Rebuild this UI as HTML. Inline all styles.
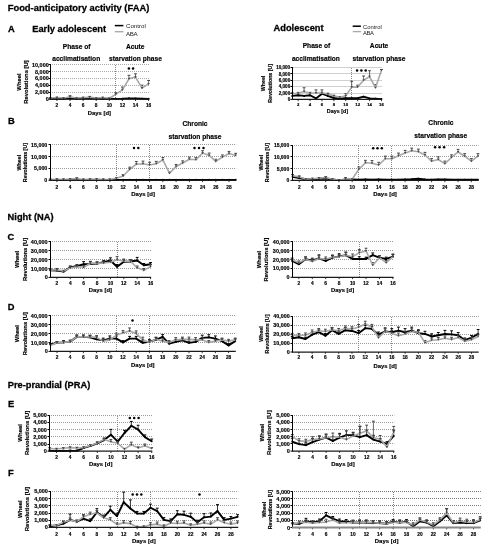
<!DOCTYPE html>
<html><head><meta charset="utf-8"><title>Wheel revolutions figure</title>
<style>
html,body{margin:0;padding:0;background:#fff;}
body{width:488px;height:550px;overflow:hidden;}
svg{display:block;font-family:'Liberation Sans', Arial, sans-serif;}
</style></head><body>
<svg width="488" height="550" viewBox="0 0 488 550">
<rect width="488" height="550" fill="#fff"/>
<line x1="52.00" y1="92.50" x2="149.20" y2="92.50" stroke="#aaa" stroke-width="1" stroke-dasharray="1,1"/>
<line x1="52.00" y1="85.50" x2="149.20" y2="85.50" stroke="#aaa" stroke-width="1" stroke-dasharray="1,1"/>
<line x1="52.00" y1="78.50" x2="149.20" y2="78.50" stroke="#aaa" stroke-width="1" stroke-dasharray="1,1"/>
<line x1="52.00" y1="71.50" x2="149.20" y2="71.50" stroke="#aaa" stroke-width="1" stroke-dasharray="1,1"/>
<line x1="52.00" y1="64.50" x2="149.20" y2="64.50" stroke="#aaa" stroke-width="1" stroke-dasharray="1,1"/>
<line x1="115.50" y1="65.00" x2="115.50" y2="99.20" stroke="#888" stroke-width="1" stroke-dasharray="1,1"/>
<text x="48.70" y="101.27" font-size="5.45" text-anchor="end" font-weight="bold" fill="#000" stroke="#000" stroke-width="0.16" >0</text>
<line x1="48.50" y1="99.20" x2="50.50" y2="99.20" stroke="#000" stroke-width="1" />
<text x="48.70" y="94.33" font-size="5.45" text-anchor="end" font-weight="bold" fill="#000" stroke="#000" stroke-width="0.16" >2,000</text>
<line x1="48.50" y1="92.50" x2="50.50" y2="92.50" stroke="#000" stroke-width="1" />
<text x="48.70" y="87.39" font-size="5.45" text-anchor="end" font-weight="bold" fill="#000" stroke="#000" stroke-width="0.16" >4,000</text>
<line x1="48.50" y1="85.50" x2="50.50" y2="85.50" stroke="#000" stroke-width="1" />
<text x="48.70" y="80.45" font-size="5.45" text-anchor="end" font-weight="bold" fill="#000" stroke="#000" stroke-width="0.16" >6,000</text>
<line x1="48.50" y1="78.50" x2="50.50" y2="78.50" stroke="#000" stroke-width="1" />
<text x="48.70" y="73.51" font-size="5.45" text-anchor="end" font-weight="bold" fill="#000" stroke="#000" stroke-width="0.16" >8,000</text>
<line x1="48.50" y1="71.50" x2="50.50" y2="71.50" stroke="#000" stroke-width="1" />
<text x="48.70" y="66.57" font-size="5.45" text-anchor="end" font-weight="bold" fill="#000" stroke="#000" stroke-width="0.16" >10,000</text>
<line x1="48.50" y1="64.50" x2="50.50" y2="64.50" stroke="#000" stroke-width="1" />
<line x1="56.90" y1="99.20" x2="56.90" y2="101.00" stroke="#000" stroke-width="0.8" />
<text x="56.90" y="106.93" font-size="4.8" text-anchor="middle" font-weight="bold" fill="#000" stroke="#000" stroke-width="0.16" >2</text>
<line x1="70.00" y1="99.20" x2="70.00" y2="101.00" stroke="#000" stroke-width="0.8" />
<text x="70.00" y="106.93" font-size="4.8" text-anchor="middle" font-weight="bold" fill="#000" stroke="#000" stroke-width="0.16" >4</text>
<line x1="83.10" y1="99.20" x2="83.10" y2="101.00" stroke="#000" stroke-width="0.8" />
<text x="83.10" y="106.93" font-size="4.8" text-anchor="middle" font-weight="bold" fill="#000" stroke="#000" stroke-width="0.16" >6</text>
<line x1="96.20" y1="99.20" x2="96.20" y2="101.00" stroke="#000" stroke-width="0.8" />
<text x="96.20" y="106.93" font-size="4.8" text-anchor="middle" font-weight="bold" fill="#000" stroke="#000" stroke-width="0.16" >8</text>
<line x1="109.30" y1="99.20" x2="109.30" y2="101.00" stroke="#000" stroke-width="0.8" />
<text x="109.30" y="106.93" font-size="4.8" text-anchor="middle" font-weight="bold" fill="#000" stroke="#000" stroke-width="0.16" >10</text>
<line x1="122.40" y1="99.20" x2="122.40" y2="101.00" stroke="#000" stroke-width="0.8" />
<text x="122.40" y="106.93" font-size="4.8" text-anchor="middle" font-weight="bold" fill="#000" stroke="#000" stroke-width="0.16" >12</text>
<line x1="135.50" y1="99.20" x2="135.50" y2="101.00" stroke="#000" stroke-width="0.8" />
<text x="135.50" y="106.93" font-size="4.8" text-anchor="middle" font-weight="bold" fill="#000" stroke="#000" stroke-width="0.16" >14</text>
<line x1="148.60" y1="99.20" x2="148.60" y2="101.00" stroke="#000" stroke-width="0.8" />
<text x="148.60" y="106.93" font-size="4.8" text-anchor="middle" font-weight="bold" fill="#000" stroke="#000" stroke-width="0.16" >16</text>
<polyline points="50.35,98.68 56.90,98.51 63.45,98.68 70.00,98.33 76.55,98.68 83.10,98.51 89.65,98.33 96.20,98.51 102.75,98.68 109.30,98.68 115.85,98.85 122.40,98.68 128.95,98.33 135.50,98.51 142.05,98.68 148.60,98.85" fill="none" stroke="#000" stroke-width="1.9" stroke-linejoin="round"/>
<circle cx="50.35" cy="98.68" r="1.0" fill="#000"/>
<circle cx="56.90" cy="98.51" r="1.0" fill="#000"/>
<circle cx="63.45" cy="98.68" r="1.0" fill="#000"/>
<circle cx="70.00" cy="98.33" r="1.0" fill="#000"/>
<circle cx="76.55" cy="98.68" r="1.0" fill="#000"/>
<circle cx="83.10" cy="98.51" r="1.0" fill="#000"/>
<circle cx="89.65" cy="98.33" r="1.0" fill="#000"/>
<circle cx="96.20" cy="98.51" r="1.0" fill="#000"/>
<circle cx="102.75" cy="98.68" r="1.0" fill="#000"/>
<circle cx="109.30" cy="98.68" r="1.0" fill="#000"/>
<circle cx="115.85" cy="98.85" r="1.0" fill="#000"/>
<circle cx="122.40" cy="98.68" r="1.0" fill="#000"/>
<circle cx="128.95" cy="98.33" r="1.0" fill="#000"/>
<circle cx="135.50" cy="98.51" r="1.0" fill="#000"/>
<circle cx="142.05" cy="98.68" r="1.0" fill="#000"/>
<circle cx="148.60" cy="98.85" r="1.0" fill="#000"/>
<line x1="50.35" y1="98.16" x2="50.35" y2="97.47" stroke="#444" stroke-width="0.8" />
<line x1="48.95" y1="97.47" x2="51.75" y2="97.47" stroke="#444" stroke-width="1.0" />
<line x1="56.90" y1="97.81" x2="56.90" y2="97.12" stroke="#444" stroke-width="0.8" />
<line x1="55.50" y1="97.12" x2="58.30" y2="97.12" stroke="#444" stroke-width="1.0" />
<line x1="63.45" y1="98.16" x2="63.45" y2="97.64" stroke="#444" stroke-width="0.8" />
<line x1="62.05" y1="97.64" x2="64.85" y2="97.64" stroke="#444" stroke-width="1.0" />
<line x1="70.00" y1="96.77" x2="70.00" y2="95.73" stroke="#444" stroke-width="0.8" />
<line x1="68.60" y1="95.73" x2="71.40" y2="95.73" stroke="#444" stroke-width="1.0" />
<line x1="76.55" y1="98.16" x2="76.55" y2="97.47" stroke="#444" stroke-width="0.8" />
<line x1="75.15" y1="97.47" x2="77.95" y2="97.47" stroke="#444" stroke-width="1.0" />
<line x1="83.10" y1="97.81" x2="83.10" y2="97.29" stroke="#444" stroke-width="0.8" />
<line x1="81.70" y1="97.29" x2="84.50" y2="97.29" stroke="#444" stroke-width="1.0" />
<line x1="89.65" y1="97.12" x2="89.65" y2="96.42" stroke="#444" stroke-width="0.8" />
<line x1="88.25" y1="96.42" x2="91.05" y2="96.42" stroke="#444" stroke-width="1.0" />
<line x1="96.20" y1="98.16" x2="96.20" y2="97.64" stroke="#444" stroke-width="0.8" />
<line x1="94.80" y1="97.64" x2="97.60" y2="97.64" stroke="#444" stroke-width="1.0" />
<line x1="102.75" y1="97.81" x2="102.75" y2="97.29" stroke="#444" stroke-width="0.8" />
<line x1="101.35" y1="97.29" x2="104.15" y2="97.29" stroke="#444" stroke-width="1.0" />
<line x1="109.30" y1="98.51" x2="109.30" y2="98.16" stroke="#444" stroke-width="0.8" />
<line x1="107.90" y1="98.16" x2="110.70" y2="98.16" stroke="#444" stroke-width="1.0" />
<line x1="115.85" y1="94.10" x2="115.85" y2="92.71" stroke="#444" stroke-width="0.8" />
<line x1="114.45" y1="92.71" x2="117.25" y2="92.71" stroke="#444" stroke-width="1.0" />
<line x1="122.40" y1="89.83" x2="122.40" y2="87.06" stroke="#444" stroke-width="0.8" />
<line x1="121.00" y1="87.06" x2="123.80" y2="87.06" stroke="#444" stroke-width="1.0" />
<line x1="128.95" y1="78.80" x2="128.95" y2="75.33" stroke="#444" stroke-width="0.8" />
<line x1="127.55" y1="75.33" x2="130.35" y2="75.33" stroke="#444" stroke-width="1.0" />
<line x1="135.50" y1="77.10" x2="135.50" y2="73.80" stroke="#444" stroke-width="0.8" />
<line x1="134.10" y1="73.80" x2="136.90" y2="73.80" stroke="#444" stroke-width="1.0" />
<line x1="142.05" y1="88.10" x2="142.05" y2="85.15" stroke="#444" stroke-width="0.8" />
<line x1="140.65" y1="85.15" x2="143.45" y2="85.15" stroke="#444" stroke-width="1.0" />
<line x1="148.60" y1="83.93" x2="148.60" y2="80.46" stroke="#444" stroke-width="0.8" />
<line x1="147.20" y1="80.46" x2="150.00" y2="80.46" stroke="#444" stroke-width="1.0" />
<polyline points="50.35,98.16 56.90,97.81 63.45,98.16 70.00,96.77 76.55,98.16 83.10,97.81 89.65,97.12 96.20,98.16 102.75,97.81 109.30,98.51 115.85,94.10 122.40,89.83 128.95,78.80 135.50,77.10 142.05,88.10 148.60,83.93" fill="none" stroke="#a8a8a8" stroke-width="1.6" stroke-linejoin="round"/>
<path d="M49.15,97.16H51.55L50.35,99.26Z" fill="#444"/>
<path d="M55.70,96.81H58.10L56.90,98.91Z" fill="#444"/>
<path d="M62.25,97.16H64.65L63.45,99.26Z" fill="#444"/>
<path d="M68.80,95.77H71.20L70.00,97.87Z" fill="#444"/>
<path d="M75.35,97.16H77.75L76.55,99.26Z" fill="#444"/>
<path d="M81.90,96.81H84.30L83.10,98.91Z" fill="#444"/>
<path d="M88.45,96.12H90.85L89.65,98.22Z" fill="#444"/>
<path d="M95.00,97.16H97.40L96.20,99.26Z" fill="#444"/>
<path d="M101.55,96.81H103.95L102.75,98.91Z" fill="#444"/>
<path d="M108.10,97.51H110.50L109.30,99.61Z" fill="#444"/>
<path d="M114.65,93.10H117.05L115.85,95.20Z" fill="#444"/>
<path d="M121.20,88.83H123.60L122.40,90.93Z" fill="#444"/>
<path d="M127.75,77.80H130.15L128.95,79.90Z" fill="#444"/>
<path d="M134.30,76.10H136.70L135.50,78.20Z" fill="#444"/>
<path d="M140.85,87.10H143.25L142.05,89.20Z" fill="#444"/>
<path d="M147.40,82.93H149.80L148.60,85.03Z" fill="#444"/>
<line x1="50.50" y1="64.00" x2="50.50" y2="99.20" stroke="#000" stroke-width="1.0" />
<line x1="50.00" y1="99.20" x2="149.20" y2="99.20" stroke="#1a1a1a" stroke-width="1.25" />
<text transform="translate(20.60,82.00) rotate(-90)" font-size="5.9" text-anchor="middle" font-weight="bold" fill="#000" stroke="#000" stroke-width="0.16">Wheel</text>
<text transform="translate(27.60,82.00) rotate(-90)" font-size="5.9" text-anchor="middle" font-weight="bold" fill="#000" stroke="#000" stroke-width="0.16">Revolutions [U]</text>
<text x="99.40" y="114.60" font-size="5.9" text-anchor="middle" font-weight="bold" fill="#000" stroke="#000" stroke-width="0.16" >Days [d]</text>
<line x1="293.00" y1="93.50" x2="382.05" y2="93.50" stroke="#d0d0d0" stroke-width="1" />
<line x1="293.00" y1="86.50" x2="382.05" y2="86.50" stroke="#d0d0d0" stroke-width="1" />
<line x1="293.00" y1="80.50" x2="382.05" y2="80.50" stroke="#d0d0d0" stroke-width="1" />
<line x1="293.00" y1="73.50" x2="382.05" y2="73.50" stroke="#d0d0d0" stroke-width="1" />
<line x1="293.00" y1="67.50" x2="382.05" y2="67.50" stroke="#d0d0d0" stroke-width="1" />
<line x1="351.50" y1="68.00" x2="351.50" y2="99.40" stroke="#888" stroke-width="1" stroke-dasharray="1,1"/>
<text x="290.20" y="101.15" font-size="4.6" text-anchor="end" font-weight="bold" fill="#000" stroke="#000" stroke-width="0.16" >0</text>
<line x1="290.50" y1="99.40" x2="292.50" y2="99.40" stroke="#000" stroke-width="1" />
<text x="290.20" y="94.75" font-size="4.6" text-anchor="end" font-weight="bold" fill="#000" stroke="#000" stroke-width="0.16" >2,000</text>
<line x1="290.50" y1="93.50" x2="292.50" y2="93.50" stroke="#000" stroke-width="1" />
<text x="290.20" y="88.35" font-size="4.6" text-anchor="end" font-weight="bold" fill="#000" stroke="#000" stroke-width="0.16" >4,000</text>
<line x1="290.50" y1="86.50" x2="292.50" y2="86.50" stroke="#000" stroke-width="1" />
<text x="290.20" y="81.95" font-size="4.6" text-anchor="end" font-weight="bold" fill="#000" stroke="#000" stroke-width="0.16" >6,000</text>
<line x1="290.50" y1="80.50" x2="292.50" y2="80.50" stroke="#000" stroke-width="1" />
<text x="290.20" y="75.55" font-size="4.6" text-anchor="end" font-weight="bold" fill="#000" stroke="#000" stroke-width="0.16" >8,000</text>
<line x1="290.50" y1="73.50" x2="292.50" y2="73.50" stroke="#000" stroke-width="1" />
<text x="290.20" y="69.15" font-size="4.6" text-anchor="end" font-weight="bold" fill="#000" stroke="#000" stroke-width="0.16" >10,000</text>
<line x1="290.50" y1="67.50" x2="292.50" y2="67.50" stroke="#000" stroke-width="1" />
<line x1="298.15" y1="99.40" x2="298.15" y2="101.20" stroke="#000" stroke-width="0.8" />
<text x="298.15" y="106.35" font-size="4.3" text-anchor="middle" font-weight="bold" fill="#000" stroke="#000" stroke-width="0.16" >2</text>
<line x1="310.05" y1="99.40" x2="310.05" y2="101.20" stroke="#000" stroke-width="0.8" />
<text x="310.05" y="106.35" font-size="4.3" text-anchor="middle" font-weight="bold" fill="#000" stroke="#000" stroke-width="0.16" >4</text>
<line x1="321.95" y1="99.40" x2="321.95" y2="101.20" stroke="#000" stroke-width="0.8" />
<text x="321.95" y="106.35" font-size="4.3" text-anchor="middle" font-weight="bold" fill="#000" stroke="#000" stroke-width="0.16" >6</text>
<line x1="333.85" y1="99.40" x2="333.85" y2="101.20" stroke="#000" stroke-width="0.8" />
<text x="333.85" y="106.35" font-size="4.3" text-anchor="middle" font-weight="bold" fill="#000" stroke="#000" stroke-width="0.16" >8</text>
<line x1="345.75" y1="99.40" x2="345.75" y2="101.20" stroke="#000" stroke-width="0.8" />
<text x="345.75" y="106.35" font-size="4.3" text-anchor="middle" font-weight="bold" fill="#000" stroke="#000" stroke-width="0.16" >10</text>
<line x1="357.65" y1="99.40" x2="357.65" y2="101.20" stroke="#000" stroke-width="0.8" />
<text x="357.65" y="106.35" font-size="4.3" text-anchor="middle" font-weight="bold" fill="#000" stroke="#000" stroke-width="0.16" >12</text>
<line x1="369.55" y1="99.40" x2="369.55" y2="101.20" stroke="#000" stroke-width="0.8" />
<text x="369.55" y="106.35" font-size="4.3" text-anchor="middle" font-weight="bold" fill="#000" stroke="#000" stroke-width="0.16" >14</text>
<line x1="381.45" y1="99.40" x2="381.45" y2="101.20" stroke="#000" stroke-width="0.8" />
<text x="381.45" y="106.35" font-size="4.3" text-anchor="middle" font-weight="bold" fill="#000" stroke="#000" stroke-width="0.16" >16</text>
<polyline points="292.20,95.88 298.15,95.24 304.10,95.88 310.05,95.24 316.00,98.44 321.95,93.64 327.90,95.88 333.85,97.99 339.80,98.44 345.75,98.28 351.70,98.28 357.65,98.28 363.60,96.68 369.55,98.44 375.50,98.76 381.45,99.08" fill="none" stroke="#000" stroke-width="1.9" stroke-linejoin="round"/>
<circle cx="292.20" cy="95.88" r="1.0" fill="#000"/>
<circle cx="298.15" cy="95.24" r="1.0" fill="#000"/>
<circle cx="304.10" cy="95.88" r="1.0" fill="#000"/>
<circle cx="310.05" cy="95.24" r="1.0" fill="#000"/>
<circle cx="316.00" cy="98.44" r="1.0" fill="#000"/>
<circle cx="321.95" cy="93.64" r="1.0" fill="#000"/>
<circle cx="327.90" cy="95.88" r="1.0" fill="#000"/>
<circle cx="333.85" cy="97.99" r="1.0" fill="#000"/>
<circle cx="339.80" cy="98.44" r="1.0" fill="#000"/>
<circle cx="345.75" cy="98.28" r="1.0" fill="#000"/>
<circle cx="351.70" cy="98.28" r="1.0" fill="#000"/>
<circle cx="357.65" cy="98.28" r="1.0" fill="#000"/>
<circle cx="363.60" cy="96.68" r="1.0" fill="#000"/>
<circle cx="369.55" cy="98.44" r="1.0" fill="#000"/>
<circle cx="375.50" cy="98.76" r="1.0" fill="#000"/>
<circle cx="381.45" cy="99.08" r="1.0" fill="#000"/>
<line x1="292.20" y1="93.70" x2="292.20" y2="92.74" stroke="#444" stroke-width="0.8" />
<line x1="290.80" y1="92.74" x2="293.60" y2="92.74" stroke="#444" stroke-width="1.0" />
<line x1="298.15" y1="93.32" x2="298.15" y2="92.36" stroke="#444" stroke-width="0.8" />
<line x1="296.75" y1="92.36" x2="299.55" y2="92.36" stroke="#444" stroke-width="1.0" />
<line x1="304.10" y1="91.59" x2="304.10" y2="87.75" stroke="#444" stroke-width="0.8" />
<line x1="302.70" y1="87.75" x2="305.50" y2="87.75" stroke="#444" stroke-width="1.0" />
<line x1="310.05" y1="93.32" x2="310.05" y2="92.36" stroke="#444" stroke-width="0.8" />
<line x1="308.65" y1="92.36" x2="311.45" y2="92.36" stroke="#444" stroke-width="1.0" />
<line x1="316.00" y1="93.00" x2="316.00" y2="89.90" stroke="#444" stroke-width="0.8" />
<line x1="314.60" y1="89.90" x2="317.40" y2="89.90" stroke="#444" stroke-width="1.0" />
<line x1="321.95" y1="92.68" x2="321.95" y2="89.90" stroke="#444" stroke-width="0.8" />
<line x1="320.55" y1="89.90" x2="323.35" y2="89.90" stroke="#444" stroke-width="1.0" />
<line x1="327.90" y1="94.12" x2="327.90" y2="93.16" stroke="#444" stroke-width="0.8" />
<line x1="326.50" y1="93.16" x2="329.30" y2="93.16" stroke="#444" stroke-width="1.0" />
<line x1="333.85" y1="95.88" x2="333.85" y2="95.24" stroke="#444" stroke-width="0.8" />
<line x1="332.45" y1="95.24" x2="335.25" y2="95.24" stroke="#444" stroke-width="1.0" />
<line x1="339.80" y1="97.32" x2="339.80" y2="96.68" stroke="#444" stroke-width="0.8" />
<line x1="338.40" y1="96.68" x2="341.20" y2="96.68" stroke="#444" stroke-width="1.0" />
<line x1="345.75" y1="95.88" x2="345.75" y2="93.70" stroke="#444" stroke-width="0.8" />
<line x1="344.35" y1="93.70" x2="347.15" y2="93.70" stroke="#444" stroke-width="1.0" />
<line x1="351.70" y1="87.08" x2="351.70" y2="81.32" stroke="#444" stroke-width="0.8" />
<line x1="350.30" y1="81.32" x2="353.10" y2="81.32" stroke="#444" stroke-width="1.0" />
<line x1="357.65" y1="87.08" x2="357.65" y2="85.16" stroke="#444" stroke-width="0.8" />
<line x1="356.25" y1="85.16" x2="359.05" y2="85.16" stroke="#444" stroke-width="1.0" />
<line x1="363.60" y1="80.26" x2="363.60" y2="76.01" stroke="#444" stroke-width="0.8" />
<line x1="362.20" y1="76.01" x2="365.00" y2="76.01" stroke="#444" stroke-width="1.0" />
<line x1="369.55" y1="76.62" x2="369.55" y2="70.70" stroke="#444" stroke-width="0.8" />
<line x1="368.15" y1="70.70" x2="370.95" y2="70.70" stroke="#444" stroke-width="1.0" />
<line x1="375.50" y1="87.69" x2="375.50" y2="84.49" stroke="#444" stroke-width="0.8" />
<line x1="374.10" y1="84.49" x2="376.90" y2="84.49" stroke="#444" stroke-width="1.0" />
<line x1="381.45" y1="70.22" x2="381.45" y2="69.58" stroke="#444" stroke-width="0.8" />
<line x1="380.05" y1="69.58" x2="382.85" y2="69.58" stroke="#444" stroke-width="1.0" />
<polyline points="292.20,93.70 298.15,93.32 304.10,91.59 310.05,93.32 316.00,93.00 321.95,92.68 327.90,94.12 333.85,95.88 339.80,97.32 345.75,95.88 351.70,87.08 357.65,87.08 363.60,80.26 369.55,76.62 375.50,87.69 381.45,70.22" fill="none" stroke="#a8a8a8" stroke-width="1.6" stroke-linejoin="round"/>
<path d="M291.00,92.70H293.40L292.20,94.80Z" fill="#444"/>
<path d="M296.95,92.32H299.35L298.15,94.42Z" fill="#444"/>
<path d="M302.90,90.59H305.30L304.10,92.69Z" fill="#444"/>
<path d="M308.85,92.32H311.25L310.05,94.42Z" fill="#444"/>
<path d="M314.80,92.00H317.20L316.00,94.10Z" fill="#444"/>
<path d="M320.75,91.68H323.15L321.95,93.78Z" fill="#444"/>
<path d="M326.70,93.12H329.10L327.90,95.22Z" fill="#444"/>
<path d="M332.65,94.88H335.05L333.85,96.98Z" fill="#444"/>
<path d="M338.60,96.32H341.00L339.80,98.42Z" fill="#444"/>
<path d="M344.55,94.88H346.95L345.75,96.98Z" fill="#444"/>
<path d="M350.50,86.08H352.90L351.70,88.18Z" fill="#444"/>
<path d="M356.45,86.08H358.85L357.65,88.18Z" fill="#444"/>
<path d="M362.40,79.26H364.80L363.60,81.36Z" fill="#444"/>
<path d="M368.35,75.62H370.75L369.55,77.72Z" fill="#444"/>
<path d="M374.30,86.69H376.70L375.50,88.79Z" fill="#444"/>
<path d="M380.25,69.22H382.65L381.45,71.32Z" fill="#444"/>
<line x1="292.50" y1="67.00" x2="292.50" y2="99.20" stroke="#000" stroke-width="1.0" />
<line x1="292.00" y1="99.40" x2="382.05" y2="99.40" stroke="#1a1a1a" stroke-width="1.25" />
<text transform="translate(265.30,83.40) rotate(-90)" font-size="5.25" text-anchor="middle" font-weight="bold" fill="#000" stroke="#000" stroke-width="0.16">Wheel</text>
<text transform="translate(271.60,83.40) rotate(-90)" font-size="5.25" text-anchor="middle" font-weight="bold" fill="#000" stroke="#000" stroke-width="0.16">Revolutions [U]</text>
<text x="337.50" y="112.70" font-size="5.4" text-anchor="middle" font-weight="bold" fill="#000" stroke="#000" stroke-width="0.16" >Days [d]</text>
<line x1="52.00" y1="168.50" x2="236.26" y2="168.50" stroke="#999" stroke-width="1" stroke-dasharray="1,1"/>
<line x1="52.00" y1="156.50" x2="236.26" y2="156.50" stroke="#999" stroke-width="1" stroke-dasharray="1,1"/>
<line x1="52.00" y1="144.50" x2="236.26" y2="144.50" stroke="#999" stroke-width="1" stroke-dasharray="1,1"/>
<line x1="116.50" y1="145.00" x2="116.50" y2="180.30" stroke="#888" stroke-width="1" stroke-dasharray="1,1"/>
<line x1="149.50" y1="145.00" x2="149.50" y2="180.30" stroke="#888" stroke-width="1" stroke-dasharray="1,1"/>
<text x="47.30" y="182.31" font-size="5.3" text-anchor="end" font-weight="bold" fill="#000" stroke="#000" stroke-width="0.16" >0</text>
<line x1="48.50" y1="180.30" x2="50.50" y2="180.30" stroke="#000" stroke-width="1" />
<text x="47.30" y="170.48" font-size="5.3" text-anchor="end" font-weight="bold" fill="#000" stroke="#000" stroke-width="0.16" >5,000</text>
<line x1="48.50" y1="168.50" x2="50.50" y2="168.50" stroke="#000" stroke-width="1" />
<text x="47.30" y="158.65" font-size="5.3" text-anchor="end" font-weight="bold" fill="#000" stroke="#000" stroke-width="0.16" >10,000</text>
<line x1="48.50" y1="156.50" x2="50.50" y2="156.50" stroke="#000" stroke-width="1" />
<text x="47.30" y="146.81" font-size="5.3" text-anchor="end" font-weight="bold" fill="#000" stroke="#000" stroke-width="0.16" >15,000</text>
<line x1="48.50" y1="144.50" x2="50.50" y2="144.50" stroke="#000" stroke-width="1" />
<line x1="56.92" y1="180.30" x2="56.92" y2="182.10" stroke="#000" stroke-width="0.8" />
<text x="56.92" y="188.63" font-size="4.8" text-anchor="middle" font-weight="bold" fill="#000" stroke="#000" stroke-width="0.16" >2</text>
<line x1="70.16" y1="180.30" x2="70.16" y2="182.10" stroke="#000" stroke-width="0.8" />
<text x="70.16" y="188.63" font-size="4.8" text-anchor="middle" font-weight="bold" fill="#000" stroke="#000" stroke-width="0.16" >4</text>
<line x1="83.40" y1="180.30" x2="83.40" y2="182.10" stroke="#000" stroke-width="0.8" />
<text x="83.40" y="188.63" font-size="4.8" text-anchor="middle" font-weight="bold" fill="#000" stroke="#000" stroke-width="0.16" >6</text>
<line x1="96.64" y1="180.30" x2="96.64" y2="182.10" stroke="#000" stroke-width="0.8" />
<text x="96.64" y="188.63" font-size="4.8" text-anchor="middle" font-weight="bold" fill="#000" stroke="#000" stroke-width="0.16" >8</text>
<line x1="109.88" y1="180.30" x2="109.88" y2="182.10" stroke="#000" stroke-width="0.8" />
<text x="109.88" y="188.63" font-size="4.8" text-anchor="middle" font-weight="bold" fill="#000" stroke="#000" stroke-width="0.16" >10</text>
<line x1="123.12" y1="180.30" x2="123.12" y2="182.10" stroke="#000" stroke-width="0.8" />
<text x="123.12" y="188.63" font-size="4.8" text-anchor="middle" font-weight="bold" fill="#000" stroke="#000" stroke-width="0.16" >12</text>
<line x1="136.36" y1="180.30" x2="136.36" y2="182.10" stroke="#000" stroke-width="0.8" />
<text x="136.36" y="188.63" font-size="4.8" text-anchor="middle" font-weight="bold" fill="#000" stroke="#000" stroke-width="0.16" >14</text>
<line x1="149.60" y1="180.30" x2="149.60" y2="182.10" stroke="#000" stroke-width="0.8" />
<text x="149.60" y="188.63" font-size="4.8" text-anchor="middle" font-weight="bold" fill="#000" stroke="#000" stroke-width="0.16" >16</text>
<line x1="162.84" y1="180.30" x2="162.84" y2="182.10" stroke="#000" stroke-width="0.8" />
<text x="162.84" y="188.63" font-size="4.8" text-anchor="middle" font-weight="bold" fill="#000" stroke="#000" stroke-width="0.16" >18</text>
<line x1="176.08" y1="180.30" x2="176.08" y2="182.10" stroke="#000" stroke-width="0.8" />
<text x="176.08" y="188.63" font-size="4.8" text-anchor="middle" font-weight="bold" fill="#000" stroke="#000" stroke-width="0.16" >20</text>
<line x1="189.32" y1="180.30" x2="189.32" y2="182.10" stroke="#000" stroke-width="0.8" />
<text x="189.32" y="188.63" font-size="4.8" text-anchor="middle" font-weight="bold" fill="#000" stroke="#000" stroke-width="0.16" >22</text>
<line x1="202.56" y1="180.30" x2="202.56" y2="182.10" stroke="#000" stroke-width="0.8" />
<text x="202.56" y="188.63" font-size="4.8" text-anchor="middle" font-weight="bold" fill="#000" stroke="#000" stroke-width="0.16" >24</text>
<line x1="215.80" y1="180.30" x2="215.80" y2="182.10" stroke="#000" stroke-width="0.8" />
<text x="215.80" y="188.63" font-size="4.8" text-anchor="middle" font-weight="bold" fill="#000" stroke="#000" stroke-width="0.16" >26</text>
<line x1="229.04" y1="180.30" x2="229.04" y2="182.10" stroke="#000" stroke-width="0.8" />
<text x="229.04" y="188.63" font-size="4.8" text-anchor="middle" font-weight="bold" fill="#000" stroke="#000" stroke-width="0.16" >28</text>
<polyline points="50.30,179.83 56.92,179.83 63.54,179.83 70.16,179.83 76.78,179.83 83.40,179.83 90.02,179.83 96.64,179.83 103.26,179.83 109.88,179.83 116.50,179.83 123.12,179.83 129.74,179.83 136.36,179.83 142.98,179.83 149.60,179.83 156.22,179.83 162.84,179.83 169.46,179.83 176.08,179.83 182.70,179.83 189.32,179.83 195.94,179.83 202.56,179.83 209.18,179.83 215.80,179.83 222.42,179.83 229.04,179.83 235.66,179.83" fill="none" stroke="#000" stroke-width="1.9" stroke-linejoin="round"/>
<circle cx="50.30" cy="179.83" r="1.0" fill="#000"/>
<circle cx="56.92" cy="179.83" r="1.0" fill="#000"/>
<circle cx="63.54" cy="179.83" r="1.0" fill="#000"/>
<circle cx="70.16" cy="179.83" r="1.0" fill="#000"/>
<circle cx="76.78" cy="179.83" r="1.0" fill="#000"/>
<circle cx="83.40" cy="179.83" r="1.0" fill="#000"/>
<circle cx="90.02" cy="179.83" r="1.0" fill="#000"/>
<circle cx="96.64" cy="179.83" r="1.0" fill="#000"/>
<circle cx="103.26" cy="179.83" r="1.0" fill="#000"/>
<circle cx="109.88" cy="179.83" r="1.0" fill="#000"/>
<circle cx="116.50" cy="179.83" r="1.0" fill="#000"/>
<circle cx="123.12" cy="179.83" r="1.0" fill="#000"/>
<circle cx="129.74" cy="179.83" r="1.0" fill="#000"/>
<circle cx="136.36" cy="179.83" r="1.0" fill="#000"/>
<circle cx="142.98" cy="179.83" r="1.0" fill="#000"/>
<circle cx="149.60" cy="179.83" r="1.0" fill="#000"/>
<circle cx="156.22" cy="179.83" r="1.0" fill="#000"/>
<circle cx="162.84" cy="179.83" r="1.0" fill="#000"/>
<circle cx="169.46" cy="179.83" r="1.0" fill="#000"/>
<circle cx="176.08" cy="179.83" r="1.0" fill="#000"/>
<circle cx="182.70" cy="179.83" r="1.0" fill="#000"/>
<circle cx="189.32" cy="179.83" r="1.0" fill="#000"/>
<circle cx="195.94" cy="179.83" r="1.0" fill="#000"/>
<circle cx="202.56" cy="179.83" r="1.0" fill="#000"/>
<circle cx="209.18" cy="179.83" r="1.0" fill="#000"/>
<circle cx="215.80" cy="179.83" r="1.0" fill="#000"/>
<circle cx="222.42" cy="179.83" r="1.0" fill="#000"/>
<circle cx="229.04" cy="179.83" r="1.0" fill="#000"/>
<circle cx="235.66" cy="179.83" r="1.0" fill="#000"/>
<line x1="50.30" y1="179.59" x2="50.30" y2="179.12" stroke="#444" stroke-width="0.8" />
<line x1="48.90" y1="179.12" x2="51.70" y2="179.12" stroke="#444" stroke-width="1.0" />
<line x1="56.92" y1="179.35" x2="56.92" y2="178.88" stroke="#444" stroke-width="0.8" />
<line x1="55.52" y1="178.88" x2="58.32" y2="178.88" stroke="#444" stroke-width="1.0" />
<line x1="63.54" y1="179.47" x2="63.54" y2="179.00" stroke="#444" stroke-width="0.8" />
<line x1="62.14" y1="179.00" x2="64.94" y2="179.00" stroke="#444" stroke-width="1.0" />
<line x1="70.16" y1="179.12" x2="70.16" y2="178.64" stroke="#444" stroke-width="0.8" />
<line x1="68.76" y1="178.64" x2="71.56" y2="178.64" stroke="#444" stroke-width="1.0" />
<line x1="76.78" y1="178.64" x2="76.78" y2="177.70" stroke="#444" stroke-width="0.8" />
<line x1="75.38" y1="177.70" x2="78.18" y2="177.70" stroke="#444" stroke-width="1.0" />
<line x1="83.40" y1="179.59" x2="83.40" y2="179.12" stroke="#444" stroke-width="0.8" />
<line x1="82.00" y1="179.12" x2="84.80" y2="179.12" stroke="#444" stroke-width="1.0" />
<line x1="90.02" y1="179.35" x2="90.02" y2="178.88" stroke="#444" stroke-width="0.8" />
<line x1="88.62" y1="178.88" x2="91.42" y2="178.88" stroke="#444" stroke-width="1.0" />
<line x1="96.64" y1="179.12" x2="96.64" y2="178.64" stroke="#444" stroke-width="0.8" />
<line x1="95.24" y1="178.64" x2="98.04" y2="178.64" stroke="#444" stroke-width="1.0" />
<line x1="103.26" y1="179.47" x2="103.26" y2="179.00" stroke="#444" stroke-width="0.8" />
<line x1="101.86" y1="179.00" x2="104.66" y2="179.00" stroke="#444" stroke-width="1.0" />
<line x1="109.88" y1="179.59" x2="109.88" y2="179.12" stroke="#444" stroke-width="0.8" />
<line x1="108.48" y1="179.12" x2="111.28" y2="179.12" stroke="#444" stroke-width="1.0" />
<line x1="116.50" y1="178.17" x2="116.50" y2="177.46" stroke="#444" stroke-width="0.8" />
<line x1="115.10" y1="177.46" x2="117.90" y2="177.46" stroke="#444" stroke-width="1.0" />
<line x1="123.12" y1="176.04" x2="123.12" y2="174.62" stroke="#444" stroke-width="0.8" />
<line x1="121.72" y1="174.62" x2="124.52" y2="174.62" stroke="#444" stroke-width="1.0" />
<line x1="129.74" y1="169.30" x2="129.74" y2="167.17" stroke="#444" stroke-width="0.8" />
<line x1="128.34" y1="167.17" x2="131.14" y2="167.17" stroke="#444" stroke-width="1.0" />
<line x1="136.36" y1="164.21" x2="136.36" y2="161.60" stroke="#444" stroke-width="0.8" />
<line x1="134.96" y1="161.60" x2="137.76" y2="161.60" stroke="#444" stroke-width="1.0" />
<line x1="142.98" y1="163.73" x2="142.98" y2="161.13" stroke="#444" stroke-width="0.8" />
<line x1="141.58" y1="161.13" x2="144.38" y2="161.13" stroke="#444" stroke-width="1.0" />
<line x1="149.60" y1="164.92" x2="149.60" y2="162.31" stroke="#444" stroke-width="0.8" />
<line x1="148.20" y1="162.31" x2="151.00" y2="162.31" stroke="#444" stroke-width="1.0" />
<line x1="156.22" y1="163.73" x2="156.22" y2="161.37" stroke="#444" stroke-width="0.8" />
<line x1="154.82" y1="161.37" x2="157.62" y2="161.37" stroke="#444" stroke-width="1.0" />
<line x1="162.84" y1="159.95" x2="162.84" y2="157.58" stroke="#444" stroke-width="0.8" />
<line x1="161.44" y1="157.58" x2="164.24" y2="157.58" stroke="#444" stroke-width="1.0" />
<line x1="169.46" y1="173.20" x2="169.46" y2="172.02" stroke="#444" stroke-width="0.8" />
<line x1="168.06" y1="172.02" x2="170.86" y2="172.02" stroke="#444" stroke-width="1.0" />
<line x1="176.08" y1="166.57" x2="176.08" y2="164.44" stroke="#444" stroke-width="0.8" />
<line x1="174.68" y1="164.44" x2="177.48" y2="164.44" stroke="#444" stroke-width="1.0" />
<line x1="182.70" y1="163.02" x2="182.70" y2="160.89" stroke="#444" stroke-width="0.8" />
<line x1="181.30" y1="160.89" x2="184.10" y2="160.89" stroke="#444" stroke-width="1.0" />
<line x1="189.32" y1="159.24" x2="189.32" y2="157.11" stroke="#444" stroke-width="0.8" />
<line x1="187.92" y1="157.11" x2="190.72" y2="157.11" stroke="#444" stroke-width="1.0" />
<line x1="195.94" y1="159.71" x2="195.94" y2="157.58" stroke="#444" stroke-width="0.8" />
<line x1="194.54" y1="157.58" x2="197.34" y2="157.58" stroke="#444" stroke-width="1.0" />
<line x1="202.56" y1="153.08" x2="202.56" y2="150.72" stroke="#444" stroke-width="0.8" />
<line x1="201.16" y1="150.72" x2="203.96" y2="150.72" stroke="#444" stroke-width="1.0" />
<line x1="209.18" y1="155.45" x2="209.18" y2="153.08" stroke="#444" stroke-width="0.8" />
<line x1="207.78" y1="153.08" x2="210.58" y2="153.08" stroke="#444" stroke-width="1.0" />
<line x1="215.80" y1="161.37" x2="215.80" y2="159.24" stroke="#444" stroke-width="0.8" />
<line x1="214.40" y1="159.24" x2="217.20" y2="159.24" stroke="#444" stroke-width="1.0" />
<line x1="222.42" y1="157.11" x2="222.42" y2="154.98" stroke="#444" stroke-width="0.8" />
<line x1="221.02" y1="154.98" x2="223.82" y2="154.98" stroke="#444" stroke-width="1.0" />
<line x1="229.04" y1="153.56" x2="229.04" y2="151.43" stroke="#444" stroke-width="0.8" />
<line x1="227.64" y1="151.43" x2="230.44" y2="151.43" stroke="#444" stroke-width="1.0" />
<line x1="235.66" y1="155.45" x2="235.66" y2="153.32" stroke="#444" stroke-width="0.8" />
<line x1="234.26" y1="153.32" x2="237.06" y2="153.32" stroke="#444" stroke-width="1.0" />
<polyline points="50.30,179.59 56.92,179.35 63.54,179.47 70.16,179.12 76.78,178.64 83.40,179.59 90.02,179.35 96.64,179.12 103.26,179.47 109.88,179.59 116.50,178.17 123.12,176.04 129.74,169.30 136.36,164.21 142.98,163.73 149.60,164.92 156.22,163.73 162.84,159.95 169.46,173.20 176.08,166.57 182.70,163.02 189.32,159.24 195.94,159.71 202.56,153.08 209.18,155.45 215.80,161.37 222.42,157.11 229.04,153.56 235.66,155.45" fill="none" stroke="#a8a8a8" stroke-width="1.6" stroke-linejoin="round"/>
<path d="M49.10,178.59H51.50L50.30,180.69Z" fill="#444"/>
<path d="M55.72,178.35H58.12L56.92,180.45Z" fill="#444"/>
<path d="M62.34,178.47H64.74L63.54,180.57Z" fill="#444"/>
<path d="M68.96,178.12H71.36L70.16,180.22Z" fill="#444"/>
<path d="M75.58,177.64H77.98L76.78,179.74Z" fill="#444"/>
<path d="M82.20,178.59H84.60L83.40,180.69Z" fill="#444"/>
<path d="M88.82,178.35H91.22L90.02,180.45Z" fill="#444"/>
<path d="M95.44,178.12H97.84L96.64,180.22Z" fill="#444"/>
<path d="M102.06,178.47H104.46L103.26,180.57Z" fill="#444"/>
<path d="M108.68,178.59H111.08L109.88,180.69Z" fill="#444"/>
<path d="M115.30,177.17H117.70L116.50,179.27Z" fill="#444"/>
<path d="M121.92,175.04H124.32L123.12,177.14Z" fill="#444"/>
<path d="M128.54,168.30H130.94L129.74,170.40Z" fill="#444"/>
<path d="M135.16,163.21H137.56L136.36,165.31Z" fill="#444"/>
<path d="M141.78,162.73H144.18L142.98,164.83Z" fill="#444"/>
<path d="M148.40,163.92H150.80L149.60,166.02Z" fill="#444"/>
<path d="M155.02,162.73H157.42L156.22,164.83Z" fill="#444"/>
<path d="M161.64,158.95H164.04L162.84,161.05Z" fill="#444"/>
<path d="M168.26,172.20H170.66L169.46,174.30Z" fill="#444"/>
<path d="M174.88,165.57H177.28L176.08,167.67Z" fill="#444"/>
<path d="M181.50,162.02H183.90L182.70,164.12Z" fill="#444"/>
<path d="M188.12,158.24H190.52L189.32,160.34Z" fill="#444"/>
<path d="M194.74,158.71H197.14L195.94,160.81Z" fill="#444"/>
<path d="M201.36,152.08H203.76L202.56,154.18Z" fill="#444"/>
<path d="M207.98,154.45H210.38L209.18,156.55Z" fill="#444"/>
<path d="M214.60,160.37H217.00L215.80,162.47Z" fill="#444"/>
<path d="M221.22,156.11H223.62L222.42,158.21Z" fill="#444"/>
<path d="M227.84,152.56H230.24L229.04,154.66Z" fill="#444"/>
<path d="M234.46,154.45H236.86L235.66,156.55Z" fill="#444"/>
<line x1="50.50" y1="144.00" x2="50.50" y2="180.20" stroke="#000" stroke-width="1.0" />
<line x1="50.00" y1="180.30" x2="236.26" y2="180.30" stroke="#1a1a1a" stroke-width="1.25" />
<text transform="translate(20.90,162.60) rotate(-90)" font-size="5.3" text-anchor="middle" font-weight="bold" fill="#000" stroke="#000" stroke-width="0.16">Wheel</text>
<text transform="translate(27.00,162.60) rotate(-90)" font-size="5.3" text-anchor="middle" font-weight="bold" fill="#000" stroke="#000" stroke-width="0.16">Revolutions [U]</text>
<text x="143.10" y="196.00" font-size="6.0" text-anchor="middle" font-weight="bold" fill="#000" stroke="#000" stroke-width="0.16" >Days [d]</text>
<line x1="294.00" y1="168.50" x2="478.56" y2="168.50" stroke="#999" stroke-width="1" stroke-dasharray="1,1"/>
<line x1="294.00" y1="156.50" x2="478.56" y2="156.50" stroke="#999" stroke-width="1" stroke-dasharray="1,1"/>
<line x1="294.00" y1="145.50" x2="478.56" y2="145.50" stroke="#999" stroke-width="1" stroke-dasharray="1,1"/>
<line x1="358.50" y1="146.00" x2="358.50" y2="180.40" stroke="#888" stroke-width="1" stroke-dasharray="1,1"/>
<line x1="391.50" y1="146.00" x2="391.50" y2="180.40" stroke="#888" stroke-width="1" stroke-dasharray="1,1"/>
<text x="289.20" y="182.30" font-size="5.0" text-anchor="end" font-weight="bold" fill="#000" stroke="#000" stroke-width="0.16" >0</text>
<line x1="290.50" y1="180.40" x2="292.50" y2="180.40" stroke="#000" stroke-width="1" />
<text x="289.20" y="170.50" font-size="5.0" text-anchor="end" font-weight="bold" fill="#000" stroke="#000" stroke-width="0.16" >5,000</text>
<line x1="290.50" y1="168.50" x2="292.50" y2="168.50" stroke="#000" stroke-width="1" />
<text x="289.20" y="158.70" font-size="5.0" text-anchor="end" font-weight="bold" fill="#000" stroke="#000" stroke-width="0.16" >10,000</text>
<line x1="290.50" y1="156.50" x2="292.50" y2="156.50" stroke="#000" stroke-width="1" />
<text x="289.20" y="146.90" font-size="5.0" text-anchor="end" font-weight="bold" fill="#000" stroke="#000" stroke-width="0.16" >15,000</text>
<line x1="290.50" y1="145.50" x2="292.50" y2="145.50" stroke="#000" stroke-width="1" />
<line x1="299.22" y1="180.40" x2="299.22" y2="182.20" stroke="#000" stroke-width="0.8" />
<text x="299.22" y="188.63" font-size="4.8" text-anchor="middle" font-weight="bold" fill="#000" stroke="#000" stroke-width="0.16" >2</text>
<line x1="312.46" y1="180.40" x2="312.46" y2="182.20" stroke="#000" stroke-width="0.8" />
<text x="312.46" y="188.63" font-size="4.8" text-anchor="middle" font-weight="bold" fill="#000" stroke="#000" stroke-width="0.16" >4</text>
<line x1="325.70" y1="180.40" x2="325.70" y2="182.20" stroke="#000" stroke-width="0.8" />
<text x="325.70" y="188.63" font-size="4.8" text-anchor="middle" font-weight="bold" fill="#000" stroke="#000" stroke-width="0.16" >6</text>
<line x1="338.94" y1="180.40" x2="338.94" y2="182.20" stroke="#000" stroke-width="0.8" />
<text x="338.94" y="188.63" font-size="4.8" text-anchor="middle" font-weight="bold" fill="#000" stroke="#000" stroke-width="0.16" >8</text>
<line x1="352.18" y1="180.40" x2="352.18" y2="182.20" stroke="#000" stroke-width="0.8" />
<text x="352.18" y="188.63" font-size="4.8" text-anchor="middle" font-weight="bold" fill="#000" stroke="#000" stroke-width="0.16" >10</text>
<line x1="365.42" y1="180.40" x2="365.42" y2="182.20" stroke="#000" stroke-width="0.8" />
<text x="365.42" y="188.63" font-size="4.8" text-anchor="middle" font-weight="bold" fill="#000" stroke="#000" stroke-width="0.16" >12</text>
<line x1="378.66" y1="180.40" x2="378.66" y2="182.20" stroke="#000" stroke-width="0.8" />
<text x="378.66" y="188.63" font-size="4.8" text-anchor="middle" font-weight="bold" fill="#000" stroke="#000" stroke-width="0.16" >14</text>
<line x1="391.90" y1="180.40" x2="391.90" y2="182.20" stroke="#000" stroke-width="0.8" />
<text x="391.90" y="188.63" font-size="4.8" text-anchor="middle" font-weight="bold" fill="#000" stroke="#000" stroke-width="0.16" >16</text>
<line x1="405.14" y1="180.40" x2="405.14" y2="182.20" stroke="#000" stroke-width="0.8" />
<text x="405.14" y="188.63" font-size="4.8" text-anchor="middle" font-weight="bold" fill="#000" stroke="#000" stroke-width="0.16" >18</text>
<line x1="418.38" y1="180.40" x2="418.38" y2="182.20" stroke="#000" stroke-width="0.8" />
<text x="418.38" y="188.63" font-size="4.8" text-anchor="middle" font-weight="bold" fill="#000" stroke="#000" stroke-width="0.16" >20</text>
<line x1="431.62" y1="180.40" x2="431.62" y2="182.20" stroke="#000" stroke-width="0.8" />
<text x="431.62" y="188.63" font-size="4.8" text-anchor="middle" font-weight="bold" fill="#000" stroke="#000" stroke-width="0.16" >22</text>
<line x1="444.86" y1="180.40" x2="444.86" y2="182.20" stroke="#000" stroke-width="0.8" />
<text x="444.86" y="188.63" font-size="4.8" text-anchor="middle" font-weight="bold" fill="#000" stroke="#000" stroke-width="0.16" >24</text>
<line x1="458.10" y1="180.40" x2="458.10" y2="182.20" stroke="#000" stroke-width="0.8" />
<text x="458.10" y="188.63" font-size="4.8" text-anchor="middle" font-weight="bold" fill="#000" stroke="#000" stroke-width="0.16" >26</text>
<line x1="471.34" y1="180.40" x2="471.34" y2="182.20" stroke="#000" stroke-width="0.8" />
<text x="471.34" y="188.63" font-size="4.8" text-anchor="middle" font-weight="bold" fill="#000" stroke="#000" stroke-width="0.16" >28</text>
<polyline points="292.60,176.86 299.22,178.04 305.84,179.22 312.46,179.22 319.08,178.75 325.70,178.51 332.32,179.46 338.94,180.16 345.56,179.69 352.18,179.46 358.80,179.69 365.42,179.46 372.04,179.69 378.66,179.46 385.28,179.69 391.90,179.69 398.52,179.69 405.14,179.46 411.76,179.22 418.38,178.75 425.00,179.46 431.62,179.69 438.24,179.46 444.86,179.46 451.48,179.69 458.10,179.69 464.72,179.69 471.34,179.69 477.96,179.69" fill="none" stroke="#000" stroke-width="1.9" stroke-linejoin="round"/>
<circle cx="292.60" cy="176.86" r="1.0" fill="#000"/>
<circle cx="299.22" cy="178.04" r="1.0" fill="#000"/>
<circle cx="305.84" cy="179.22" r="1.0" fill="#000"/>
<circle cx="312.46" cy="179.22" r="1.0" fill="#000"/>
<circle cx="319.08" cy="178.75" r="1.0" fill="#000"/>
<circle cx="325.70" cy="178.51" r="1.0" fill="#000"/>
<circle cx="332.32" cy="179.46" r="1.0" fill="#000"/>
<circle cx="338.94" cy="180.16" r="1.0" fill="#000"/>
<circle cx="345.56" cy="179.69" r="1.0" fill="#000"/>
<circle cx="352.18" cy="179.46" r="1.0" fill="#000"/>
<circle cx="358.80" cy="179.69" r="1.0" fill="#000"/>
<circle cx="365.42" cy="179.46" r="1.0" fill="#000"/>
<circle cx="372.04" cy="179.69" r="1.0" fill="#000"/>
<circle cx="378.66" cy="179.46" r="1.0" fill="#000"/>
<circle cx="385.28" cy="179.69" r="1.0" fill="#000"/>
<circle cx="391.90" cy="179.69" r="1.0" fill="#000"/>
<circle cx="398.52" cy="179.69" r="1.0" fill="#000"/>
<circle cx="405.14" cy="179.46" r="1.0" fill="#000"/>
<circle cx="411.76" cy="179.22" r="1.0" fill="#000"/>
<circle cx="418.38" cy="178.75" r="1.0" fill="#000"/>
<circle cx="425.00" cy="179.46" r="1.0" fill="#000"/>
<circle cx="431.62" cy="179.69" r="1.0" fill="#000"/>
<circle cx="438.24" cy="179.46" r="1.0" fill="#000"/>
<circle cx="444.86" cy="179.46" r="1.0" fill="#000"/>
<circle cx="451.48" cy="179.69" r="1.0" fill="#000"/>
<circle cx="458.10" cy="179.69" r="1.0" fill="#000"/>
<circle cx="464.72" cy="179.69" r="1.0" fill="#000"/>
<circle cx="471.34" cy="179.69" r="1.0" fill="#000"/>
<circle cx="477.96" cy="179.69" r="1.0" fill="#000"/>
<line x1="292.60" y1="175.68" x2="292.60" y2="174.50" stroke="#444" stroke-width="0.8" />
<line x1="291.20" y1="174.50" x2="294.00" y2="174.50" stroke="#444" stroke-width="1.0" />
<line x1="299.22" y1="176.86" x2="299.22" y2="175.92" stroke="#444" stroke-width="0.8" />
<line x1="297.82" y1="175.92" x2="300.62" y2="175.92" stroke="#444" stroke-width="1.0" />
<line x1="305.84" y1="179.22" x2="305.84" y2="178.75" stroke="#444" stroke-width="0.8" />
<line x1="304.44" y1="178.75" x2="307.24" y2="178.75" stroke="#444" stroke-width="1.0" />
<line x1="312.46" y1="178.75" x2="312.46" y2="178.28" stroke="#444" stroke-width="0.8" />
<line x1="311.06" y1="178.28" x2="313.86" y2="178.28" stroke="#444" stroke-width="1.0" />
<line x1="319.08" y1="178.28" x2="319.08" y2="177.57" stroke="#444" stroke-width="0.8" />
<line x1="317.68" y1="177.57" x2="320.48" y2="177.57" stroke="#444" stroke-width="1.0" />
<line x1="325.70" y1="177.57" x2="325.70" y2="176.62" stroke="#444" stroke-width="0.8" />
<line x1="324.30" y1="176.62" x2="327.10" y2="176.62" stroke="#444" stroke-width="1.0" />
<line x1="332.32" y1="179.22" x2="332.32" y2="178.75" stroke="#444" stroke-width="0.8" />
<line x1="330.92" y1="178.75" x2="333.72" y2="178.75" stroke="#444" stroke-width="1.0" />
<line x1="338.94" y1="180.16" x2="338.94" y2="179.93" stroke="#444" stroke-width="0.8" />
<line x1="337.54" y1="179.93" x2="340.34" y2="179.93" stroke="#444" stroke-width="1.0" />
<line x1="345.56" y1="178.75" x2="345.56" y2="177.57" stroke="#444" stroke-width="0.8" />
<line x1="344.16" y1="177.57" x2="346.96" y2="177.57" stroke="#444" stroke-width="1.0" />
<line x1="352.18" y1="179.22" x2="352.18" y2="178.75" stroke="#444" stroke-width="0.8" />
<line x1="350.78" y1="178.75" x2="353.58" y2="178.75" stroke="#444" stroke-width="1.0" />
<line x1="358.80" y1="169.31" x2="358.80" y2="166.95" stroke="#444" stroke-width="0.8" />
<line x1="357.40" y1="166.95" x2="360.20" y2="166.95" stroke="#444" stroke-width="1.0" />
<line x1="365.42" y1="162.70" x2="365.42" y2="160.34" stroke="#444" stroke-width="0.8" />
<line x1="364.02" y1="160.34" x2="366.82" y2="160.34" stroke="#444" stroke-width="1.0" />
<line x1="372.04" y1="163.20" x2="372.04" y2="160.60" stroke="#444" stroke-width="0.8" />
<line x1="370.64" y1="160.60" x2="373.44" y2="160.60" stroke="#444" stroke-width="1.0" />
<line x1="378.66" y1="164.94" x2="378.66" y2="162.35" stroke="#444" stroke-width="0.8" />
<line x1="377.26" y1="162.35" x2="380.06" y2="162.35" stroke="#444" stroke-width="1.0" />
<line x1="385.28" y1="158.71" x2="385.28" y2="156.12" stroke="#444" stroke-width="0.8" />
<line x1="383.88" y1="156.12" x2="386.68" y2="156.12" stroke="#444" stroke-width="1.0" />
<line x1="391.90" y1="158.71" x2="391.90" y2="156.12" stroke="#444" stroke-width="0.8" />
<line x1="390.50" y1="156.12" x2="393.30" y2="156.12" stroke="#444" stroke-width="1.0" />
<line x1="398.52" y1="155.71" x2="398.52" y2="153.12" stroke="#444" stroke-width="0.8" />
<line x1="397.12" y1="153.12" x2="399.92" y2="153.12" stroke="#444" stroke-width="1.0" />
<line x1="405.14" y1="152.98" x2="405.14" y2="150.38" stroke="#444" stroke-width="0.8" />
<line x1="403.74" y1="150.38" x2="406.54" y2="150.38" stroke="#444" stroke-width="1.0" />
<line x1="411.76" y1="150.73" x2="411.76" y2="148.14" stroke="#444" stroke-width="0.8" />
<line x1="410.36" y1="148.14" x2="413.16" y2="148.14" stroke="#444" stroke-width="1.0" />
<line x1="418.38" y1="151.73" x2="418.38" y2="149.13" stroke="#444" stroke-width="0.8" />
<line x1="416.98" y1="149.13" x2="419.78" y2="149.13" stroke="#444" stroke-width="1.0" />
<line x1="425.00" y1="154.98" x2="425.00" y2="152.39" stroke="#444" stroke-width="0.8" />
<line x1="423.60" y1="152.39" x2="426.40" y2="152.39" stroke="#444" stroke-width="1.0" />
<line x1="431.62" y1="161.21" x2="431.62" y2="158.62" stroke="#444" stroke-width="0.8" />
<line x1="430.22" y1="158.62" x2="433.02" y2="158.62" stroke="#444" stroke-width="1.0" />
<line x1="438.24" y1="159.47" x2="438.24" y2="156.87" stroke="#444" stroke-width="0.8" />
<line x1="436.84" y1="156.87" x2="439.64" y2="156.87" stroke="#444" stroke-width="1.0" />
<line x1="444.86" y1="163.69" x2="444.86" y2="161.10" stroke="#444" stroke-width="0.8" />
<line x1="443.46" y1="161.10" x2="446.26" y2="161.10" stroke="#444" stroke-width="1.0" />
<line x1="451.48" y1="157.46" x2="451.48" y2="154.86" stroke="#444" stroke-width="0.8" />
<line x1="450.08" y1="154.86" x2="452.88" y2="154.86" stroke="#444" stroke-width="1.0" />
<line x1="458.10" y1="151.99" x2="458.10" y2="149.39" stroke="#444" stroke-width="0.8" />
<line x1="456.70" y1="149.39" x2="459.50" y2="149.39" stroke="#444" stroke-width="1.0" />
<line x1="464.72" y1="156.23" x2="464.72" y2="153.64" stroke="#444" stroke-width="0.8" />
<line x1="463.32" y1="153.64" x2="466.12" y2="153.64" stroke="#444" stroke-width="1.0" />
<line x1="471.34" y1="161.21" x2="471.34" y2="158.62" stroke="#444" stroke-width="0.8" />
<line x1="469.94" y1="158.62" x2="472.74" y2="158.62" stroke="#444" stroke-width="1.0" />
<line x1="477.96" y1="156.23" x2="477.96" y2="153.64" stroke="#444" stroke-width="0.8" />
<line x1="476.56" y1="153.64" x2="479.36" y2="153.64" stroke="#444" stroke-width="1.0" />
<polyline points="292.60,175.68 299.22,176.86 305.84,179.22 312.46,178.75 319.08,178.28 325.70,177.57 332.32,179.22 338.94,180.16 345.56,178.75 352.18,179.22 358.80,169.31 365.42,162.70 372.04,163.20 378.66,164.94 385.28,158.71 391.90,158.71 398.52,155.71 405.14,152.98 411.76,150.73 418.38,151.73 425.00,154.98 431.62,161.21 438.24,159.47 444.86,163.69 451.48,157.46 458.10,151.99 464.72,156.23 471.34,161.21 477.96,156.23" fill="none" stroke="#a8a8a8" stroke-width="1.6" stroke-linejoin="round"/>
<path d="M291.40,174.68H293.80L292.60,176.78Z" fill="#444"/>
<path d="M298.02,175.86H300.42L299.22,177.96Z" fill="#444"/>
<path d="M304.64,178.22H307.04L305.84,180.32Z" fill="#444"/>
<path d="M311.26,177.75H313.66L312.46,179.85Z" fill="#444"/>
<path d="M317.88,177.28H320.28L319.08,179.38Z" fill="#444"/>
<path d="M324.50,176.57H326.90L325.70,178.67Z" fill="#444"/>
<path d="M331.12,178.22H333.52L332.32,180.32Z" fill="#444"/>
<path d="M337.74,179.16H340.14L338.94,181.26Z" fill="#444"/>
<path d="M344.36,177.75H346.76L345.56,179.85Z" fill="#444"/>
<path d="M350.98,178.22H353.38L352.18,180.32Z" fill="#444"/>
<path d="M357.60,168.31H360.00L358.80,170.41Z" fill="#444"/>
<path d="M364.22,161.70H366.62L365.42,163.80Z" fill="#444"/>
<path d="M370.84,162.20H373.24L372.04,164.30Z" fill="#444"/>
<path d="M377.46,163.94H379.86L378.66,166.04Z" fill="#444"/>
<path d="M384.08,157.71H386.48L385.28,159.81Z" fill="#444"/>
<path d="M390.70,157.71H393.10L391.90,159.81Z" fill="#444"/>
<path d="M397.32,154.71H399.72L398.52,156.81Z" fill="#444"/>
<path d="M403.94,151.98H406.34L405.14,154.08Z" fill="#444"/>
<path d="M410.56,149.73H412.96L411.76,151.83Z" fill="#444"/>
<path d="M417.18,150.73H419.58L418.38,152.83Z" fill="#444"/>
<path d="M423.80,153.98H426.20L425.00,156.08Z" fill="#444"/>
<path d="M430.42,160.21H432.82L431.62,162.31Z" fill="#444"/>
<path d="M437.04,158.47H439.44L438.24,160.57Z" fill="#444"/>
<path d="M443.66,162.69H446.06L444.86,164.79Z" fill="#444"/>
<path d="M450.28,156.46H452.68L451.48,158.56Z" fill="#444"/>
<path d="M456.90,150.99H459.30L458.10,153.09Z" fill="#444"/>
<path d="M463.52,155.23H465.92L464.72,157.33Z" fill="#444"/>
<path d="M470.14,160.21H472.54L471.34,162.31Z" fill="#444"/>
<path d="M476.76,155.23H479.16L477.96,157.33Z" fill="#444"/>
<line x1="292.50" y1="145.00" x2="292.50" y2="180.20" stroke="#000" stroke-width="1.0" />
<line x1="292.00" y1="180.40" x2="478.56" y2="180.40" stroke="#1a1a1a" stroke-width="1.25" />
<text transform="translate(262.90,162.60) rotate(-90)" font-size="5.3" text-anchor="middle" font-weight="bold" fill="#000" stroke="#000" stroke-width="0.16">Wheel</text>
<text transform="translate(269.30,162.60) rotate(-90)" font-size="5.3" text-anchor="middle" font-weight="bold" fill="#000" stroke="#000" stroke-width="0.16">Revolutions [U]</text>
<text x="385.00" y="196.00" font-size="6.0" text-anchor="middle" font-weight="bold" fill="#000" stroke="#000" stroke-width="0.16" >Days [d]</text>
<line x1="52.00" y1="268.50" x2="151.15" y2="268.50" stroke="#999" stroke-width="1" stroke-dasharray="1,1"/>
<line x1="52.00" y1="259.50" x2="151.15" y2="259.50" stroke="#999" stroke-width="1" stroke-dasharray="1,1"/>
<line x1="52.00" y1="250.50" x2="151.15" y2="250.50" stroke="#999" stroke-width="1" stroke-dasharray="1,1"/>
<line x1="52.00" y1="241.50" x2="151.15" y2="241.50" stroke="#999" stroke-width="1" stroke-dasharray="1,1"/>
<line x1="117.50" y1="242.00" x2="117.50" y2="277.40" stroke="#888" stroke-width="1" stroke-dasharray="1,1"/>
<text x="47.70" y="279.49" font-size="5.5" text-anchor="end" font-weight="bold" fill="#000" stroke="#000" stroke-width="0.16" >0</text>
<line x1="48.50" y1="277.40" x2="50.50" y2="277.40" stroke="#000" stroke-width="1" />
<text x="47.70" y="270.54" font-size="5.5" text-anchor="end" font-weight="bold" fill="#000" stroke="#000" stroke-width="0.16" >10,000</text>
<line x1="48.50" y1="268.50" x2="50.50" y2="268.50" stroke="#000" stroke-width="1" />
<text x="47.70" y="261.59" font-size="5.5" text-anchor="end" font-weight="bold" fill="#000" stroke="#000" stroke-width="0.16" >20,000</text>
<line x1="48.50" y1="259.50" x2="50.50" y2="259.50" stroke="#000" stroke-width="1" />
<text x="47.70" y="252.64" font-size="5.5" text-anchor="end" font-weight="bold" fill="#000" stroke="#000" stroke-width="0.16" >30,000</text>
<line x1="48.50" y1="250.50" x2="50.50" y2="250.50" stroke="#000" stroke-width="1" />
<text x="47.70" y="243.69" font-size="5.5" text-anchor="end" font-weight="bold" fill="#000" stroke="#000" stroke-width="0.16" >40,000</text>
<line x1="48.50" y1="241.50" x2="50.50" y2="241.50" stroke="#000" stroke-width="1" />
<line x1="56.89" y1="277.40" x2="56.89" y2="279.20" stroke="#000" stroke-width="0.8" />
<text x="56.89" y="285.23" font-size="4.8" text-anchor="middle" font-weight="bold" fill="#000" stroke="#000" stroke-width="0.16" >2</text>
<line x1="70.27" y1="277.40" x2="70.27" y2="279.20" stroke="#000" stroke-width="0.8" />
<text x="70.27" y="285.23" font-size="4.8" text-anchor="middle" font-weight="bold" fill="#000" stroke="#000" stroke-width="0.16" >4</text>
<line x1="83.65" y1="277.40" x2="83.65" y2="279.20" stroke="#000" stroke-width="0.8" />
<text x="83.65" y="285.23" font-size="4.8" text-anchor="middle" font-weight="bold" fill="#000" stroke="#000" stroke-width="0.16" >6</text>
<line x1="97.03" y1="277.40" x2="97.03" y2="279.20" stroke="#000" stroke-width="0.8" />
<text x="97.03" y="285.23" font-size="4.8" text-anchor="middle" font-weight="bold" fill="#000" stroke="#000" stroke-width="0.16" >8</text>
<line x1="110.41" y1="277.40" x2="110.41" y2="279.20" stroke="#000" stroke-width="0.8" />
<text x="110.41" y="285.23" font-size="4.8" text-anchor="middle" font-weight="bold" fill="#000" stroke="#000" stroke-width="0.16" >10</text>
<line x1="123.79" y1="277.40" x2="123.79" y2="279.20" stroke="#000" stroke-width="0.8" />
<text x="123.79" y="285.23" font-size="4.8" text-anchor="middle" font-weight="bold" fill="#000" stroke="#000" stroke-width="0.16" >12</text>
<line x1="137.17" y1="277.40" x2="137.17" y2="279.20" stroke="#000" stroke-width="0.8" />
<text x="137.17" y="285.23" font-size="4.8" text-anchor="middle" font-weight="bold" fill="#000" stroke="#000" stroke-width="0.16" >14</text>
<line x1="150.55" y1="277.40" x2="150.55" y2="279.20" stroke="#000" stroke-width="0.8" />
<text x="150.55" y="285.23" font-size="4.8" text-anchor="middle" font-weight="bold" fill="#000" stroke="#000" stroke-width="0.16" >16</text>
<line x1="50.20" y1="270.33" x2="50.20" y2="268.99" stroke="#000" stroke-width="0.8" />
<line x1="48.80" y1="268.99" x2="51.60" y2="268.99" stroke="#000" stroke-width="1.0" />
<line x1="56.89" y1="270.60" x2="56.89" y2="269.26" stroke="#000" stroke-width="0.8" />
<line x1="55.49" y1="269.26" x2="58.29" y2="269.26" stroke="#000" stroke-width="1.0" />
<line x1="63.58" y1="271.58" x2="63.58" y2="270.69" stroke="#000" stroke-width="0.8" />
<line x1="62.18" y1="270.69" x2="64.98" y2="270.69" stroke="#000" stroke-width="1.0" />
<line x1="70.27" y1="267.31" x2="70.27" y2="265.97" stroke="#000" stroke-width="0.8" />
<line x1="68.87" y1="265.97" x2="71.67" y2="265.97" stroke="#000" stroke-width="1.0" />
<line x1="76.96" y1="266.05" x2="76.96" y2="264.71" stroke="#000" stroke-width="0.8" />
<line x1="75.56" y1="264.71" x2="78.36" y2="264.71" stroke="#000" stroke-width="1.0" />
<line x1="83.65" y1="264.29" x2="83.65" y2="261.60" stroke="#000" stroke-width="0.8" />
<line x1="82.25" y1="261.60" x2="85.05" y2="261.60" stroke="#000" stroke-width="1.0" />
<line x1="90.34" y1="264.04" x2="90.34" y2="261.35" stroke="#000" stroke-width="0.8" />
<line x1="88.94" y1="261.35" x2="91.74" y2="261.35" stroke="#000" stroke-width="1.0" />
<line x1="97.03" y1="263.54" x2="97.03" y2="262.19" stroke="#000" stroke-width="0.8" />
<line x1="95.63" y1="262.19" x2="98.43" y2="262.19" stroke="#000" stroke-width="1.0" />
<line x1="103.72" y1="262.27" x2="103.72" y2="260.48" stroke="#000" stroke-width="0.8" />
<line x1="102.32" y1="260.48" x2="105.12" y2="260.48" stroke="#000" stroke-width="1.0" />
<line x1="110.41" y1="260.51" x2="110.41" y2="257.83" stroke="#000" stroke-width="0.8" />
<line x1="109.01" y1="257.83" x2="111.81" y2="257.83" stroke="#000" stroke-width="1.0" />
<line x1="117.10" y1="266.81" x2="117.10" y2="264.57" stroke="#000" stroke-width="0.8" />
<line x1="115.70" y1="264.57" x2="118.50" y2="264.57" stroke="#000" stroke-width="1.0" />
<line x1="123.79" y1="261.77" x2="123.79" y2="259.98" stroke="#000" stroke-width="0.8" />
<line x1="122.39" y1="259.98" x2="125.19" y2="259.98" stroke="#000" stroke-width="1.0" />
<line x1="130.48" y1="261.51" x2="130.48" y2="259.72" stroke="#000" stroke-width="0.8" />
<line x1="129.08" y1="259.72" x2="131.88" y2="259.72" stroke="#000" stroke-width="1.0" />
<line x1="137.17" y1="260.51" x2="137.17" y2="257.38" stroke="#000" stroke-width="0.8" />
<line x1="135.77" y1="257.38" x2="138.57" y2="257.38" stroke="#000" stroke-width="1.0" />
<line x1="143.86" y1="265.30" x2="143.86" y2="263.51" stroke="#000" stroke-width="0.8" />
<line x1="142.46" y1="263.51" x2="145.26" y2="263.51" stroke="#000" stroke-width="1.0" />
<line x1="150.55" y1="264.29" x2="150.55" y2="262.50" stroke="#000" stroke-width="0.8" />
<line x1="149.15" y1="262.50" x2="151.95" y2="262.50" stroke="#000" stroke-width="1.0" />
<polyline points="50.20,270.33 56.89,270.60 63.58,271.58 70.27,267.31 76.96,266.05 83.65,264.29 90.34,264.04 97.03,263.54 103.72,262.27 110.41,260.51 117.10,266.81 123.79,261.77 130.48,261.51 137.17,260.51 143.86,265.30 150.55,264.29" fill="none" stroke="#000" stroke-width="1.9" stroke-linejoin="round"/>
<circle cx="50.20" cy="270.33" r="1.0" fill="#000"/>
<circle cx="56.89" cy="270.60" r="1.0" fill="#000"/>
<circle cx="63.58" cy="271.58" r="1.0" fill="#000"/>
<circle cx="70.27" cy="267.31" r="1.0" fill="#000"/>
<circle cx="76.96" cy="266.05" r="1.0" fill="#000"/>
<circle cx="83.65" cy="264.29" r="1.0" fill="#000"/>
<circle cx="90.34" cy="264.04" r="1.0" fill="#000"/>
<circle cx="97.03" cy="263.54" r="1.0" fill="#000"/>
<circle cx="103.72" cy="262.27" r="1.0" fill="#000"/>
<circle cx="110.41" cy="260.51" r="1.0" fill="#000"/>
<circle cx="117.10" cy="266.81" r="1.0" fill="#000"/>
<circle cx="123.79" cy="261.77" r="1.0" fill="#000"/>
<circle cx="130.48" cy="261.51" r="1.0" fill="#000"/>
<circle cx="137.17" cy="260.51" r="1.0" fill="#000"/>
<circle cx="143.86" cy="265.30" r="1.0" fill="#000"/>
<circle cx="150.55" cy="264.29" r="1.0" fill="#000"/>
<line x1="50.20" y1="270.24" x2="50.20" y2="268.90" stroke="#444" stroke-width="0.8" />
<line x1="48.80" y1="268.90" x2="51.60" y2="268.90" stroke="#444" stroke-width="1.0" />
<line x1="56.89" y1="269.79" x2="56.89" y2="268.45" stroke="#444" stroke-width="0.8" />
<line x1="55.49" y1="268.45" x2="58.29" y2="268.45" stroke="#444" stroke-width="1.0" />
<line x1="63.58" y1="271.13" x2="63.58" y2="270.24" stroke="#444" stroke-width="0.8" />
<line x1="62.18" y1="270.24" x2="64.98" y2="270.24" stroke="#444" stroke-width="1.0" />
<line x1="70.27" y1="268.00" x2="70.27" y2="266.66" stroke="#444" stroke-width="0.8" />
<line x1="68.87" y1="266.66" x2="71.67" y2="266.66" stroke="#444" stroke-width="1.0" />
<line x1="76.96" y1="266.66" x2="76.96" y2="264.87" stroke="#444" stroke-width="0.8" />
<line x1="75.56" y1="264.87" x2="78.36" y2="264.87" stroke="#444" stroke-width="1.0" />
<line x1="83.65" y1="267.31" x2="83.65" y2="265.52" stroke="#444" stroke-width="0.8" />
<line x1="82.25" y1="265.52" x2="85.05" y2="265.52" stroke="#444" stroke-width="1.0" />
<line x1="90.34" y1="263.53" x2="90.34" y2="261.74" stroke="#444" stroke-width="0.8" />
<line x1="88.94" y1="261.74" x2="91.74" y2="261.74" stroke="#444" stroke-width="1.0" />
<line x1="97.03" y1="263.08" x2="97.03" y2="261.74" stroke="#444" stroke-width="0.8" />
<line x1="95.63" y1="261.74" x2="98.43" y2="261.74" stroke="#444" stroke-width="1.0" />
<line x1="103.72" y1="263.08" x2="103.72" y2="261.29" stroke="#444" stroke-width="0.8" />
<line x1="102.32" y1="261.29" x2="105.12" y2="261.29" stroke="#444" stroke-width="1.0" />
<line x1="110.41" y1="262.19" x2="110.41" y2="259.95" stroke="#444" stroke-width="0.8" />
<line x1="109.01" y1="259.95" x2="111.81" y2="259.95" stroke="#444" stroke-width="1.0" />
<line x1="117.10" y1="259.77" x2="117.10" y2="256.64" stroke="#444" stroke-width="0.8" />
<line x1="115.70" y1="256.64" x2="118.50" y2="256.64" stroke="#444" stroke-width="1.0" />
<line x1="123.79" y1="261.29" x2="123.79" y2="259.05" stroke="#444" stroke-width="0.8" />
<line x1="122.39" y1="259.05" x2="125.19" y2="259.05" stroke="#444" stroke-width="1.0" />
<line x1="130.48" y1="261.29" x2="130.48" y2="259.50" stroke="#444" stroke-width="0.8" />
<line x1="129.08" y1="259.50" x2="131.88" y2="259.50" stroke="#444" stroke-width="1.0" />
<line x1="137.17" y1="267.82" x2="137.17" y2="266.03" stroke="#444" stroke-width="0.8" />
<line x1="135.77" y1="266.03" x2="138.57" y2="266.03" stroke="#444" stroke-width="1.0" />
<line x1="143.86" y1="270.33" x2="143.86" y2="268.54" stroke="#444" stroke-width="0.8" />
<line x1="142.46" y1="268.54" x2="145.26" y2="268.54" stroke="#444" stroke-width="1.0" />
<line x1="150.55" y1="266.66" x2="150.55" y2="264.42" stroke="#444" stroke-width="0.8" />
<line x1="149.15" y1="264.42" x2="151.95" y2="264.42" stroke="#444" stroke-width="1.0" />
<polyline points="50.20,270.24 56.89,269.79 63.58,271.13 70.27,268.00 76.96,266.66 83.65,267.31 90.34,263.53 97.03,263.08 103.72,263.08 110.41,262.19 117.10,259.77 123.79,261.29 130.48,261.29 137.17,267.82 143.86,270.33 150.55,266.66" fill="none" stroke="#a8a8a8" stroke-width="1.6" stroke-linejoin="round"/>
<path d="M49.00,269.24H51.40L50.20,271.34Z" fill="#444"/>
<path d="M55.69,268.79H58.09L56.89,270.89Z" fill="#444"/>
<path d="M62.38,270.13H64.78L63.58,272.24Z" fill="#444"/>
<path d="M69.07,267.00H71.47L70.27,269.10Z" fill="#444"/>
<path d="M75.76,265.66H78.16L76.96,267.76Z" fill="#444"/>
<path d="M82.45,266.31H84.85L83.65,268.41Z" fill="#444"/>
<path d="M89.14,262.53H91.54L90.34,264.63Z" fill="#444"/>
<path d="M95.83,262.08H98.23L97.03,264.18Z" fill="#444"/>
<path d="M102.52,262.08H104.92L103.72,264.18Z" fill="#444"/>
<path d="M109.21,261.19H111.61L110.41,263.29Z" fill="#444"/>
<path d="M115.90,258.77H118.30L117.10,260.87Z" fill="#444"/>
<path d="M122.59,260.29H124.99L123.79,262.39Z" fill="#444"/>
<path d="M129.28,260.29H131.68L130.48,262.39Z" fill="#444"/>
<path d="M135.97,266.82H138.37L137.17,268.92Z" fill="#444"/>
<path d="M142.66,269.33H145.06L143.86,271.43Z" fill="#444"/>
<path d="M149.35,265.66H151.75L150.55,267.76Z" fill="#444"/>
<line x1="50.50" y1="241.00" x2="50.50" y2="277.20" stroke="#000" stroke-width="1.0" />
<line x1="50.00" y1="277.40" x2="151.15" y2="277.40" stroke="#1a1a1a" stroke-width="1.25" />
<text transform="translate(19.40,259.50) rotate(-90)" font-size="5.85" text-anchor="middle" font-weight="bold" fill="#000" stroke="#000" stroke-width="0.16">Wheel</text>
<text transform="translate(26.50,259.50) rotate(-90)" font-size="5.85" text-anchor="middle" font-weight="bold" fill="#000" stroke="#000" stroke-width="0.16">Revolutions [U]</text>
<text x="100.35" y="292.20" font-size="5.9" text-anchor="middle" font-weight="bold" fill="#000" stroke="#000" stroke-width="0.16" >Days [d]</text>
<line x1="294.00" y1="268.50" x2="393.50" y2="268.50" stroke="#999" stroke-width="1" stroke-dasharray="1,1"/>
<line x1="294.00" y1="259.50" x2="393.50" y2="259.50" stroke="#999" stroke-width="1" stroke-dasharray="1,1"/>
<line x1="294.00" y1="250.50" x2="393.50" y2="250.50" stroke="#999" stroke-width="1" stroke-dasharray="1,1"/>
<line x1="294.00" y1="241.50" x2="393.50" y2="241.50" stroke="#999" stroke-width="1" stroke-dasharray="1,1"/>
<line x1="359.50" y1="242.00" x2="359.50" y2="277.30" stroke="#888" stroke-width="1" stroke-dasharray="1,1"/>
<text x="289.50" y="279.37" font-size="5.45" text-anchor="end" font-weight="bold" fill="#000" stroke="#000" stroke-width="0.16" >0</text>
<line x1="290.50" y1="277.30" x2="292.50" y2="277.30" stroke="#000" stroke-width="1" />
<text x="289.50" y="270.45" font-size="5.45" text-anchor="end" font-weight="bold" fill="#000" stroke="#000" stroke-width="0.16" >10,000</text>
<line x1="290.50" y1="268.50" x2="292.50" y2="268.50" stroke="#000" stroke-width="1" />
<text x="289.50" y="261.52" font-size="5.45" text-anchor="end" font-weight="bold" fill="#000" stroke="#000" stroke-width="0.16" >20,000</text>
<line x1="290.50" y1="259.50" x2="292.50" y2="259.50" stroke="#000" stroke-width="1" />
<text x="289.50" y="252.60" font-size="5.45" text-anchor="end" font-weight="bold" fill="#000" stroke="#000" stroke-width="0.16" >30,000</text>
<line x1="290.50" y1="250.50" x2="292.50" y2="250.50" stroke="#000" stroke-width="1" />
<text x="289.50" y="243.67" font-size="5.45" text-anchor="end" font-weight="bold" fill="#000" stroke="#000" stroke-width="0.16" >40,000</text>
<line x1="290.50" y1="241.50" x2="292.50" y2="241.50" stroke="#000" stroke-width="1" />
<line x1="298.82" y1="277.30" x2="298.82" y2="279.10" stroke="#000" stroke-width="0.8" />
<text x="298.82" y="285.23" font-size="4.8" text-anchor="middle" font-weight="bold" fill="#000" stroke="#000" stroke-width="0.16" >2</text>
<line x1="312.26" y1="277.30" x2="312.26" y2="279.10" stroke="#000" stroke-width="0.8" />
<text x="312.26" y="285.23" font-size="4.8" text-anchor="middle" font-weight="bold" fill="#000" stroke="#000" stroke-width="0.16" >4</text>
<line x1="325.70" y1="277.30" x2="325.70" y2="279.10" stroke="#000" stroke-width="0.8" />
<text x="325.70" y="285.23" font-size="4.8" text-anchor="middle" font-weight="bold" fill="#000" stroke="#000" stroke-width="0.16" >6</text>
<line x1="339.14" y1="277.30" x2="339.14" y2="279.10" stroke="#000" stroke-width="0.8" />
<text x="339.14" y="285.23" font-size="4.8" text-anchor="middle" font-weight="bold" fill="#000" stroke="#000" stroke-width="0.16" >8</text>
<line x1="352.58" y1="277.30" x2="352.58" y2="279.10" stroke="#000" stroke-width="0.8" />
<text x="352.58" y="285.23" font-size="4.8" text-anchor="middle" font-weight="bold" fill="#000" stroke="#000" stroke-width="0.16" >10</text>
<line x1="366.02" y1="277.30" x2="366.02" y2="279.10" stroke="#000" stroke-width="0.8" />
<text x="366.02" y="285.23" font-size="4.8" text-anchor="middle" font-weight="bold" fill="#000" stroke="#000" stroke-width="0.16" >12</text>
<line x1="379.46" y1="277.30" x2="379.46" y2="279.10" stroke="#000" stroke-width="0.8" />
<text x="379.46" y="285.23" font-size="4.8" text-anchor="middle" font-weight="bold" fill="#000" stroke="#000" stroke-width="0.16" >14</text>
<line x1="392.90" y1="277.30" x2="392.90" y2="279.10" stroke="#000" stroke-width="0.8" />
<text x="392.90" y="285.23" font-size="4.8" text-anchor="middle" font-weight="bold" fill="#000" stroke="#000" stroke-width="0.16" >16</text>
<line x1="292.10" y1="260.97" x2="292.10" y2="259.18" stroke="#000" stroke-width="0.8" />
<line x1="290.70" y1="259.18" x2="293.50" y2="259.18" stroke="#000" stroke-width="1.0" />
<line x1="298.82" y1="264.22" x2="298.82" y2="262.44" stroke="#000" stroke-width="0.8" />
<line x1="297.42" y1="262.44" x2="300.22" y2="262.44" stroke="#000" stroke-width="1.0" />
<line x1="305.54" y1="259.20" x2="305.54" y2="256.97" stroke="#000" stroke-width="0.8" />
<line x1="304.14" y1="256.97" x2="306.94" y2="256.97" stroke="#000" stroke-width="1.0" />
<line x1="312.26" y1="260.46" x2="312.26" y2="258.23" stroke="#000" stroke-width="0.8" />
<line x1="310.86" y1="258.23" x2="313.66" y2="258.23" stroke="#000" stroke-width="1.0" />
<line x1="318.98" y1="258.44" x2="318.98" y2="254.87" stroke="#000" stroke-width="0.8" />
<line x1="317.58" y1="254.87" x2="320.38" y2="254.87" stroke="#000" stroke-width="1.0" />
<line x1="325.70" y1="260.97" x2="325.70" y2="258.74" stroke="#000" stroke-width="0.8" />
<line x1="324.30" y1="258.74" x2="327.10" y2="258.74" stroke="#000" stroke-width="1.0" />
<line x1="332.42" y1="257.69" x2="332.42" y2="255.46" stroke="#000" stroke-width="0.8" />
<line x1="331.02" y1="255.46" x2="333.82" y2="255.46" stroke="#000" stroke-width="1.0" />
<line x1="339.14" y1="256.43" x2="339.14" y2="253.76" stroke="#000" stroke-width="0.8" />
<line x1="337.74" y1="253.76" x2="340.54" y2="253.76" stroke="#000" stroke-width="1.0" />
<line x1="345.86" y1="255.17" x2="345.86" y2="252.05" stroke="#000" stroke-width="0.8" />
<line x1="344.46" y1="252.05" x2="347.26" y2="252.05" stroke="#000" stroke-width="1.0" />
<line x1="352.58" y1="258.95" x2="352.58" y2="256.72" stroke="#000" stroke-width="0.8" />
<line x1="351.18" y1="256.72" x2="353.98" y2="256.72" stroke="#000" stroke-width="1.0" />
<line x1="359.30" y1="258.95" x2="359.30" y2="256.72" stroke="#000" stroke-width="0.8" />
<line x1="357.90" y1="256.72" x2="360.70" y2="256.72" stroke="#000" stroke-width="1.0" />
<line x1="366.02" y1="258.95" x2="366.02" y2="257.17" stroke="#000" stroke-width="0.8" />
<line x1="364.62" y1="257.17" x2="367.42" y2="257.17" stroke="#000" stroke-width="1.0" />
<line x1="372.74" y1="255.17" x2="372.74" y2="252.94" stroke="#000" stroke-width="0.8" />
<line x1="371.34" y1="252.94" x2="374.14" y2="252.94" stroke="#000" stroke-width="1.0" />
<line x1="379.46" y1="257.69" x2="379.46" y2="255.91" stroke="#000" stroke-width="0.8" />
<line x1="378.06" y1="255.91" x2="380.86" y2="255.91" stroke="#000" stroke-width="1.0" />
<line x1="386.18" y1="258.95" x2="386.18" y2="257.17" stroke="#000" stroke-width="0.8" />
<line x1="384.78" y1="257.17" x2="387.58" y2="257.17" stroke="#000" stroke-width="1.0" />
<line x1="392.90" y1="256.68" x2="392.90" y2="254.45" stroke="#000" stroke-width="0.8" />
<line x1="391.50" y1="254.45" x2="394.30" y2="254.45" stroke="#000" stroke-width="1.0" />
<polyline points="292.10,260.97 298.82,264.22 305.54,259.20 312.26,260.46 318.98,258.44 325.70,260.97 332.42,257.69 339.14,256.43 345.86,255.17 352.58,258.95 359.30,258.95 366.02,258.95 372.74,255.17 379.46,257.69 386.18,258.95 392.90,256.68" fill="none" stroke="#000" stroke-width="1.9" stroke-linejoin="round"/>
<circle cx="292.10" cy="260.97" r="1.0" fill="#000"/>
<circle cx="298.82" cy="264.22" r="1.0" fill="#000"/>
<circle cx="305.54" cy="259.20" r="1.0" fill="#000"/>
<circle cx="312.26" cy="260.46" r="1.0" fill="#000"/>
<circle cx="318.98" cy="258.44" r="1.0" fill="#000"/>
<circle cx="325.70" cy="260.97" r="1.0" fill="#000"/>
<circle cx="332.42" cy="257.69" r="1.0" fill="#000"/>
<circle cx="339.14" cy="256.43" r="1.0" fill="#000"/>
<circle cx="345.86" cy="255.17" r="1.0" fill="#000"/>
<circle cx="352.58" cy="258.95" r="1.0" fill="#000"/>
<circle cx="359.30" cy="258.95" r="1.0" fill="#000"/>
<circle cx="366.02" cy="258.95" r="1.0" fill="#000"/>
<circle cx="372.74" cy="255.17" r="1.0" fill="#000"/>
<circle cx="379.46" cy="257.69" r="1.0" fill="#000"/>
<circle cx="386.18" cy="258.95" r="1.0" fill="#000"/>
<circle cx="392.90" cy="256.68" r="1.0" fill="#000"/>
<line x1="292.10" y1="259.72" x2="292.10" y2="257.93" stroke="#444" stroke-width="0.8" />
<line x1="290.70" y1="257.93" x2="293.50" y2="257.93" stroke="#444" stroke-width="1.0" />
<line x1="298.82" y1="262.72" x2="298.82" y2="260.93" stroke="#444" stroke-width="0.8" />
<line x1="297.42" y1="260.93" x2="300.22" y2="260.93" stroke="#444" stroke-width="1.0" />
<line x1="305.54" y1="259.20" x2="305.54" y2="256.97" stroke="#444" stroke-width="0.8" />
<line x1="304.14" y1="256.97" x2="306.94" y2="256.97" stroke="#444" stroke-width="1.0" />
<line x1="312.26" y1="261.46" x2="312.26" y2="259.23" stroke="#444" stroke-width="0.8" />
<line x1="310.86" y1="259.23" x2="313.66" y2="259.23" stroke="#444" stroke-width="1.0" />
<line x1="318.98" y1="258.44" x2="318.98" y2="255.76" stroke="#444" stroke-width="0.8" />
<line x1="317.58" y1="255.76" x2="320.38" y2="255.76" stroke="#444" stroke-width="1.0" />
<line x1="325.70" y1="259.20" x2="325.70" y2="256.97" stroke="#444" stroke-width="0.8" />
<line x1="324.30" y1="256.97" x2="327.10" y2="256.97" stroke="#444" stroke-width="1.0" />
<line x1="332.42" y1="257.19" x2="332.42" y2="254.96" stroke="#444" stroke-width="0.8" />
<line x1="331.02" y1="254.96" x2="333.82" y2="254.96" stroke="#444" stroke-width="1.0" />
<line x1="339.14" y1="256.68" x2="339.14" y2="254.45" stroke="#444" stroke-width="0.8" />
<line x1="337.74" y1="254.45" x2="340.54" y2="254.45" stroke="#444" stroke-width="1.0" />
<line x1="345.86" y1="255.17" x2="345.86" y2="252.50" stroke="#444" stroke-width="0.8" />
<line x1="344.46" y1="252.50" x2="347.26" y2="252.50" stroke="#444" stroke-width="1.0" />
<line x1="352.58" y1="256.68" x2="352.58" y2="254.01" stroke="#444" stroke-width="0.8" />
<line x1="351.18" y1="254.01" x2="353.98" y2="254.01" stroke="#444" stroke-width="1.0" />
<line x1="359.30" y1="252.67" x2="359.30" y2="249.54" stroke="#444" stroke-width="0.8" />
<line x1="357.90" y1="249.54" x2="360.70" y2="249.54" stroke="#444" stroke-width="1.0" />
<line x1="366.02" y1="250.90" x2="366.02" y2="248.22" stroke="#444" stroke-width="0.8" />
<line x1="364.62" y1="248.22" x2="367.42" y2="248.22" stroke="#444" stroke-width="1.0" />
<line x1="372.74" y1="265.23" x2="372.74" y2="262.56" stroke="#444" stroke-width="0.8" />
<line x1="371.34" y1="262.56" x2="374.14" y2="262.56" stroke="#444" stroke-width="1.0" />
<line x1="379.46" y1="257.69" x2="379.46" y2="255.46" stroke="#444" stroke-width="0.8" />
<line x1="378.06" y1="255.46" x2="380.86" y2="255.46" stroke="#444" stroke-width="1.0" />
<line x1="386.18" y1="262.72" x2="386.18" y2="260.49" stroke="#444" stroke-width="0.8" />
<line x1="384.78" y1="260.49" x2="387.58" y2="260.49" stroke="#444" stroke-width="1.0" />
<line x1="392.90" y1="256.68" x2="392.90" y2="254.01" stroke="#444" stroke-width="0.8" />
<line x1="391.50" y1="254.01" x2="394.30" y2="254.01" stroke="#444" stroke-width="1.0" />
<polyline points="292.10,259.72 298.82,262.72 305.54,259.20 312.26,261.46 318.98,258.44 325.70,259.20 332.42,257.19 339.14,256.68 345.86,255.17 352.58,256.68 359.30,252.67 366.02,250.90 372.74,265.23 379.46,257.69 386.18,262.72 392.90,256.68" fill="none" stroke="#a8a8a8" stroke-width="1.6" stroke-linejoin="round"/>
<path d="M290.90,258.72H293.30L292.10,260.82Z" fill="#444"/>
<path d="M297.62,261.72H300.02L298.82,263.82Z" fill="#444"/>
<path d="M304.34,258.20H306.74L305.54,260.30Z" fill="#444"/>
<path d="M311.06,260.46H313.46L312.26,262.56Z" fill="#444"/>
<path d="M317.78,257.44H320.18L318.98,259.54Z" fill="#444"/>
<path d="M324.50,258.20H326.90L325.70,260.30Z" fill="#444"/>
<path d="M331.22,256.19H333.62L332.42,258.29Z" fill="#444"/>
<path d="M337.94,255.68H340.34L339.14,257.78Z" fill="#444"/>
<path d="M344.66,254.17H347.06L345.86,256.27Z" fill="#444"/>
<path d="M351.38,255.68H353.78L352.58,257.78Z" fill="#444"/>
<path d="M358.10,251.67H360.50L359.30,253.77Z" fill="#444"/>
<path d="M364.82,249.90H367.22L366.02,252.00Z" fill="#444"/>
<path d="M371.54,264.23H373.94L372.74,266.33Z" fill="#444"/>
<path d="M378.26,256.69H380.66L379.46,258.79Z" fill="#444"/>
<path d="M384.98,261.72H387.38L386.18,263.82Z" fill="#444"/>
<path d="M391.70,255.68H394.10L392.90,257.78Z" fill="#444"/>
<line x1="292.50" y1="241.00" x2="292.50" y2="277.20" stroke="#000" stroke-width="1.0" />
<line x1="292.00" y1="277.30" x2="393.50" y2="277.30" stroke="#1a1a1a" stroke-width="1.25" />
<text transform="translate(261.00,259.60) rotate(-90)" font-size="5.95" text-anchor="middle" font-weight="bold" fill="#000" stroke="#000" stroke-width="0.16">Wheel</text>
<text transform="translate(268.30,259.60) rotate(-90)" font-size="5.95" text-anchor="middle" font-weight="bold" fill="#000" stroke="#000" stroke-width="0.16">Revolutions [U]</text>
<text x="342.50" y="292.20" font-size="5.9" text-anchor="middle" font-weight="bold" fill="#000" stroke="#000" stroke-width="0.16" >Days [d]</text>
<line x1="52.00" y1="342.50" x2="235.80" y2="342.50" stroke="#999" stroke-width="1" stroke-dasharray="1,1"/>
<line x1="52.00" y1="333.50" x2="235.80" y2="333.50" stroke="#999" stroke-width="1" stroke-dasharray="1,1"/>
<line x1="52.00" y1="324.50" x2="235.80" y2="324.50" stroke="#999" stroke-width="1" stroke-dasharray="1,1"/>
<line x1="52.00" y1="315.50" x2="235.80" y2="315.50" stroke="#999" stroke-width="1" stroke-dasharray="1,1"/>
<line x1="116.50" y1="316.00" x2="116.50" y2="351.40" stroke="#888" stroke-width="1" stroke-dasharray="1,1"/>
<line x1="149.50" y1="316.00" x2="149.50" y2="351.40" stroke="#888" stroke-width="1" stroke-dasharray="1,1"/>
<text x="47.70" y="353.49" font-size="5.5" text-anchor="end" font-weight="bold" fill="#000" stroke="#000" stroke-width="0.16" >0</text>
<line x1="48.50" y1="351.40" x2="50.50" y2="351.40" stroke="#000" stroke-width="1" />
<text x="47.70" y="344.59" font-size="5.5" text-anchor="end" font-weight="bold" fill="#000" stroke="#000" stroke-width="0.16" >10,000</text>
<line x1="48.50" y1="342.50" x2="50.50" y2="342.50" stroke="#000" stroke-width="1" />
<text x="47.70" y="335.69" font-size="5.5" text-anchor="end" font-weight="bold" fill="#000" stroke="#000" stroke-width="0.16" >20,000</text>
<line x1="48.50" y1="333.50" x2="50.50" y2="333.50" stroke="#000" stroke-width="1" />
<text x="47.70" y="326.79" font-size="5.5" text-anchor="end" font-weight="bold" fill="#000" stroke="#000" stroke-width="0.16" >30,000</text>
<line x1="48.50" y1="324.50" x2="50.50" y2="324.50" stroke="#000" stroke-width="1" />
<text x="47.70" y="317.89" font-size="5.5" text-anchor="end" font-weight="bold" fill="#000" stroke="#000" stroke-width="0.16" >40,000</text>
<line x1="48.50" y1="315.50" x2="50.50" y2="315.50" stroke="#000" stroke-width="1" />
<line x1="57.00" y1="351.40" x2="57.00" y2="353.20" stroke="#000" stroke-width="0.8" />
<text x="57.00" y="358.93" font-size="4.8" text-anchor="middle" font-weight="bold" fill="#000" stroke="#000" stroke-width="0.16" >2</text>
<line x1="70.20" y1="351.40" x2="70.20" y2="353.20" stroke="#000" stroke-width="0.8" />
<text x="70.20" y="358.93" font-size="4.8" text-anchor="middle" font-weight="bold" fill="#000" stroke="#000" stroke-width="0.16" >4</text>
<line x1="83.40" y1="351.40" x2="83.40" y2="353.20" stroke="#000" stroke-width="0.8" />
<text x="83.40" y="358.93" font-size="4.8" text-anchor="middle" font-weight="bold" fill="#000" stroke="#000" stroke-width="0.16" >6</text>
<line x1="96.60" y1="351.40" x2="96.60" y2="353.20" stroke="#000" stroke-width="0.8" />
<text x="96.60" y="358.93" font-size="4.8" text-anchor="middle" font-weight="bold" fill="#000" stroke="#000" stroke-width="0.16" >8</text>
<line x1="109.80" y1="351.40" x2="109.80" y2="353.20" stroke="#000" stroke-width="0.8" />
<text x="109.80" y="358.93" font-size="4.8" text-anchor="middle" font-weight="bold" fill="#000" stroke="#000" stroke-width="0.16" >10</text>
<line x1="123.00" y1="351.40" x2="123.00" y2="353.20" stroke="#000" stroke-width="0.8" />
<text x="123.00" y="358.93" font-size="4.8" text-anchor="middle" font-weight="bold" fill="#000" stroke="#000" stroke-width="0.16" >12</text>
<line x1="136.20" y1="351.40" x2="136.20" y2="353.20" stroke="#000" stroke-width="0.8" />
<text x="136.20" y="358.93" font-size="4.8" text-anchor="middle" font-weight="bold" fill="#000" stroke="#000" stroke-width="0.16" >14</text>
<line x1="149.40" y1="351.40" x2="149.40" y2="353.20" stroke="#000" stroke-width="0.8" />
<text x="149.40" y="358.93" font-size="4.8" text-anchor="middle" font-weight="bold" fill="#000" stroke="#000" stroke-width="0.16" >16</text>
<line x1="162.60" y1="351.40" x2="162.60" y2="353.20" stroke="#000" stroke-width="0.8" />
<text x="162.60" y="358.93" font-size="4.8" text-anchor="middle" font-weight="bold" fill="#000" stroke="#000" stroke-width="0.16" >18</text>
<line x1="175.80" y1="351.40" x2="175.80" y2="353.20" stroke="#000" stroke-width="0.8" />
<text x="175.80" y="358.93" font-size="4.8" text-anchor="middle" font-weight="bold" fill="#000" stroke="#000" stroke-width="0.16" >20</text>
<line x1="189.00" y1="351.40" x2="189.00" y2="353.20" stroke="#000" stroke-width="0.8" />
<text x="189.00" y="358.93" font-size="4.8" text-anchor="middle" font-weight="bold" fill="#000" stroke="#000" stroke-width="0.16" >22</text>
<line x1="202.20" y1="351.40" x2="202.20" y2="353.20" stroke="#000" stroke-width="0.8" />
<text x="202.20" y="358.93" font-size="4.8" text-anchor="middle" font-weight="bold" fill="#000" stroke="#000" stroke-width="0.16" >24</text>
<line x1="215.40" y1="351.40" x2="215.40" y2="353.20" stroke="#000" stroke-width="0.8" />
<text x="215.40" y="358.93" font-size="4.8" text-anchor="middle" font-weight="bold" fill="#000" stroke="#000" stroke-width="0.16" >26</text>
<line x1="228.60" y1="351.40" x2="228.60" y2="353.20" stroke="#000" stroke-width="0.8" />
<text x="228.60" y="358.93" font-size="4.8" text-anchor="middle" font-weight="bold" fill="#000" stroke="#000" stroke-width="0.16" >28</text>
<line x1="50.40" y1="344.37" x2="50.40" y2="343.48" stroke="#000" stroke-width="0.8" />
<line x1="49.00" y1="343.48" x2="51.80" y2="343.48" stroke="#000" stroke-width="1.0" />
<line x1="57.00" y1="342.87" x2="57.00" y2="341.54" stroke="#000" stroke-width="0.8" />
<line x1="55.60" y1="341.54" x2="58.40" y2="341.54" stroke="#000" stroke-width="1.0" />
<line x1="63.60" y1="342.38" x2="63.60" y2="340.60" stroke="#000" stroke-width="0.8" />
<line x1="62.20" y1="340.60" x2="65.00" y2="340.60" stroke="#000" stroke-width="1.0" />
<line x1="70.20" y1="341.62" x2="70.20" y2="340.28" stroke="#000" stroke-width="0.8" />
<line x1="68.80" y1="340.28" x2="71.60" y2="340.28" stroke="#000" stroke-width="1.0" />
<line x1="76.80" y1="336.86" x2="76.80" y2="335.08" stroke="#000" stroke-width="0.8" />
<line x1="75.40" y1="335.08" x2="78.20" y2="335.08" stroke="#000" stroke-width="1.0" />
<line x1="83.40" y1="336.86" x2="83.40" y2="335.08" stroke="#000" stroke-width="0.8" />
<line x1="82.00" y1="335.08" x2="84.80" y2="335.08" stroke="#000" stroke-width="1.0" />
<line x1="90.00" y1="337.36" x2="90.00" y2="335.58" stroke="#000" stroke-width="0.8" />
<line x1="88.60" y1="335.58" x2="91.40" y2="335.58" stroke="#000" stroke-width="1.0" />
<line x1="96.60" y1="339.37" x2="96.60" y2="337.14" stroke="#000" stroke-width="0.8" />
<line x1="95.20" y1="337.14" x2="98.00" y2="337.14" stroke="#000" stroke-width="1.0" />
<line x1="103.20" y1="340.37" x2="103.20" y2="338.15" stroke="#000" stroke-width="0.8" />
<line x1="101.80" y1="338.15" x2="104.60" y2="338.15" stroke="#000" stroke-width="1.0" />
<line x1="109.80" y1="338.61" x2="109.80" y2="335.94" stroke="#000" stroke-width="0.8" />
<line x1="108.40" y1="335.94" x2="111.20" y2="335.94" stroke="#000" stroke-width="1.0" />
<line x1="116.40" y1="338.61" x2="116.40" y2="335.94" stroke="#000" stroke-width="0.8" />
<line x1="115.00" y1="335.94" x2="117.80" y2="335.94" stroke="#000" stroke-width="1.0" />
<line x1="123.00" y1="342.38" x2="123.00" y2="340.60" stroke="#000" stroke-width="0.8" />
<line x1="121.60" y1="340.60" x2="124.40" y2="340.60" stroke="#000" stroke-width="1.0" />
<line x1="129.60" y1="338.61" x2="129.60" y2="336.39" stroke="#000" stroke-width="0.8" />
<line x1="128.20" y1="336.39" x2="131.00" y2="336.39" stroke="#000" stroke-width="1.0" />
<line x1="136.20" y1="338.61" x2="136.20" y2="336.39" stroke="#000" stroke-width="0.8" />
<line x1="134.80" y1="336.39" x2="137.60" y2="336.39" stroke="#000" stroke-width="1.0" />
<line x1="142.80" y1="342.87" x2="142.80" y2="340.65" stroke="#000" stroke-width="0.8" />
<line x1="141.40" y1="340.65" x2="144.20" y2="340.65" stroke="#000" stroke-width="1.0" />
<line x1="149.40" y1="341.62" x2="149.40" y2="339.39" stroke="#000" stroke-width="0.8" />
<line x1="148.00" y1="339.39" x2="150.80" y2="339.39" stroke="#000" stroke-width="1.0" />
<line x1="156.00" y1="339.87" x2="156.00" y2="337.64" stroke="#000" stroke-width="0.8" />
<line x1="154.60" y1="337.64" x2="157.40" y2="337.64" stroke="#000" stroke-width="1.0" />
<line x1="162.60" y1="336.86" x2="162.60" y2="334.63" stroke="#000" stroke-width="0.8" />
<line x1="161.20" y1="334.63" x2="164.00" y2="334.63" stroke="#000" stroke-width="1.0" />
<line x1="169.20" y1="343.63" x2="169.20" y2="341.85" stroke="#000" stroke-width="0.8" />
<line x1="167.80" y1="341.85" x2="170.60" y2="341.85" stroke="#000" stroke-width="1.0" />
<line x1="175.80" y1="341.88" x2="175.80" y2="339.65" stroke="#000" stroke-width="0.8" />
<line x1="174.40" y1="339.65" x2="177.20" y2="339.65" stroke="#000" stroke-width="1.0" />
<line x1="182.40" y1="340.37" x2="182.40" y2="338.15" stroke="#000" stroke-width="0.8" />
<line x1="181.00" y1="338.15" x2="183.80" y2="338.15" stroke="#000" stroke-width="1.0" />
<line x1="189.00" y1="342.87" x2="189.00" y2="341.09" stroke="#000" stroke-width="0.8" />
<line x1="187.60" y1="341.09" x2="190.40" y2="341.09" stroke="#000" stroke-width="1.0" />
<line x1="195.60" y1="341.88" x2="195.60" y2="340.10" stroke="#000" stroke-width="0.8" />
<line x1="194.20" y1="340.10" x2="197.00" y2="340.10" stroke="#000" stroke-width="1.0" />
<line x1="202.20" y1="337.86" x2="202.20" y2="335.19" stroke="#000" stroke-width="0.8" />
<line x1="200.80" y1="335.19" x2="203.60" y2="335.19" stroke="#000" stroke-width="1.0" />
<line x1="208.80" y1="337.36" x2="208.80" y2="334.69" stroke="#000" stroke-width="0.8" />
<line x1="207.40" y1="334.69" x2="210.20" y2="334.69" stroke="#000" stroke-width="1.0" />
<line x1="215.40" y1="338.61" x2="215.40" y2="335.94" stroke="#000" stroke-width="0.8" />
<line x1="214.00" y1="335.94" x2="216.80" y2="335.94" stroke="#000" stroke-width="1.0" />
<line x1="222.00" y1="341.12" x2="222.00" y2="338.90" stroke="#000" stroke-width="0.8" />
<line x1="220.60" y1="338.90" x2="223.40" y2="338.90" stroke="#000" stroke-width="1.0" />
<line x1="228.60" y1="345.38" x2="228.60" y2="343.60" stroke="#000" stroke-width="0.8" />
<line x1="227.20" y1="343.60" x2="230.00" y2="343.60" stroke="#000" stroke-width="1.0" />
<line x1="235.20" y1="341.12" x2="235.20" y2="338.90" stroke="#000" stroke-width="0.8" />
<line x1="233.80" y1="338.90" x2="236.60" y2="338.90" stroke="#000" stroke-width="1.0" />
<polyline points="50.40,344.37 57.00,342.87 63.60,342.38 70.20,341.62 76.80,336.86 83.40,336.86 90.00,337.36 96.60,339.37 103.20,340.37 109.80,338.61 116.40,338.61 123.00,342.38 129.60,338.61 136.20,338.61 142.80,342.87 149.40,341.62 156.00,339.87 162.60,336.86 169.20,343.63 175.80,341.88 182.40,340.37 189.00,342.87 195.60,341.88 202.20,337.86 208.80,337.36 215.40,338.61 222.00,341.12 228.60,345.38 235.20,341.12" fill="none" stroke="#000" stroke-width="1.9" stroke-linejoin="round"/>
<circle cx="50.40" cy="344.37" r="1.0" fill="#000"/>
<circle cx="57.00" cy="342.87" r="1.0" fill="#000"/>
<circle cx="63.60" cy="342.38" r="1.0" fill="#000"/>
<circle cx="70.20" cy="341.62" r="1.0" fill="#000"/>
<circle cx="76.80" cy="336.86" r="1.0" fill="#000"/>
<circle cx="83.40" cy="336.86" r="1.0" fill="#000"/>
<circle cx="90.00" cy="337.36" r="1.0" fill="#000"/>
<circle cx="96.60" cy="339.37" r="1.0" fill="#000"/>
<circle cx="103.20" cy="340.37" r="1.0" fill="#000"/>
<circle cx="109.80" cy="338.61" r="1.0" fill="#000"/>
<circle cx="116.40" cy="338.61" r="1.0" fill="#000"/>
<circle cx="123.00" cy="342.38" r="1.0" fill="#000"/>
<circle cx="129.60" cy="338.61" r="1.0" fill="#000"/>
<circle cx="136.20" cy="338.61" r="1.0" fill="#000"/>
<circle cx="142.80" cy="342.87" r="1.0" fill="#000"/>
<circle cx="149.40" cy="341.62" r="1.0" fill="#000"/>
<circle cx="156.00" cy="339.87" r="1.0" fill="#000"/>
<circle cx="162.60" cy="336.86" r="1.0" fill="#000"/>
<circle cx="169.20" cy="343.63" r="1.0" fill="#000"/>
<circle cx="175.80" cy="341.88" r="1.0" fill="#000"/>
<circle cx="182.40" cy="340.37" r="1.0" fill="#000"/>
<circle cx="189.00" cy="342.87" r="1.0" fill="#000"/>
<circle cx="195.60" cy="341.88" r="1.0" fill="#000"/>
<circle cx="202.20" cy="337.86" r="1.0" fill="#000"/>
<circle cx="208.80" cy="337.36" r="1.0" fill="#000"/>
<circle cx="215.40" cy="338.61" r="1.0" fill="#000"/>
<circle cx="222.00" cy="341.12" r="1.0" fill="#000"/>
<circle cx="228.60" cy="345.38" r="1.0" fill="#000"/>
<circle cx="235.20" cy="341.12" r="1.0" fill="#000"/>
<line x1="50.40" y1="345.38" x2="50.40" y2="344.05" stroke="#444" stroke-width="0.8" />
<line x1="49.00" y1="344.05" x2="51.80" y2="344.05" stroke="#444" stroke-width="1.0" />
<line x1="57.00" y1="342.87" x2="57.00" y2="341.54" stroke="#444" stroke-width="0.8" />
<line x1="55.60" y1="341.54" x2="58.40" y2="341.54" stroke="#444" stroke-width="1.0" />
<line x1="63.60" y1="342.38" x2="63.60" y2="341.04" stroke="#444" stroke-width="0.8" />
<line x1="62.20" y1="341.04" x2="65.00" y2="341.04" stroke="#444" stroke-width="1.0" />
<line x1="70.20" y1="341.62" x2="70.20" y2="340.28" stroke="#444" stroke-width="0.8" />
<line x1="68.80" y1="340.28" x2="71.60" y2="340.28" stroke="#444" stroke-width="1.0" />
<line x1="76.80" y1="336.86" x2="76.80" y2="335.08" stroke="#444" stroke-width="0.8" />
<line x1="75.40" y1="335.08" x2="78.20" y2="335.08" stroke="#444" stroke-width="1.0" />
<line x1="83.40" y1="336.86" x2="83.40" y2="335.08" stroke="#444" stroke-width="0.8" />
<line x1="82.00" y1="335.08" x2="84.80" y2="335.08" stroke="#444" stroke-width="1.0" />
<line x1="90.00" y1="336.86" x2="90.00" y2="335.08" stroke="#444" stroke-width="0.8" />
<line x1="88.60" y1="335.08" x2="91.40" y2="335.08" stroke="#444" stroke-width="1.0" />
<line x1="96.60" y1="337.36" x2="96.60" y2="335.58" stroke="#444" stroke-width="0.8" />
<line x1="95.20" y1="335.58" x2="98.00" y2="335.58" stroke="#444" stroke-width="1.0" />
<line x1="103.20" y1="341.12" x2="103.20" y2="339.34" stroke="#444" stroke-width="0.8" />
<line x1="101.80" y1="339.34" x2="104.60" y2="339.34" stroke="#444" stroke-width="1.0" />
<line x1="109.80" y1="339.87" x2="109.80" y2="338.09" stroke="#444" stroke-width="0.8" />
<line x1="108.40" y1="338.09" x2="111.20" y2="338.09" stroke="#444" stroke-width="1.0" />
<line x1="116.40" y1="335.35" x2="116.40" y2="333.13" stroke="#444" stroke-width="0.8" />
<line x1="115.00" y1="333.13" x2="117.80" y2="333.13" stroke="#444" stroke-width="1.0" />
<line x1="123.00" y1="332.84" x2="123.00" y2="330.62" stroke="#444" stroke-width="0.8" />
<line x1="121.60" y1="330.62" x2="124.40" y2="330.62" stroke="#444" stroke-width="1.0" />
<line x1="129.60" y1="331.09" x2="129.60" y2="327.98" stroke="#444" stroke-width="0.8" />
<line x1="128.20" y1="327.98" x2="131.00" y2="327.98" stroke="#444" stroke-width="1.0" />
<line x1="136.20" y1="333.60" x2="136.20" y2="330.93" stroke="#444" stroke-width="0.8" />
<line x1="134.80" y1="330.93" x2="137.60" y2="330.93" stroke="#444" stroke-width="1.0" />
<line x1="142.80" y1="339.87" x2="142.80" y2="337.20" stroke="#444" stroke-width="0.8" />
<line x1="141.40" y1="337.20" x2="144.20" y2="337.20" stroke="#444" stroke-width="1.0" />
<line x1="149.40" y1="342.38" x2="149.40" y2="340.15" stroke="#444" stroke-width="0.8" />
<line x1="148.00" y1="340.15" x2="150.80" y2="340.15" stroke="#444" stroke-width="1.0" />
<line x1="156.00" y1="339.37" x2="156.00" y2="337.14" stroke="#444" stroke-width="0.8" />
<line x1="154.60" y1="337.14" x2="157.40" y2="337.14" stroke="#444" stroke-width="1.0" />
<line x1="162.60" y1="341.12" x2="162.60" y2="338.90" stroke="#444" stroke-width="0.8" />
<line x1="161.20" y1="338.90" x2="164.00" y2="338.90" stroke="#444" stroke-width="1.0" />
<line x1="169.20" y1="342.38" x2="169.20" y2="340.60" stroke="#444" stroke-width="0.8" />
<line x1="167.80" y1="340.60" x2="170.60" y2="340.60" stroke="#444" stroke-width="1.0" />
<line x1="175.80" y1="339.87" x2="175.80" y2="337.64" stroke="#444" stroke-width="0.8" />
<line x1="174.40" y1="337.64" x2="177.20" y2="337.64" stroke="#444" stroke-width="1.0" />
<line x1="182.40" y1="339.37" x2="182.40" y2="337.14" stroke="#444" stroke-width="0.8" />
<line x1="181.00" y1="337.14" x2="183.80" y2="337.14" stroke="#444" stroke-width="1.0" />
<line x1="189.00" y1="339.37" x2="189.00" y2="337.14" stroke="#444" stroke-width="0.8" />
<line x1="187.60" y1="337.14" x2="190.40" y2="337.14" stroke="#444" stroke-width="1.0" />
<line x1="195.60" y1="339.87" x2="195.60" y2="337.64" stroke="#444" stroke-width="0.8" />
<line x1="194.20" y1="337.64" x2="197.00" y2="337.64" stroke="#444" stroke-width="1.0" />
<line x1="202.20" y1="339.87" x2="202.20" y2="337.64" stroke="#444" stroke-width="0.8" />
<line x1="200.80" y1="337.64" x2="203.60" y2="337.64" stroke="#444" stroke-width="1.0" />
<line x1="208.80" y1="342.38" x2="208.80" y2="340.60" stroke="#444" stroke-width="0.8" />
<line x1="207.40" y1="340.60" x2="210.20" y2="340.60" stroke="#444" stroke-width="1.0" />
<line x1="215.40" y1="341.12" x2="215.40" y2="339.34" stroke="#444" stroke-width="0.8" />
<line x1="214.00" y1="339.34" x2="216.80" y2="339.34" stroke="#444" stroke-width="1.0" />
<line x1="222.00" y1="339.87" x2="222.00" y2="338.09" stroke="#444" stroke-width="0.8" />
<line x1="220.60" y1="338.09" x2="223.40" y2="338.09" stroke="#444" stroke-width="1.0" />
<line x1="228.60" y1="341.12" x2="228.60" y2="339.34" stroke="#444" stroke-width="0.8" />
<line x1="227.20" y1="339.34" x2="230.00" y2="339.34" stroke="#444" stroke-width="1.0" />
<line x1="235.20" y1="339.87" x2="235.20" y2="338.09" stroke="#444" stroke-width="0.8" />
<line x1="233.80" y1="338.09" x2="236.60" y2="338.09" stroke="#444" stroke-width="1.0" />
<polyline points="50.40,345.38 57.00,342.87 63.60,342.38 70.20,341.62 76.80,336.86 83.40,336.86 90.00,336.86 96.60,337.36 103.20,341.12 109.80,339.87 116.40,335.35 123.00,332.84 129.60,331.09 136.20,333.60 142.80,339.87 149.40,342.38 156.00,339.37 162.60,341.12 169.20,342.38 175.80,339.87 182.40,339.37 189.00,339.37 195.60,339.87 202.20,339.87 208.80,342.38 215.40,341.12 222.00,339.87 228.60,341.12 235.20,339.87" fill="none" stroke="#a8a8a8" stroke-width="1.6" stroke-linejoin="round"/>
<path d="M49.20,344.38H51.60L50.40,346.48Z" fill="#444"/>
<path d="M55.80,341.87H58.20L57.00,343.97Z" fill="#444"/>
<path d="M62.40,341.38H64.80L63.60,343.48Z" fill="#444"/>
<path d="M69.00,340.62H71.40L70.20,342.72Z" fill="#444"/>
<path d="M75.60,335.86H78.00L76.80,337.96Z" fill="#444"/>
<path d="M82.20,335.86H84.60L83.40,337.96Z" fill="#444"/>
<path d="M88.80,335.86H91.20L90.00,337.96Z" fill="#444"/>
<path d="M95.40,336.36H97.80L96.60,338.46Z" fill="#444"/>
<path d="M102.00,340.12H104.40L103.20,342.22Z" fill="#444"/>
<path d="M108.60,338.87H111.00L109.80,340.97Z" fill="#444"/>
<path d="M115.20,334.35H117.60L116.40,336.45Z" fill="#444"/>
<path d="M121.80,331.84H124.20L123.00,333.94Z" fill="#444"/>
<path d="M128.40,330.09H130.80L129.60,332.19Z" fill="#444"/>
<path d="M135.00,332.60H137.40L136.20,334.70Z" fill="#444"/>
<path d="M141.60,338.87H144.00L142.80,340.97Z" fill="#444"/>
<path d="M148.20,341.38H150.60L149.40,343.48Z" fill="#444"/>
<path d="M154.80,338.37H157.20L156.00,340.47Z" fill="#444"/>
<path d="M161.40,340.12H163.80L162.60,342.22Z" fill="#444"/>
<path d="M168.00,341.38H170.40L169.20,343.48Z" fill="#444"/>
<path d="M174.60,338.87H177.00L175.80,340.97Z" fill="#444"/>
<path d="M181.20,338.37H183.60L182.40,340.47Z" fill="#444"/>
<path d="M187.80,338.37H190.20L189.00,340.47Z" fill="#444"/>
<path d="M194.40,338.87H196.80L195.60,340.97Z" fill="#444"/>
<path d="M201.00,338.87H203.40L202.20,340.97Z" fill="#444"/>
<path d="M207.60,341.38H210.00L208.80,343.48Z" fill="#444"/>
<path d="M214.20,340.12H216.60L215.40,342.22Z" fill="#444"/>
<path d="M220.80,338.87H223.20L222.00,340.97Z" fill="#444"/>
<path d="M227.40,340.12H229.80L228.60,342.22Z" fill="#444"/>
<path d="M234.00,338.87H236.40L235.20,340.97Z" fill="#444"/>
<line x1="50.50" y1="315.00" x2="50.50" y2="351.20" stroke="#000" stroke-width="1.0" />
<line x1="50.00" y1="351.40" x2="235.80" y2="351.40" stroke="#1a1a1a" stroke-width="1.25" />
<text transform="translate(19.40,333.70) rotate(-90)" font-size="5.85" text-anchor="middle" font-weight="bold" fill="#000" stroke="#000" stroke-width="0.16">Wheel</text>
<text transform="translate(26.50,333.70) rotate(-90)" font-size="5.85" text-anchor="middle" font-weight="bold" fill="#000" stroke="#000" stroke-width="0.16">Revolutions [U]</text>
<text x="142.80" y="366.80" font-size="5.95" text-anchor="middle" font-weight="bold" fill="#000" stroke="#000" stroke-width="0.16" >Days [d]</text>
<line x1="294.00" y1="343.50" x2="478.72" y2="343.50" stroke="#999" stroke-width="1" stroke-dasharray="1,1"/>
<line x1="294.00" y1="334.50" x2="478.72" y2="334.50" stroke="#999" stroke-width="1" stroke-dasharray="1,1"/>
<line x1="294.00" y1="325.50" x2="478.72" y2="325.50" stroke="#999" stroke-width="1" stroke-dasharray="1,1"/>
<line x1="294.00" y1="316.50" x2="478.72" y2="316.50" stroke="#999" stroke-width="1" stroke-dasharray="1,1"/>
<line x1="358.50" y1="317.00" x2="358.50" y2="352.00" stroke="#888" stroke-width="1" stroke-dasharray="1,1"/>
<line x1="391.50" y1="317.00" x2="391.50" y2="352.00" stroke="#888" stroke-width="1" stroke-dasharray="1,1"/>
<text x="289.70" y="354.04" font-size="5.36" text-anchor="end" font-weight="bold" fill="#000" stroke="#000" stroke-width="0.16" >0</text>
<line x1="290.50" y1="352.00" x2="292.50" y2="352.00" stroke="#000" stroke-width="1" />
<text x="289.70" y="345.14" font-size="5.36" text-anchor="end" font-weight="bold" fill="#000" stroke="#000" stroke-width="0.16" >10,000</text>
<line x1="290.50" y1="343.50" x2="292.50" y2="343.50" stroke="#000" stroke-width="1" />
<text x="289.70" y="336.24" font-size="5.36" text-anchor="end" font-weight="bold" fill="#000" stroke="#000" stroke-width="0.16" >20,000</text>
<line x1="290.50" y1="334.50" x2="292.50" y2="334.50" stroke="#000" stroke-width="1" />
<text x="289.70" y="327.34" font-size="5.36" text-anchor="end" font-weight="bold" fill="#000" stroke="#000" stroke-width="0.16" >30,000</text>
<line x1="290.50" y1="325.50" x2="292.50" y2="325.50" stroke="#000" stroke-width="1" />
<text x="289.70" y="318.44" font-size="5.36" text-anchor="end" font-weight="bold" fill="#000" stroke="#000" stroke-width="0.16" >40,000</text>
<line x1="290.50" y1="316.50" x2="292.50" y2="316.50" stroke="#000" stroke-width="1" />
<line x1="298.84" y1="352.00" x2="298.84" y2="353.80" stroke="#000" stroke-width="0.8" />
<text x="298.84" y="359.23" font-size="4.8" text-anchor="middle" font-weight="bold" fill="#000" stroke="#000" stroke-width="0.16" >2</text>
<line x1="312.12" y1="352.00" x2="312.12" y2="353.80" stroke="#000" stroke-width="0.8" />
<text x="312.12" y="359.23" font-size="4.8" text-anchor="middle" font-weight="bold" fill="#000" stroke="#000" stroke-width="0.16" >4</text>
<line x1="325.40" y1="352.00" x2="325.40" y2="353.80" stroke="#000" stroke-width="0.8" />
<text x="325.40" y="359.23" font-size="4.8" text-anchor="middle" font-weight="bold" fill="#000" stroke="#000" stroke-width="0.16" >6</text>
<line x1="338.68" y1="352.00" x2="338.68" y2="353.80" stroke="#000" stroke-width="0.8" />
<text x="338.68" y="359.23" font-size="4.8" text-anchor="middle" font-weight="bold" fill="#000" stroke="#000" stroke-width="0.16" >8</text>
<line x1="351.96" y1="352.00" x2="351.96" y2="353.80" stroke="#000" stroke-width="0.8" />
<text x="351.96" y="359.23" font-size="4.8" text-anchor="middle" font-weight="bold" fill="#000" stroke="#000" stroke-width="0.16" >10</text>
<line x1="365.24" y1="352.00" x2="365.24" y2="353.80" stroke="#000" stroke-width="0.8" />
<text x="365.24" y="359.23" font-size="4.8" text-anchor="middle" font-weight="bold" fill="#000" stroke="#000" stroke-width="0.16" >12</text>
<line x1="378.52" y1="352.00" x2="378.52" y2="353.80" stroke="#000" stroke-width="0.8" />
<text x="378.52" y="359.23" font-size="4.8" text-anchor="middle" font-weight="bold" fill="#000" stroke="#000" stroke-width="0.16" >14</text>
<line x1="391.80" y1="352.00" x2="391.80" y2="353.80" stroke="#000" stroke-width="0.8" />
<text x="391.80" y="359.23" font-size="4.8" text-anchor="middle" font-weight="bold" fill="#000" stroke="#000" stroke-width="0.16" >16</text>
<line x1="405.08" y1="352.00" x2="405.08" y2="353.80" stroke="#000" stroke-width="0.8" />
<text x="405.08" y="359.23" font-size="4.8" text-anchor="middle" font-weight="bold" fill="#000" stroke="#000" stroke-width="0.16" >18</text>
<line x1="418.36" y1="352.00" x2="418.36" y2="353.80" stroke="#000" stroke-width="0.8" />
<text x="418.36" y="359.23" font-size="4.8" text-anchor="middle" font-weight="bold" fill="#000" stroke="#000" stroke-width="0.16" >20</text>
<line x1="431.64" y1="352.00" x2="431.64" y2="353.80" stroke="#000" stroke-width="0.8" />
<text x="431.64" y="359.23" font-size="4.8" text-anchor="middle" font-weight="bold" fill="#000" stroke="#000" stroke-width="0.16" >22</text>
<line x1="444.92" y1="352.00" x2="444.92" y2="353.80" stroke="#000" stroke-width="0.8" />
<text x="444.92" y="359.23" font-size="4.8" text-anchor="middle" font-weight="bold" fill="#000" stroke="#000" stroke-width="0.16" >24</text>
<line x1="458.20" y1="352.00" x2="458.20" y2="353.80" stroke="#000" stroke-width="0.8" />
<text x="458.20" y="359.23" font-size="4.8" text-anchor="middle" font-weight="bold" fill="#000" stroke="#000" stroke-width="0.16" >26</text>
<line x1="471.48" y1="352.00" x2="471.48" y2="353.80" stroke="#000" stroke-width="0.8" />
<text x="471.48" y="359.23" font-size="4.8" text-anchor="middle" font-weight="bold" fill="#000" stroke="#000" stroke-width="0.16" >28</text>
<line x1="292.20" y1="338.21" x2="292.20" y2="336.43" stroke="#000" stroke-width="0.8" />
<line x1="290.80" y1="336.43" x2="293.60" y2="336.43" stroke="#000" stroke-width="1.0" />
<line x1="298.84" y1="337.21" x2="298.84" y2="335.43" stroke="#000" stroke-width="0.8" />
<line x1="297.44" y1="335.43" x2="300.24" y2="335.43" stroke="#000" stroke-width="1.0" />
<line x1="305.48" y1="338.96" x2="305.48" y2="337.18" stroke="#000" stroke-width="0.8" />
<line x1="304.08" y1="337.18" x2="306.88" y2="337.18" stroke="#000" stroke-width="1.0" />
<line x1="312.12" y1="334.70" x2="312.12" y2="332.47" stroke="#000" stroke-width="0.8" />
<line x1="310.72" y1="332.47" x2="313.52" y2="332.47" stroke="#000" stroke-width="1.0" />
<line x1="318.76" y1="332.20" x2="318.76" y2="329.97" stroke="#000" stroke-width="0.8" />
<line x1="317.36" y1="329.97" x2="320.16" y2="329.97" stroke="#000" stroke-width="1.0" />
<line x1="325.40" y1="335.70" x2="325.40" y2="333.48" stroke="#000" stroke-width="0.8" />
<line x1="324.00" y1="333.48" x2="326.80" y2="333.48" stroke="#000" stroke-width="1.0" />
<line x1="332.04" y1="330.19" x2="332.04" y2="327.96" stroke="#000" stroke-width="0.8" />
<line x1="330.64" y1="327.96" x2="333.44" y2="327.96" stroke="#000" stroke-width="1.0" />
<line x1="338.68" y1="333.95" x2="338.68" y2="331.73" stroke="#000" stroke-width="0.8" />
<line x1="337.28" y1="331.73" x2="340.08" y2="331.73" stroke="#000" stroke-width="1.0" />
<line x1="345.32" y1="330.19" x2="345.32" y2="327.52" stroke="#000" stroke-width="0.8" />
<line x1="343.92" y1="327.52" x2="346.72" y2="327.52" stroke="#000" stroke-width="1.0" />
<line x1="351.96" y1="330.94" x2="351.96" y2="328.27" stroke="#000" stroke-width="0.8" />
<line x1="350.56" y1="328.27" x2="353.36" y2="328.27" stroke="#000" stroke-width="1.0" />
<line x1="358.60" y1="333.19" x2="358.60" y2="330.52" stroke="#000" stroke-width="0.8" />
<line x1="357.20" y1="330.52" x2="360.00" y2="330.52" stroke="#000" stroke-width="1.0" />
<line x1="365.24" y1="328.18" x2="365.24" y2="325.51" stroke="#000" stroke-width="0.8" />
<line x1="363.84" y1="325.51" x2="366.64" y2="325.51" stroke="#000" stroke-width="1.0" />
<line x1="371.88" y1="328.93" x2="371.88" y2="326.26" stroke="#000" stroke-width="0.8" />
<line x1="370.48" y1="326.26" x2="373.28" y2="326.26" stroke="#000" stroke-width="1.0" />
<line x1="378.52" y1="334.70" x2="378.52" y2="332.03" stroke="#000" stroke-width="0.8" />
<line x1="377.12" y1="332.03" x2="379.92" y2="332.03" stroke="#000" stroke-width="1.0" />
<line x1="385.16" y1="331.44" x2="385.16" y2="327.88" stroke="#000" stroke-width="0.8" />
<line x1="383.76" y1="327.88" x2="386.56" y2="327.88" stroke="#000" stroke-width="1.0" />
<line x1="391.80" y1="332.20" x2="391.80" y2="328.64" stroke="#000" stroke-width="0.8" />
<line x1="390.40" y1="328.64" x2="393.20" y2="328.64" stroke="#000" stroke-width="1.0" />
<line x1="398.44" y1="330.69" x2="398.44" y2="327.13" stroke="#000" stroke-width="0.8" />
<line x1="397.04" y1="327.13" x2="399.84" y2="327.13" stroke="#000" stroke-width="1.0" />
<line x1="405.08" y1="332.20" x2="405.08" y2="328.64" stroke="#000" stroke-width="0.8" />
<line x1="403.68" y1="328.64" x2="406.48" y2="328.64" stroke="#000" stroke-width="1.0" />
<line x1="411.72" y1="330.69" x2="411.72" y2="327.13" stroke="#000" stroke-width="0.8" />
<line x1="410.32" y1="327.13" x2="413.12" y2="327.13" stroke="#000" stroke-width="1.0" />
<line x1="418.36" y1="333.19" x2="418.36" y2="330.52" stroke="#000" stroke-width="0.8" />
<line x1="416.96" y1="330.52" x2="419.76" y2="330.52" stroke="#000" stroke-width="1.0" />
<line x1="425.00" y1="333.95" x2="425.00" y2="331.28" stroke="#000" stroke-width="0.8" />
<line x1="423.60" y1="331.28" x2="426.40" y2="331.28" stroke="#000" stroke-width="1.0" />
<line x1="431.64" y1="336.46" x2="431.64" y2="333.79" stroke="#000" stroke-width="0.8" />
<line x1="430.24" y1="333.79" x2="433.04" y2="333.79" stroke="#000" stroke-width="1.0" />
<line x1="438.28" y1="335.21" x2="438.28" y2="332.54" stroke="#000" stroke-width="0.8" />
<line x1="436.88" y1="332.54" x2="439.68" y2="332.54" stroke="#000" stroke-width="1.0" />
<line x1="444.92" y1="333.95" x2="444.92" y2="330.39" stroke="#000" stroke-width="0.8" />
<line x1="443.52" y1="330.39" x2="446.32" y2="330.39" stroke="#000" stroke-width="1.0" />
<line x1="451.56" y1="334.38" x2="451.56" y2="330.82" stroke="#000" stroke-width="0.8" />
<line x1="450.16" y1="330.82" x2="452.96" y2="330.82" stroke="#000" stroke-width="1.0" />
<line x1="458.20" y1="335.21" x2="458.20" y2="332.54" stroke="#000" stroke-width="0.8" />
<line x1="456.80" y1="332.54" x2="459.60" y2="332.54" stroke="#000" stroke-width="1.0" />
<line x1="464.84" y1="340.22" x2="464.84" y2="337.99" stroke="#000" stroke-width="0.8" />
<line x1="463.44" y1="337.99" x2="466.24" y2="337.99" stroke="#000" stroke-width="1.0" />
<line x1="471.48" y1="337.71" x2="471.48" y2="335.48" stroke="#000" stroke-width="0.8" />
<line x1="470.08" y1="335.48" x2="472.88" y2="335.48" stroke="#000" stroke-width="1.0" />
<line x1="478.12" y1="333.95" x2="478.12" y2="329.50" stroke="#000" stroke-width="0.8" />
<line x1="476.72" y1="329.50" x2="479.52" y2="329.50" stroke="#000" stroke-width="1.0" />
<polyline points="292.20,338.21 298.84,337.21 305.48,338.96 312.12,334.70 318.76,332.20 325.40,335.70 332.04,330.19 338.68,333.95 345.32,330.19 351.96,330.94 358.60,333.19 365.24,328.18 371.88,328.93 378.52,334.70 385.16,331.44 391.80,332.20 398.44,330.69 405.08,332.20 411.72,330.69 418.36,333.19 425.00,333.95 431.64,336.46 438.28,335.21 444.92,333.95 451.56,334.38 458.20,335.21 464.84,340.22 471.48,337.71 478.12,333.95" fill="none" stroke="#000" stroke-width="1.9" stroke-linejoin="round"/>
<circle cx="292.20" cy="338.21" r="1.0" fill="#000"/>
<circle cx="298.84" cy="337.21" r="1.0" fill="#000"/>
<circle cx="305.48" cy="338.96" r="1.0" fill="#000"/>
<circle cx="312.12" cy="334.70" r="1.0" fill="#000"/>
<circle cx="318.76" cy="332.20" r="1.0" fill="#000"/>
<circle cx="325.40" cy="335.70" r="1.0" fill="#000"/>
<circle cx="332.04" cy="330.19" r="1.0" fill="#000"/>
<circle cx="338.68" cy="333.95" r="1.0" fill="#000"/>
<circle cx="345.32" cy="330.19" r="1.0" fill="#000"/>
<circle cx="351.96" cy="330.94" r="1.0" fill="#000"/>
<circle cx="358.60" cy="333.19" r="1.0" fill="#000"/>
<circle cx="365.24" cy="328.18" r="1.0" fill="#000"/>
<circle cx="371.88" cy="328.93" r="1.0" fill="#000"/>
<circle cx="378.52" cy="334.70" r="1.0" fill="#000"/>
<circle cx="385.16" cy="331.44" r="1.0" fill="#000"/>
<circle cx="391.80" cy="332.20" r="1.0" fill="#000"/>
<circle cx="398.44" cy="330.69" r="1.0" fill="#000"/>
<circle cx="405.08" cy="332.20" r="1.0" fill="#000"/>
<circle cx="411.72" cy="330.69" r="1.0" fill="#000"/>
<circle cx="418.36" cy="333.19" r="1.0" fill="#000"/>
<circle cx="425.00" cy="333.95" r="1.0" fill="#000"/>
<circle cx="431.64" cy="336.46" r="1.0" fill="#000"/>
<circle cx="438.28" cy="335.21" r="1.0" fill="#000"/>
<circle cx="444.92" cy="333.95" r="1.0" fill="#000"/>
<circle cx="451.56" cy="334.38" r="1.0" fill="#000"/>
<circle cx="458.20" cy="335.21" r="1.0" fill="#000"/>
<circle cx="464.84" cy="340.22" r="1.0" fill="#000"/>
<circle cx="471.48" cy="337.71" r="1.0" fill="#000"/>
<circle cx="478.12" cy="333.95" r="1.0" fill="#000"/>
<line x1="292.20" y1="335.21" x2="292.20" y2="333.43" stroke="#444" stroke-width="0.8" />
<line x1="290.80" y1="333.43" x2="293.60" y2="333.43" stroke="#444" stroke-width="1.0" />
<line x1="298.84" y1="335.21" x2="298.84" y2="333.43" stroke="#444" stroke-width="0.8" />
<line x1="297.44" y1="333.43" x2="300.24" y2="333.43" stroke="#444" stroke-width="1.0" />
<line x1="305.48" y1="335.21" x2="305.48" y2="332.98" stroke="#444" stroke-width="0.8" />
<line x1="304.08" y1="332.98" x2="306.88" y2="332.98" stroke="#444" stroke-width="1.0" />
<line x1="312.12" y1="332.20" x2="312.12" y2="329.97" stroke="#444" stroke-width="0.8" />
<line x1="310.72" y1="329.97" x2="313.52" y2="329.97" stroke="#444" stroke-width="1.0" />
<line x1="318.76" y1="330.69" x2="318.76" y2="328.47" stroke="#444" stroke-width="0.8" />
<line x1="317.36" y1="328.47" x2="320.16" y2="328.47" stroke="#444" stroke-width="1.0" />
<line x1="325.40" y1="331.44" x2="325.40" y2="329.22" stroke="#444" stroke-width="0.8" />
<line x1="324.00" y1="329.22" x2="326.80" y2="329.22" stroke="#444" stroke-width="1.0" />
<line x1="332.04" y1="329.69" x2="332.04" y2="327.46" stroke="#444" stroke-width="0.8" />
<line x1="330.64" y1="327.46" x2="333.44" y2="327.46" stroke="#444" stroke-width="1.0" />
<line x1="338.68" y1="330.69" x2="338.68" y2="328.47" stroke="#444" stroke-width="0.8" />
<line x1="337.28" y1="328.47" x2="340.08" y2="328.47" stroke="#444" stroke-width="1.0" />
<line x1="345.32" y1="328.18" x2="345.32" y2="325.96" stroke="#444" stroke-width="0.8" />
<line x1="343.92" y1="325.96" x2="346.72" y2="325.96" stroke="#444" stroke-width="1.0" />
<line x1="351.96" y1="328.93" x2="351.96" y2="326.71" stroke="#444" stroke-width="0.8" />
<line x1="350.56" y1="326.71" x2="353.36" y2="326.71" stroke="#444" stroke-width="1.0" />
<line x1="358.60" y1="327.18" x2="358.60" y2="324.51" stroke="#444" stroke-width="0.8" />
<line x1="357.20" y1="324.51" x2="360.00" y2="324.51" stroke="#444" stroke-width="1.0" />
<line x1="365.24" y1="323.92" x2="365.24" y2="321.25" stroke="#444" stroke-width="0.8" />
<line x1="363.84" y1="321.25" x2="366.64" y2="321.25" stroke="#444" stroke-width="1.0" />
<line x1="371.88" y1="327.08" x2="371.88" y2="324.41" stroke="#444" stroke-width="0.8" />
<line x1="370.48" y1="324.41" x2="373.28" y2="324.41" stroke="#444" stroke-width="1.0" />
<line x1="378.52" y1="337.71" x2="378.52" y2="335.04" stroke="#444" stroke-width="0.8" />
<line x1="377.12" y1="335.04" x2="379.92" y2="335.04" stroke="#444" stroke-width="1.0" />
<line x1="385.16" y1="331.44" x2="385.16" y2="328.77" stroke="#444" stroke-width="0.8" />
<line x1="383.76" y1="328.77" x2="386.56" y2="328.77" stroke="#444" stroke-width="1.0" />
<line x1="391.80" y1="333.19" x2="391.80" y2="330.52" stroke="#444" stroke-width="0.8" />
<line x1="390.40" y1="330.52" x2="393.20" y2="330.52" stroke="#444" stroke-width="1.0" />
<line x1="398.44" y1="335.70" x2="398.44" y2="333.03" stroke="#444" stroke-width="0.8" />
<line x1="397.04" y1="333.03" x2="399.84" y2="333.03" stroke="#444" stroke-width="1.0" />
<line x1="405.08" y1="333.95" x2="405.08" y2="331.28" stroke="#444" stroke-width="0.8" />
<line x1="403.68" y1="331.28" x2="406.48" y2="331.28" stroke="#444" stroke-width="1.0" />
<line x1="411.72" y1="331.44" x2="411.72" y2="328.77" stroke="#444" stroke-width="0.8" />
<line x1="410.32" y1="328.77" x2="413.12" y2="328.77" stroke="#444" stroke-width="1.0" />
<line x1="418.36" y1="332.20" x2="418.36" y2="329.53" stroke="#444" stroke-width="0.8" />
<line x1="416.96" y1="329.53" x2="419.76" y2="329.53" stroke="#444" stroke-width="1.0" />
<line x1="425.00" y1="342.73" x2="425.00" y2="340.50" stroke="#444" stroke-width="0.8" />
<line x1="423.60" y1="340.50" x2="426.40" y2="340.50" stroke="#444" stroke-width="1.0" />
<line x1="431.64" y1="340.22" x2="431.64" y2="337.99" stroke="#444" stroke-width="0.8" />
<line x1="430.24" y1="337.99" x2="433.04" y2="337.99" stroke="#444" stroke-width="1.0" />
<line x1="438.28" y1="339.72" x2="438.28" y2="337.49" stroke="#444" stroke-width="0.8" />
<line x1="436.88" y1="337.49" x2="439.68" y2="337.49" stroke="#444" stroke-width="1.0" />
<line x1="444.92" y1="338.21" x2="444.92" y2="335.99" stroke="#444" stroke-width="0.8" />
<line x1="443.52" y1="335.99" x2="446.32" y2="335.99" stroke="#444" stroke-width="1.0" />
<line x1="451.56" y1="339.54" x2="451.56" y2="337.31" stroke="#444" stroke-width="0.8" />
<line x1="450.16" y1="337.31" x2="452.96" y2="337.31" stroke="#444" stroke-width="1.0" />
<line x1="458.20" y1="337.46" x2="458.20" y2="335.23" stroke="#444" stroke-width="0.8" />
<line x1="456.80" y1="335.23" x2="459.60" y2="335.23" stroke="#444" stroke-width="1.0" />
<line x1="464.84" y1="341.22" x2="464.84" y2="339.00" stroke="#444" stroke-width="0.8" />
<line x1="463.44" y1="339.00" x2="466.24" y2="339.00" stroke="#444" stroke-width="1.0" />
<line x1="471.48" y1="339.72" x2="471.48" y2="337.49" stroke="#444" stroke-width="0.8" />
<line x1="470.08" y1="337.49" x2="472.88" y2="337.49" stroke="#444" stroke-width="1.0" />
<line x1="478.12" y1="336.46" x2="478.12" y2="334.24" stroke="#444" stroke-width="0.8" />
<line x1="476.72" y1="334.24" x2="479.52" y2="334.24" stroke="#444" stroke-width="1.0" />
<polyline points="292.20,335.21 298.84,335.21 305.48,335.21 312.12,332.20 318.76,330.69 325.40,331.44 332.04,329.69 338.68,330.69 345.32,328.18 351.96,328.93 358.60,327.18 365.24,323.92 371.88,327.08 378.52,337.71 385.16,331.44 391.80,333.19 398.44,335.70 405.08,333.95 411.72,331.44 418.36,332.20 425.00,342.73 431.64,340.22 438.28,339.72 444.92,338.21 451.56,339.54 458.20,337.46 464.84,341.22 471.48,339.72 478.12,336.46" fill="none" stroke="#a8a8a8" stroke-width="1.6" stroke-linejoin="round"/>
<path d="M291.00,334.21H293.40L292.20,336.31Z" fill="#444"/>
<path d="M297.64,334.21H300.04L298.84,336.31Z" fill="#444"/>
<path d="M304.28,334.21H306.68L305.48,336.31Z" fill="#444"/>
<path d="M310.92,331.20H313.32L312.12,333.30Z" fill="#444"/>
<path d="M317.56,329.69H319.96L318.76,331.79Z" fill="#444"/>
<path d="M324.20,330.44H326.60L325.40,332.54Z" fill="#444"/>
<path d="M330.84,328.69H333.24L332.04,330.79Z" fill="#444"/>
<path d="M337.48,329.69H339.88L338.68,331.79Z" fill="#444"/>
<path d="M344.12,327.18H346.52L345.32,329.28Z" fill="#444"/>
<path d="M350.76,327.93H353.16L351.96,330.03Z" fill="#444"/>
<path d="M357.40,326.18H359.80L358.60,328.28Z" fill="#444"/>
<path d="M364.04,322.92H366.44L365.24,325.02Z" fill="#444"/>
<path d="M370.68,326.08H373.08L371.88,328.18Z" fill="#444"/>
<path d="M377.32,336.71H379.72L378.52,338.81Z" fill="#444"/>
<path d="M383.96,330.44H386.36L385.16,332.54Z" fill="#444"/>
<path d="M390.60,332.19H393.00L391.80,334.29Z" fill="#444"/>
<path d="M397.24,334.70H399.64L398.44,336.80Z" fill="#444"/>
<path d="M403.88,332.95H406.28L405.08,335.05Z" fill="#444"/>
<path d="M410.52,330.44H412.92L411.72,332.54Z" fill="#444"/>
<path d="M417.16,331.20H419.56L418.36,333.30Z" fill="#444"/>
<path d="M423.80,341.73H426.20L425.00,343.83Z" fill="#444"/>
<path d="M430.44,339.22H432.84L431.64,341.32Z" fill="#444"/>
<path d="M437.08,338.72H439.48L438.28,340.82Z" fill="#444"/>
<path d="M443.72,337.21H446.12L444.92,339.31Z" fill="#444"/>
<path d="M450.36,338.54H452.76L451.56,340.64Z" fill="#444"/>
<path d="M457.00,336.46H459.40L458.20,338.56Z" fill="#444"/>
<path d="M463.64,340.22H466.04L464.84,342.32Z" fill="#444"/>
<path d="M470.28,338.72H472.68L471.48,340.82Z" fill="#444"/>
<path d="M476.92,335.46H479.32L478.12,337.56Z" fill="#444"/>
<line x1="292.50" y1="316.00" x2="292.50" y2="352.20" stroke="#000" stroke-width="1.0" />
<line x1="292.00" y1="352.00" x2="478.72" y2="352.00" stroke="#1a1a1a" stroke-width="1.25" />
<text transform="translate(262.90,334.00) rotate(-90)" font-size="5.25" text-anchor="middle" font-weight="bold" fill="#000" stroke="#000" stroke-width="0.16">Wheel</text>
<text transform="translate(269.00,334.00) rotate(-90)" font-size="5.25" text-anchor="middle" font-weight="bold" fill="#000" stroke="#000" stroke-width="0.16">Revolutions [U]</text>
<text x="385.10" y="367.60" font-size="5.95" text-anchor="middle" font-weight="bold" fill="#000" stroke="#000" stroke-width="0.16" >Days [d]</text>
<line x1="51.00" y1="444.50" x2="152.30" y2="444.50" stroke="#999" stroke-width="1" stroke-dasharray="1,1"/>
<line x1="51.00" y1="436.50" x2="152.30" y2="436.50" stroke="#999" stroke-width="1" stroke-dasharray="1,1"/>
<line x1="51.00" y1="429.50" x2="152.30" y2="429.50" stroke="#999" stroke-width="1" stroke-dasharray="1,1"/>
<line x1="51.00" y1="422.50" x2="152.30" y2="422.50" stroke="#999" stroke-width="1" stroke-dasharray="1,1"/>
<line x1="51.00" y1="415.50" x2="152.30" y2="415.50" stroke="#999" stroke-width="1" stroke-dasharray="1,1"/>
<line x1="117.50" y1="416.00" x2="117.50" y2="451.20" stroke="#888" stroke-width="1" stroke-dasharray="1,1"/>
<text x="46.90" y="453.28" font-size="5.48" text-anchor="end" font-weight="bold" fill="#000" stroke="#000" stroke-width="0.16" >0</text>
<line x1="47.50" y1="451.20" x2="49.50" y2="451.20" stroke="#000" stroke-width="1" />
<text x="46.90" y="446.08" font-size="5.48" text-anchor="end" font-weight="bold" fill="#000" stroke="#000" stroke-width="0.16" >1,000</text>
<line x1="47.50" y1="444.50" x2="49.50" y2="444.50" stroke="#000" stroke-width="1" />
<text x="46.90" y="438.88" font-size="5.48" text-anchor="end" font-weight="bold" fill="#000" stroke="#000" stroke-width="0.16" >2,000</text>
<line x1="47.50" y1="436.50" x2="49.50" y2="436.50" stroke="#000" stroke-width="1" />
<text x="46.90" y="431.68" font-size="5.48" text-anchor="end" font-weight="bold" fill="#000" stroke="#000" stroke-width="0.16" >3,000</text>
<line x1="47.50" y1="429.50" x2="49.50" y2="429.50" stroke="#000" stroke-width="1" />
<text x="46.90" y="424.48" font-size="5.48" text-anchor="end" font-weight="bold" fill="#000" stroke="#000" stroke-width="0.16" >4,000</text>
<line x1="47.50" y1="422.50" x2="49.50" y2="422.50" stroke="#000" stroke-width="1" />
<text x="46.90" y="417.28" font-size="5.48" text-anchor="end" font-weight="bold" fill="#000" stroke="#000" stroke-width="0.16" >5,000</text>
<line x1="47.50" y1="415.50" x2="49.50" y2="415.50" stroke="#000" stroke-width="1" />
<line x1="56.50" y1="451.20" x2="56.50" y2="453.00" stroke="#000" stroke-width="0.8" />
<text x="56.50" y="459.03" font-size="4.8" text-anchor="middle" font-weight="bold" fill="#000" stroke="#000" stroke-width="0.16" >2</text>
<line x1="70.10" y1="451.20" x2="70.10" y2="453.00" stroke="#000" stroke-width="0.8" />
<text x="70.10" y="459.03" font-size="4.8" text-anchor="middle" font-weight="bold" fill="#000" stroke="#000" stroke-width="0.16" >4</text>
<line x1="83.70" y1="451.20" x2="83.70" y2="453.00" stroke="#000" stroke-width="0.8" />
<text x="83.70" y="459.03" font-size="4.8" text-anchor="middle" font-weight="bold" fill="#000" stroke="#000" stroke-width="0.16" >6</text>
<line x1="97.30" y1="451.20" x2="97.30" y2="453.00" stroke="#000" stroke-width="0.8" />
<text x="97.30" y="459.03" font-size="4.8" text-anchor="middle" font-weight="bold" fill="#000" stroke="#000" stroke-width="0.16" >8</text>
<line x1="110.90" y1="451.20" x2="110.90" y2="453.00" stroke="#000" stroke-width="0.8" />
<text x="110.90" y="459.03" font-size="4.8" text-anchor="middle" font-weight="bold" fill="#000" stroke="#000" stroke-width="0.16" >10</text>
<line x1="124.50" y1="451.20" x2="124.50" y2="453.00" stroke="#000" stroke-width="0.8" />
<text x="124.50" y="459.03" font-size="4.8" text-anchor="middle" font-weight="bold" fill="#000" stroke="#000" stroke-width="0.16" >12</text>
<line x1="138.10" y1="451.20" x2="138.10" y2="453.00" stroke="#000" stroke-width="0.8" />
<text x="138.10" y="459.03" font-size="4.8" text-anchor="middle" font-weight="bold" fill="#000" stroke="#000" stroke-width="0.16" >14</text>
<line x1="151.70" y1="451.20" x2="151.70" y2="453.00" stroke="#000" stroke-width="0.8" />
<text x="151.70" y="459.03" font-size="4.8" text-anchor="middle" font-weight="bold" fill="#000" stroke="#000" stroke-width="0.16" >16</text>
<line x1="49.70" y1="450.84" x2="49.70" y2="450.12" stroke="#000" stroke-width="0.8" />
<line x1="48.30" y1="450.12" x2="51.10" y2="450.12" stroke="#000" stroke-width="1.0" />
<line x1="56.50" y1="450.98" x2="56.50" y2="450.26" stroke="#000" stroke-width="0.8" />
<line x1="55.10" y1="450.26" x2="57.90" y2="450.26" stroke="#000" stroke-width="1.0" />
<line x1="63.30" y1="450.98" x2="63.30" y2="450.26" stroke="#000" stroke-width="0.8" />
<line x1="61.90" y1="450.26" x2="64.70" y2="450.26" stroke="#000" stroke-width="1.0" />
<line x1="70.10" y1="450.84" x2="70.10" y2="450.12" stroke="#000" stroke-width="0.8" />
<line x1="68.70" y1="450.12" x2="71.50" y2="450.12" stroke="#000" stroke-width="1.0" />
<line x1="76.90" y1="450.84" x2="76.90" y2="450.12" stroke="#000" stroke-width="0.8" />
<line x1="75.50" y1="450.12" x2="78.30" y2="450.12" stroke="#000" stroke-width="1.0" />
<line x1="83.70" y1="447.96" x2="83.70" y2="447.24" stroke="#000" stroke-width="0.8" />
<line x1="82.30" y1="447.24" x2="85.10" y2="447.24" stroke="#000" stroke-width="1.0" />
<line x1="90.50" y1="445.87" x2="90.50" y2="445.15" stroke="#000" stroke-width="0.8" />
<line x1="89.10" y1="445.15" x2="91.90" y2="445.15" stroke="#000" stroke-width="1.0" />
<line x1="97.30" y1="443.28" x2="97.30" y2="442.20" stroke="#000" stroke-width="0.8" />
<line x1="95.90" y1="442.20" x2="98.70" y2="442.20" stroke="#000" stroke-width="1.0" />
<line x1="104.10" y1="440.11" x2="104.10" y2="438.67" stroke="#000" stroke-width="0.8" />
<line x1="102.70" y1="438.67" x2="105.50" y2="438.67" stroke="#000" stroke-width="1.0" />
<line x1="110.90" y1="434.71" x2="110.90" y2="429.38" stroke="#000" stroke-width="0.8" />
<line x1="109.50" y1="429.38" x2="112.30" y2="429.38" stroke="#000" stroke-width="1.0" />
<line x1="117.70" y1="441.70" x2="117.70" y2="440.26" stroke="#000" stroke-width="0.8" />
<line x1="116.30" y1="440.26" x2="119.10" y2="440.26" stroke="#000" stroke-width="1.0" />
<line x1="124.50" y1="432.98" x2="124.50" y2="430.39" stroke="#000" stroke-width="0.8" />
<line x1="123.10" y1="430.39" x2="125.90" y2="430.39" stroke="#000" stroke-width="1.0" />
<line x1="131.30" y1="425.78" x2="131.30" y2="421.46" stroke="#000" stroke-width="0.8" />
<line x1="129.90" y1="421.46" x2="132.70" y2="421.46" stroke="#000" stroke-width="1.0" />
<line x1="138.10" y1="429.60" x2="138.10" y2="425.28" stroke="#000" stroke-width="0.8" />
<line x1="136.70" y1="425.28" x2="139.50" y2="425.28" stroke="#000" stroke-width="1.0" />
<line x1="144.90" y1="437.09" x2="144.90" y2="434.93" stroke="#000" stroke-width="0.8" />
<line x1="143.50" y1="434.93" x2="146.30" y2="434.93" stroke="#000" stroke-width="1.0" />
<line x1="151.70" y1="441.19" x2="151.70" y2="439.03" stroke="#000" stroke-width="0.8" />
<line x1="150.30" y1="439.03" x2="153.10" y2="439.03" stroke="#000" stroke-width="1.0" />
<polyline points="49.70,450.84 56.50,450.98 63.30,450.98 70.10,450.84 76.90,450.84 83.70,447.96 90.50,445.87 97.30,443.28 104.10,440.11 110.90,434.71 117.70,441.70 124.50,432.98 131.30,425.78 138.10,429.60 144.90,437.09 151.70,441.19" fill="none" stroke="#000" stroke-width="1.9" stroke-linejoin="round"/>
<circle cx="49.70" cy="450.84" r="1.0" fill="#000"/>
<circle cx="56.50" cy="450.98" r="1.0" fill="#000"/>
<circle cx="63.30" cy="450.98" r="1.0" fill="#000"/>
<circle cx="70.10" cy="450.84" r="1.0" fill="#000"/>
<circle cx="76.90" cy="450.84" r="1.0" fill="#000"/>
<circle cx="83.70" cy="447.96" r="1.0" fill="#000"/>
<circle cx="90.50" cy="445.87" r="1.0" fill="#000"/>
<circle cx="97.30" cy="443.28" r="1.0" fill="#000"/>
<circle cx="104.10" cy="440.11" r="1.0" fill="#000"/>
<circle cx="110.90" cy="434.71" r="1.0" fill="#000"/>
<circle cx="117.70" cy="441.70" r="1.0" fill="#000"/>
<circle cx="124.50" cy="432.98" r="1.0" fill="#000"/>
<circle cx="131.30" cy="425.78" r="1.0" fill="#000"/>
<circle cx="138.10" cy="429.60" r="1.0" fill="#000"/>
<circle cx="144.90" cy="437.09" r="1.0" fill="#000"/>
<circle cx="151.70" cy="441.19" r="1.0" fill="#000"/>
<line x1="49.70" y1="448.46" x2="49.70" y2="447.74" stroke="#444" stroke-width="0.8" />
<line x1="48.30" y1="447.74" x2="51.10" y2="447.74" stroke="#444" stroke-width="1.0" />
<line x1="56.50" y1="449.04" x2="56.50" y2="448.32" stroke="#444" stroke-width="0.8" />
<line x1="55.10" y1="448.32" x2="57.90" y2="448.32" stroke="#444" stroke-width="1.0" />
<line x1="63.30" y1="448.32" x2="63.30" y2="447.60" stroke="#444" stroke-width="0.8" />
<line x1="61.90" y1="447.60" x2="64.70" y2="447.60" stroke="#444" stroke-width="1.0" />
<line x1="70.10" y1="447.60" x2="70.10" y2="446.88" stroke="#444" stroke-width="0.8" />
<line x1="68.70" y1="446.88" x2="71.50" y2="446.88" stroke="#444" stroke-width="1.0" />
<line x1="76.90" y1="447.96" x2="76.90" y2="447.24" stroke="#444" stroke-width="0.8" />
<line x1="75.50" y1="447.24" x2="78.30" y2="447.24" stroke="#444" stroke-width="1.0" />
<line x1="83.70" y1="447.60" x2="83.70" y2="446.88" stroke="#444" stroke-width="0.8" />
<line x1="82.30" y1="446.88" x2="85.10" y2="446.88" stroke="#444" stroke-width="1.0" />
<line x1="90.50" y1="445.44" x2="90.50" y2="444.72" stroke="#444" stroke-width="0.8" />
<line x1="89.10" y1="444.72" x2="91.90" y2="444.72" stroke="#444" stroke-width="1.0" />
<line x1="97.30" y1="442.92" x2="97.30" y2="441.84" stroke="#444" stroke-width="0.8" />
<line x1="95.90" y1="441.84" x2="98.70" y2="441.84" stroke="#444" stroke-width="1.0" />
<line x1="104.10" y1="439.39" x2="104.10" y2="437.95" stroke="#444" stroke-width="0.8" />
<line x1="102.70" y1="437.95" x2="105.50" y2="437.95" stroke="#444" stroke-width="1.0" />
<line x1="110.90" y1="441.70" x2="110.90" y2="439.54" stroke="#444" stroke-width="0.8" />
<line x1="109.50" y1="439.54" x2="112.30" y2="439.54" stroke="#444" stroke-width="1.0" />
<line x1="117.70" y1="443.28" x2="117.70" y2="441.84" stroke="#444" stroke-width="0.8" />
<line x1="116.30" y1="441.84" x2="119.10" y2="441.84" stroke="#444" stroke-width="1.0" />
<line x1="124.50" y1="449.11" x2="124.50" y2="448.39" stroke="#444" stroke-width="0.8" />
<line x1="123.10" y1="448.39" x2="125.90" y2="448.39" stroke="#444" stroke-width="1.0" />
<line x1="131.30" y1="444.79" x2="131.30" y2="442.20" stroke="#444" stroke-width="0.8" />
<line x1="129.90" y1="442.20" x2="132.70" y2="442.20" stroke="#444" stroke-width="1.0" />
<line x1="138.10" y1="447.89" x2="138.10" y2="446.81" stroke="#444" stroke-width="0.8" />
<line x1="136.70" y1="446.81" x2="139.50" y2="446.81" stroke="#444" stroke-width="1.0" />
<line x1="144.90" y1="445.80" x2="144.90" y2="444.00" stroke="#444" stroke-width="0.8" />
<line x1="143.50" y1="444.00" x2="146.30" y2="444.00" stroke="#444" stroke-width="1.0" />
<line x1="151.70" y1="448.39" x2="151.70" y2="447.67" stroke="#444" stroke-width="0.8" />
<line x1="150.30" y1="447.67" x2="153.10" y2="447.67" stroke="#444" stroke-width="1.0" />
<polyline points="49.70,448.46 56.50,449.04 63.30,448.32 70.10,447.60 76.90,447.96 83.70,447.60 90.50,445.44 97.30,442.92 104.10,439.39 110.90,441.70 117.70,443.28 124.50,449.11 131.30,444.79 138.10,447.89 144.90,445.80 151.70,448.39" fill="none" stroke="#a8a8a8" stroke-width="1.6" stroke-linejoin="round"/>
<path d="M48.50,447.46H50.90L49.70,449.56Z" fill="#444"/>
<path d="M55.30,448.04H57.70L56.50,450.14Z" fill="#444"/>
<path d="M62.10,447.32H64.50L63.30,449.42Z" fill="#444"/>
<path d="M68.90,446.60H71.30L70.10,448.70Z" fill="#444"/>
<path d="M75.70,446.96H78.10L76.90,449.06Z" fill="#444"/>
<path d="M82.50,446.60H84.90L83.70,448.70Z" fill="#444"/>
<path d="M89.30,444.44H91.70L90.50,446.54Z" fill="#444"/>
<path d="M96.10,441.92H98.50L97.30,444.02Z" fill="#444"/>
<path d="M102.90,438.39H105.30L104.10,440.49Z" fill="#444"/>
<path d="M109.70,440.70H112.10L110.90,442.80Z" fill="#444"/>
<path d="M116.50,442.28H118.90L117.70,444.38Z" fill="#444"/>
<path d="M123.30,448.11H125.70L124.50,450.21Z" fill="#444"/>
<path d="M130.10,443.79H132.50L131.30,445.89Z" fill="#444"/>
<path d="M136.90,446.89H139.30L138.10,448.99Z" fill="#444"/>
<path d="M143.70,444.80H146.10L144.90,446.90Z" fill="#444"/>
<path d="M150.50,447.39H152.90L151.70,449.49Z" fill="#444"/>
<line x1="49.50" y1="415.00" x2="49.50" y2="451.20" stroke="#000" stroke-width="1.0" />
<line x1="49.00" y1="451.20" x2="152.30" y2="451.20" stroke="#1a1a1a" stroke-width="1.25" />
<text transform="translate(21.60,432.80) rotate(-90)" font-size="6.0" text-anchor="middle" font-weight="bold" fill="#000" stroke="#000" stroke-width="0.16">Wheel</text>
<text transform="translate(28.80,432.80) rotate(-90)" font-size="6.0" text-anchor="middle" font-weight="bold" fill="#000" stroke="#000" stroke-width="0.16">Revolutions [U]</text>
<text x="100.70" y="466.40" font-size="5.95" text-anchor="middle" font-weight="bold" fill="#000" stroke="#000" stroke-width="0.16" >Days [d]</text>
<line x1="294.00" y1="443.50" x2="394.30" y2="443.50" stroke="#999" stroke-width="1" stroke-dasharray="1,1"/>
<line x1="294.00" y1="436.50" x2="394.30" y2="436.50" stroke="#999" stroke-width="1" stroke-dasharray="1,1"/>
<line x1="294.00" y1="429.50" x2="394.30" y2="429.50" stroke="#999" stroke-width="1" stroke-dasharray="1,1"/>
<line x1="294.00" y1="422.50" x2="394.30" y2="422.50" stroke="#999" stroke-width="1" stroke-dasharray="1,1"/>
<line x1="294.00" y1="415.50" x2="394.30" y2="415.50" stroke="#999" stroke-width="1" stroke-dasharray="1,1"/>
<line x1="359.50" y1="416.00" x2="359.50" y2="451.10" stroke="#888" stroke-width="1" stroke-dasharray="1,1"/>
<text x="289.90" y="453.18" font-size="5.48" text-anchor="end" font-weight="bold" fill="#000" stroke="#000" stroke-width="0.16" >0</text>
<line x1="290.50" y1="451.10" x2="292.50" y2="451.10" stroke="#000" stroke-width="1" />
<text x="289.90" y="446.00" font-size="5.48" text-anchor="end" font-weight="bold" fill="#000" stroke="#000" stroke-width="0.16" >1,000</text>
<line x1="290.50" y1="443.50" x2="292.50" y2="443.50" stroke="#000" stroke-width="1" />
<text x="289.90" y="438.82" font-size="5.48" text-anchor="end" font-weight="bold" fill="#000" stroke="#000" stroke-width="0.16" >2,000</text>
<line x1="290.50" y1="436.50" x2="292.50" y2="436.50" stroke="#000" stroke-width="1" />
<text x="289.90" y="431.64" font-size="5.48" text-anchor="end" font-weight="bold" fill="#000" stroke="#000" stroke-width="0.16" >3,000</text>
<line x1="290.50" y1="429.50" x2="292.50" y2="429.50" stroke="#000" stroke-width="1" />
<text x="289.90" y="424.46" font-size="5.48" text-anchor="end" font-weight="bold" fill="#000" stroke="#000" stroke-width="0.16" >4,000</text>
<line x1="290.50" y1="422.50" x2="292.50" y2="422.50" stroke="#000" stroke-width="1" />
<text x="289.90" y="417.28" font-size="5.48" text-anchor="end" font-weight="bold" fill="#000" stroke="#000" stroke-width="0.16" >5,000</text>
<line x1="290.50" y1="415.50" x2="292.50" y2="415.50" stroke="#000" stroke-width="1" />
<line x1="299.06" y1="451.10" x2="299.06" y2="452.90" stroke="#000" stroke-width="0.8" />
<text x="299.06" y="459.03" font-size="4.8" text-anchor="middle" font-weight="bold" fill="#000" stroke="#000" stroke-width="0.16" >2</text>
<line x1="312.58" y1="451.10" x2="312.58" y2="452.90" stroke="#000" stroke-width="0.8" />
<text x="312.58" y="459.03" font-size="4.8" text-anchor="middle" font-weight="bold" fill="#000" stroke="#000" stroke-width="0.16" >4</text>
<line x1="326.10" y1="451.10" x2="326.10" y2="452.90" stroke="#000" stroke-width="0.8" />
<text x="326.10" y="459.03" font-size="4.8" text-anchor="middle" font-weight="bold" fill="#000" stroke="#000" stroke-width="0.16" >6</text>
<line x1="339.62" y1="451.10" x2="339.62" y2="452.90" stroke="#000" stroke-width="0.8" />
<text x="339.62" y="459.03" font-size="4.8" text-anchor="middle" font-weight="bold" fill="#000" stroke="#000" stroke-width="0.16" >8</text>
<line x1="353.14" y1="451.10" x2="353.14" y2="452.90" stroke="#000" stroke-width="0.8" />
<text x="353.14" y="459.03" font-size="4.8" text-anchor="middle" font-weight="bold" fill="#000" stroke="#000" stroke-width="0.16" >10</text>
<line x1="366.66" y1="451.10" x2="366.66" y2="452.90" stroke="#000" stroke-width="0.8" />
<text x="366.66" y="459.03" font-size="4.8" text-anchor="middle" font-weight="bold" fill="#000" stroke="#000" stroke-width="0.16" >12</text>
<line x1="380.18" y1="451.10" x2="380.18" y2="452.90" stroke="#000" stroke-width="0.8" />
<text x="380.18" y="459.03" font-size="4.8" text-anchor="middle" font-weight="bold" fill="#000" stroke="#000" stroke-width="0.16" >14</text>
<line x1="393.70" y1="451.10" x2="393.70" y2="452.90" stroke="#000" stroke-width="0.8" />
<text x="393.70" y="459.03" font-size="4.8" text-anchor="middle" font-weight="bold" fill="#000" stroke="#000" stroke-width="0.16" >16</text>
<line x1="292.30" y1="441.77" x2="292.30" y2="438.18" stroke="#000" stroke-width="0.8" />
<line x1="290.90" y1="438.18" x2="293.70" y2="438.18" stroke="#000" stroke-width="1.0" />
<line x1="299.06" y1="444.14" x2="299.06" y2="440.55" stroke="#000" stroke-width="0.8" />
<line x1="297.66" y1="440.55" x2="300.46" y2="440.55" stroke="#000" stroke-width="1.0" />
<line x1="305.82" y1="445.14" x2="305.82" y2="442.27" stroke="#000" stroke-width="0.8" />
<line x1="304.42" y1="442.27" x2="307.22" y2="442.27" stroke="#000" stroke-width="1.0" />
<line x1="312.58" y1="442.12" x2="312.58" y2="438.54" stroke="#000" stroke-width="0.8" />
<line x1="311.18" y1="438.54" x2="313.98" y2="438.54" stroke="#000" stroke-width="1.0" />
<line x1="319.34" y1="439.61" x2="319.34" y2="436.02" stroke="#000" stroke-width="0.8" />
<line x1="317.94" y1="436.02" x2="320.74" y2="436.02" stroke="#000" stroke-width="1.0" />
<line x1="326.10" y1="437.67" x2="326.10" y2="434.08" stroke="#000" stroke-width="0.8" />
<line x1="324.70" y1="434.08" x2="327.50" y2="434.08" stroke="#000" stroke-width="1.0" />
<line x1="332.86" y1="440.90" x2="332.86" y2="436.60" stroke="#000" stroke-width="0.8" />
<line x1="331.46" y1="436.60" x2="334.26" y2="436.60" stroke="#000" stroke-width="1.0" />
<line x1="339.62" y1="437.67" x2="339.62" y2="433.37" stroke="#000" stroke-width="0.8" />
<line x1="338.22" y1="433.37" x2="341.02" y2="433.37" stroke="#000" stroke-width="1.0" />
<line x1="346.38" y1="435.16" x2="346.38" y2="430.85" stroke="#000" stroke-width="0.8" />
<line x1="344.98" y1="430.85" x2="347.78" y2="430.85" stroke="#000" stroke-width="1.0" />
<line x1="353.14" y1="435.16" x2="353.14" y2="432.29" stroke="#000" stroke-width="0.8" />
<line x1="351.74" y1="432.29" x2="354.54" y2="432.29" stroke="#000" stroke-width="1.0" />
<line x1="359.90" y1="437.17" x2="359.90" y2="426.40" stroke="#000" stroke-width="0.8" />
<line x1="358.50" y1="426.40" x2="361.30" y2="426.40" stroke="#000" stroke-width="1.0" />
<line x1="366.66" y1="435.16" x2="366.66" y2="430.13" stroke="#000" stroke-width="0.8" />
<line x1="365.26" y1="430.13" x2="368.06" y2="430.13" stroke="#000" stroke-width="1.0" />
<line x1="373.42" y1="439.61" x2="373.42" y2="435.30" stroke="#000" stroke-width="0.8" />
<line x1="372.02" y1="435.30" x2="374.82" y2="435.30" stroke="#000" stroke-width="1.0" />
<line x1="380.18" y1="441.62" x2="380.18" y2="438.75" stroke="#000" stroke-width="0.8" />
<line x1="378.78" y1="438.75" x2="381.58" y2="438.75" stroke="#000" stroke-width="1.0" />
<line x1="386.94" y1="443.85" x2="386.94" y2="441.69" stroke="#000" stroke-width="0.8" />
<line x1="385.54" y1="441.69" x2="388.34" y2="441.69" stroke="#000" stroke-width="1.0" />
<line x1="393.70" y1="435.88" x2="393.70" y2="430.13" stroke="#000" stroke-width="0.8" />
<line x1="392.30" y1="430.13" x2="395.10" y2="430.13" stroke="#000" stroke-width="1.0" />
<polyline points="292.30,441.77 299.06,444.14 305.82,445.14 312.58,442.12 319.34,439.61 326.10,437.67 332.86,440.90 339.62,437.67 346.38,435.16 353.14,435.16 359.90,437.17 366.66,435.16 373.42,439.61 380.18,441.62 386.94,443.85 393.70,435.88" fill="none" stroke="#000" stroke-width="1.9" stroke-linejoin="round"/>
<circle cx="292.30" cy="441.77" r="1.0" fill="#000"/>
<circle cx="299.06" cy="444.14" r="1.0" fill="#000"/>
<circle cx="305.82" cy="445.14" r="1.0" fill="#000"/>
<circle cx="312.58" cy="442.12" r="1.0" fill="#000"/>
<circle cx="319.34" cy="439.61" r="1.0" fill="#000"/>
<circle cx="326.10" cy="437.67" r="1.0" fill="#000"/>
<circle cx="332.86" cy="440.90" r="1.0" fill="#000"/>
<circle cx="339.62" cy="437.67" r="1.0" fill="#000"/>
<circle cx="346.38" cy="435.16" r="1.0" fill="#000"/>
<circle cx="353.14" cy="435.16" r="1.0" fill="#000"/>
<circle cx="359.90" cy="437.17" r="1.0" fill="#000"/>
<circle cx="366.66" cy="435.16" r="1.0" fill="#000"/>
<circle cx="373.42" cy="439.61" r="1.0" fill="#000"/>
<circle cx="380.18" cy="441.62" r="1.0" fill="#000"/>
<circle cx="386.94" cy="443.85" r="1.0" fill="#000"/>
<circle cx="393.70" cy="435.88" r="1.0" fill="#000"/>
<line x1="292.30" y1="436.67" x2="292.30" y2="434.51" stroke="#444" stroke-width="0.8" />
<line x1="290.90" y1="434.51" x2="293.70" y2="434.51" stroke="#444" stroke-width="1.0" />
<line x1="299.06" y1="440.90" x2="299.06" y2="438.75" stroke="#444" stroke-width="0.8" />
<line x1="297.66" y1="438.75" x2="300.46" y2="438.75" stroke="#444" stroke-width="1.0" />
<line x1="305.82" y1="441.41" x2="305.82" y2="439.25" stroke="#444" stroke-width="0.8" />
<line x1="304.42" y1="439.25" x2="307.22" y2="439.25" stroke="#444" stroke-width="1.0" />
<line x1="312.58" y1="439.61" x2="312.58" y2="436.74" stroke="#444" stroke-width="0.8" />
<line x1="311.18" y1="436.74" x2="313.98" y2="436.74" stroke="#444" stroke-width="1.0" />
<line x1="319.34" y1="438.89" x2="319.34" y2="436.02" stroke="#444" stroke-width="0.8" />
<line x1="317.94" y1="436.02" x2="320.74" y2="436.02" stroke="#444" stroke-width="1.0" />
<line x1="326.10" y1="437.67" x2="326.10" y2="434.80" stroke="#444" stroke-width="0.8" />
<line x1="324.70" y1="434.80" x2="327.50" y2="434.80" stroke="#444" stroke-width="1.0" />
<line x1="332.86" y1="436.67" x2="332.86" y2="433.08" stroke="#444" stroke-width="0.8" />
<line x1="331.46" y1="433.08" x2="334.26" y2="433.08" stroke="#444" stroke-width="1.0" />
<line x1="339.62" y1="437.17" x2="339.62" y2="434.30" stroke="#444" stroke-width="0.8" />
<line x1="338.22" y1="434.30" x2="341.02" y2="434.30" stroke="#444" stroke-width="1.0" />
<line x1="346.38" y1="439.61" x2="346.38" y2="435.30" stroke="#444" stroke-width="0.8" />
<line x1="344.98" y1="435.30" x2="347.78" y2="435.30" stroke="#444" stroke-width="1.0" />
<line x1="353.14" y1="435.88" x2="353.14" y2="433.01" stroke="#444" stroke-width="0.8" />
<line x1="351.74" y1="433.01" x2="354.54" y2="433.01" stroke="#444" stroke-width="1.0" />
<line x1="359.90" y1="433.37" x2="359.90" y2="426.19" stroke="#444" stroke-width="0.8" />
<line x1="358.50" y1="426.19" x2="361.30" y2="426.19" stroke="#444" stroke-width="1.0" />
<line x1="366.66" y1="430.92" x2="366.66" y2="425.18" stroke="#444" stroke-width="0.8" />
<line x1="365.26" y1="425.18" x2="368.06" y2="425.18" stroke="#444" stroke-width="1.0" />
<line x1="373.42" y1="437.67" x2="373.42" y2="421.16" stroke="#444" stroke-width="0.8" />
<line x1="372.02" y1="421.16" x2="374.82" y2="421.16" stroke="#444" stroke-width="1.0" />
<line x1="380.18" y1="439.11" x2="380.18" y2="435.52" stroke="#444" stroke-width="0.8" />
<line x1="378.78" y1="435.52" x2="381.58" y2="435.52" stroke="#444" stroke-width="1.0" />
<line x1="386.94" y1="447.08" x2="386.94" y2="444.21" stroke="#444" stroke-width="0.8" />
<line x1="385.54" y1="444.21" x2="388.34" y2="444.21" stroke="#444" stroke-width="1.0" />
<line x1="393.70" y1="432.14" x2="393.70" y2="426.40" stroke="#444" stroke-width="0.8" />
<line x1="392.30" y1="426.40" x2="395.10" y2="426.40" stroke="#444" stroke-width="1.0" />
<polyline points="292.30,436.67 299.06,440.90 305.82,441.41 312.58,439.61 319.34,438.89 326.10,437.67 332.86,436.67 339.62,437.17 346.38,439.61 353.14,435.88 359.90,433.37 366.66,430.92 373.42,437.67 380.18,439.11 386.94,447.08 393.70,432.14" fill="none" stroke="#a8a8a8" stroke-width="1.6" stroke-linejoin="round"/>
<path d="M291.10,435.67H293.50L292.30,437.77Z" fill="#444"/>
<path d="M297.86,439.90H300.26L299.06,442.00Z" fill="#444"/>
<path d="M304.62,440.41H307.02L305.82,442.51Z" fill="#444"/>
<path d="M311.38,438.61H313.78L312.58,440.71Z" fill="#444"/>
<path d="M318.14,437.89H320.54L319.34,439.99Z" fill="#444"/>
<path d="M324.90,436.67H327.30L326.10,438.77Z" fill="#444"/>
<path d="M331.66,435.67H334.06L332.86,437.77Z" fill="#444"/>
<path d="M338.42,436.17H340.82L339.62,438.27Z" fill="#444"/>
<path d="M345.18,438.61H347.58L346.38,440.71Z" fill="#444"/>
<path d="M351.94,434.88H354.34L353.14,436.98Z" fill="#444"/>
<path d="M358.70,432.37H361.10L359.90,434.47Z" fill="#444"/>
<path d="M365.46,429.92H367.86L366.66,432.02Z" fill="#444"/>
<path d="M372.22,436.67H374.62L373.42,438.77Z" fill="#444"/>
<path d="M378.98,438.11H381.38L380.18,440.21Z" fill="#444"/>
<path d="M385.74,446.08H388.14L386.94,448.18Z" fill="#444"/>
<path d="M392.50,431.14H394.90L393.70,433.24Z" fill="#444"/>
<line x1="292.50" y1="415.00" x2="292.50" y2="451.20" stroke="#000" stroke-width="1.0" />
<line x1="292.00" y1="451.10" x2="394.30" y2="451.10" stroke="#1a1a1a" stroke-width="1.25" />
<text transform="translate(264.10,432.60) rotate(-90)" font-size="6.05" text-anchor="middle" font-weight="bold" fill="#000" stroke="#000" stroke-width="0.16">Wheel</text>
<text transform="translate(271.20,432.60) rotate(-90)" font-size="6.05" text-anchor="middle" font-weight="bold" fill="#000" stroke="#000" stroke-width="0.16">Revolutions [U]</text>
<text x="343.00" y="466.30" font-size="5.95" text-anchor="middle" font-weight="bold" fill="#000" stroke="#000" stroke-width="0.16" >Days [d]</text>
<line x1="52.00" y1="520.50" x2="238.20" y2="520.50" stroke="#999" stroke-width="1" stroke-dasharray="1,1"/>
<line x1="52.00" y1="513.50" x2="238.20" y2="513.50" stroke="#999" stroke-width="1" stroke-dasharray="1,1"/>
<line x1="52.00" y1="505.50" x2="238.20" y2="505.50" stroke="#999" stroke-width="1" stroke-dasharray="1,1"/>
<line x1="52.00" y1="498.50" x2="238.20" y2="498.50" stroke="#999" stroke-width="1" stroke-dasharray="1,1"/>
<line x1="52.00" y1="491.50" x2="238.20" y2="491.50" stroke="#999" stroke-width="1" stroke-dasharray="1,1"/>
<line x1="117.50" y1="492.00" x2="117.50" y2="527.40" stroke="#888" stroke-width="1" stroke-dasharray="1,1"/>
<line x1="150.50" y1="492.00" x2="150.50" y2="527.40" stroke="#888" stroke-width="1" stroke-dasharray="1,1"/>
<text x="47.90" y="529.49" font-size="5.5" text-anchor="end" font-weight="bold" fill="#000" stroke="#000" stroke-width="0.16" >0</text>
<line x1="48.50" y1="527.40" x2="50.50" y2="527.40" stroke="#000" stroke-width="1" />
<text x="47.90" y="522.29" font-size="5.5" text-anchor="end" font-weight="bold" fill="#000" stroke="#000" stroke-width="0.16" >1,000</text>
<line x1="48.50" y1="520.50" x2="50.50" y2="520.50" stroke="#000" stroke-width="1" />
<text x="47.90" y="515.09" font-size="5.5" text-anchor="end" font-weight="bold" fill="#000" stroke="#000" stroke-width="0.16" >2,000</text>
<line x1="48.50" y1="513.50" x2="50.50" y2="513.50" stroke="#000" stroke-width="1" />
<text x="47.90" y="507.89" font-size="5.5" text-anchor="end" font-weight="bold" fill="#000" stroke="#000" stroke-width="0.16" >3,000</text>
<line x1="48.50" y1="505.50" x2="50.50" y2="505.50" stroke="#000" stroke-width="1" />
<text x="47.90" y="500.69" font-size="5.5" text-anchor="end" font-weight="bold" fill="#000" stroke="#000" stroke-width="0.16" >4,000</text>
<line x1="48.50" y1="498.50" x2="50.50" y2="498.50" stroke="#000" stroke-width="1" />
<text x="47.90" y="493.49" font-size="5.5" text-anchor="end" font-weight="bold" fill="#000" stroke="#000" stroke-width="0.16" >5,000</text>
<line x1="48.50" y1="491.50" x2="50.50" y2="491.50" stroke="#000" stroke-width="1" />
<line x1="56.70" y1="527.40" x2="56.70" y2="529.20" stroke="#000" stroke-width="0.8" />
<text x="56.70" y="535.53" font-size="4.8" text-anchor="middle" font-weight="bold" fill="#000" stroke="#000" stroke-width="0.16" >2</text>
<line x1="70.10" y1="527.40" x2="70.10" y2="529.20" stroke="#000" stroke-width="0.8" />
<text x="70.10" y="535.53" font-size="4.8" text-anchor="middle" font-weight="bold" fill="#000" stroke="#000" stroke-width="0.16" >4</text>
<line x1="83.50" y1="527.40" x2="83.50" y2="529.20" stroke="#000" stroke-width="0.8" />
<text x="83.50" y="535.53" font-size="4.8" text-anchor="middle" font-weight="bold" fill="#000" stroke="#000" stroke-width="0.16" >6</text>
<line x1="96.90" y1="527.40" x2="96.90" y2="529.20" stroke="#000" stroke-width="0.8" />
<text x="96.90" y="535.53" font-size="4.8" text-anchor="middle" font-weight="bold" fill="#000" stroke="#000" stroke-width="0.16" >8</text>
<line x1="110.30" y1="527.40" x2="110.30" y2="529.20" stroke="#000" stroke-width="0.8" />
<text x="110.30" y="535.53" font-size="4.8" text-anchor="middle" font-weight="bold" fill="#000" stroke="#000" stroke-width="0.16" >10</text>
<line x1="123.70" y1="527.40" x2="123.70" y2="529.20" stroke="#000" stroke-width="0.8" />
<text x="123.70" y="535.53" font-size="4.8" text-anchor="middle" font-weight="bold" fill="#000" stroke="#000" stroke-width="0.16" >12</text>
<line x1="137.10" y1="527.40" x2="137.10" y2="529.20" stroke="#000" stroke-width="0.8" />
<text x="137.10" y="535.53" font-size="4.8" text-anchor="middle" font-weight="bold" fill="#000" stroke="#000" stroke-width="0.16" >14</text>
<line x1="150.50" y1="527.40" x2="150.50" y2="529.20" stroke="#000" stroke-width="0.8" />
<text x="150.50" y="535.53" font-size="4.8" text-anchor="middle" font-weight="bold" fill="#000" stroke="#000" stroke-width="0.16" >16</text>
<line x1="163.90" y1="527.40" x2="163.90" y2="529.20" stroke="#000" stroke-width="0.8" />
<text x="163.90" y="535.53" font-size="4.8" text-anchor="middle" font-weight="bold" fill="#000" stroke="#000" stroke-width="0.16" >18</text>
<line x1="177.30" y1="527.40" x2="177.30" y2="529.20" stroke="#000" stroke-width="0.8" />
<text x="177.30" y="535.53" font-size="4.8" text-anchor="middle" font-weight="bold" fill="#000" stroke="#000" stroke-width="0.16" >20</text>
<line x1="190.70" y1="527.40" x2="190.70" y2="529.20" stroke="#000" stroke-width="0.8" />
<text x="190.70" y="535.53" font-size="4.8" text-anchor="middle" font-weight="bold" fill="#000" stroke="#000" stroke-width="0.16" >22</text>
<line x1="204.10" y1="527.40" x2="204.10" y2="529.20" stroke="#000" stroke-width="0.8" />
<text x="204.10" y="535.53" font-size="4.8" text-anchor="middle" font-weight="bold" fill="#000" stroke="#000" stroke-width="0.16" >24</text>
<line x1="217.50" y1="527.40" x2="217.50" y2="529.20" stroke="#000" stroke-width="0.8" />
<text x="217.50" y="535.53" font-size="4.8" text-anchor="middle" font-weight="bold" fill="#000" stroke="#000" stroke-width="0.16" >26</text>
<line x1="230.90" y1="527.40" x2="230.90" y2="529.20" stroke="#000" stroke-width="0.8" />
<text x="230.90" y="535.53" font-size="4.8" text-anchor="middle" font-weight="bold" fill="#000" stroke="#000" stroke-width="0.16" >28</text>
<line x1="50.00" y1="526.14" x2="50.00" y2="525.42" stroke="#000" stroke-width="0.8" />
<line x1="48.60" y1="525.42" x2="51.40" y2="525.42" stroke="#000" stroke-width="1.0" />
<line x1="56.70" y1="525.38" x2="56.70" y2="524.66" stroke="#000" stroke-width="0.8" />
<line x1="55.30" y1="524.66" x2="58.10" y2="524.66" stroke="#000" stroke-width="1.0" />
<line x1="63.40" y1="523.66" x2="63.40" y2="521.50" stroke="#000" stroke-width="0.8" />
<line x1="62.00" y1="521.50" x2="64.80" y2="521.50" stroke="#000" stroke-width="1.0" />
<line x1="70.10" y1="519.84" x2="70.10" y2="514.08" stroke="#000" stroke-width="0.8" />
<line x1="68.70" y1="514.08" x2="71.50" y2="514.08" stroke="#000" stroke-width="1.0" />
<line x1="76.80" y1="521.64" x2="76.80" y2="520.20" stroke="#000" stroke-width="0.8" />
<line x1="75.40" y1="520.20" x2="78.20" y2="520.20" stroke="#000" stroke-width="1.0" />
<line x1="83.50" y1="518.62" x2="83.50" y2="515.02" stroke="#000" stroke-width="0.8" />
<line x1="82.10" y1="515.02" x2="84.90" y2="515.02" stroke="#000" stroke-width="1.0" />
<line x1="90.20" y1="521.14" x2="90.20" y2="518.98" stroke="#000" stroke-width="0.8" />
<line x1="88.80" y1="518.98" x2="91.60" y2="518.98" stroke="#000" stroke-width="1.0" />
<line x1="96.90" y1="512.28" x2="96.90" y2="508.68" stroke="#000" stroke-width="0.8" />
<line x1="95.50" y1="508.68" x2="98.30" y2="508.68" stroke="#000" stroke-width="1.0" />
<line x1="103.60" y1="517.32" x2="103.60" y2="515.16" stroke="#000" stroke-width="0.8" />
<line x1="102.20" y1="515.16" x2="105.00" y2="515.16" stroke="#000" stroke-width="1.0" />
<line x1="110.30" y1="509.76" x2="110.30" y2="506.16" stroke="#000" stroke-width="0.8" />
<line x1="108.90" y1="506.16" x2="111.70" y2="506.16" stroke="#000" stroke-width="1.0" />
<line x1="117.00" y1="516.10" x2="117.00" y2="513.22" stroke="#000" stroke-width="0.8" />
<line x1="115.60" y1="513.22" x2="118.40" y2="513.22" stroke="#000" stroke-width="1.0" />
<line x1="123.70" y1="502.20" x2="123.70" y2="492.12" stroke="#000" stroke-width="0.8" />
<line x1="122.30" y1="492.12" x2="125.10" y2="492.12" stroke="#000" stroke-width="1.0" />
<line x1="130.40" y1="508.54" x2="130.40" y2="499.90" stroke="#000" stroke-width="0.8" />
<line x1="129.00" y1="499.90" x2="131.80" y2="499.90" stroke="#000" stroke-width="1.0" />
<line x1="137.10" y1="513.58" x2="137.10" y2="511.42" stroke="#000" stroke-width="0.8" />
<line x1="135.70" y1="511.42" x2="138.50" y2="511.42" stroke="#000" stroke-width="1.0" />
<line x1="143.80" y1="513.58" x2="143.80" y2="511.42" stroke="#000" stroke-width="0.8" />
<line x1="142.40" y1="511.42" x2="145.20" y2="511.42" stroke="#000" stroke-width="1.0" />
<line x1="150.50" y1="507.74" x2="150.50" y2="504.14" stroke="#000" stroke-width="0.8" />
<line x1="149.10" y1="504.14" x2="151.90" y2="504.14" stroke="#000" stroke-width="1.0" />
<line x1="157.20" y1="511.06" x2="157.20" y2="508.18" stroke="#000" stroke-width="0.8" />
<line x1="155.80" y1="508.18" x2="158.60" y2="508.18" stroke="#000" stroke-width="1.0" />
<line x1="163.90" y1="519.84" x2="163.90" y2="517.68" stroke="#000" stroke-width="0.8" />
<line x1="162.50" y1="517.68" x2="165.30" y2="517.68" stroke="#000" stroke-width="1.0" />
<line x1="170.60" y1="521.14" x2="170.60" y2="518.98" stroke="#000" stroke-width="0.8" />
<line x1="169.20" y1="518.98" x2="172.00" y2="518.98" stroke="#000" stroke-width="1.0" />
<line x1="177.30" y1="514.30" x2="177.30" y2="510.70" stroke="#000" stroke-width="0.8" />
<line x1="175.90" y1="510.70" x2="178.70" y2="510.70" stroke="#000" stroke-width="1.0" />
<line x1="184.00" y1="514.80" x2="184.00" y2="511.20" stroke="#000" stroke-width="0.8" />
<line x1="182.60" y1="511.20" x2="185.40" y2="511.20" stroke="#000" stroke-width="1.0" />
<line x1="190.70" y1="516.82" x2="190.70" y2="513.22" stroke="#000" stroke-width="0.8" />
<line x1="189.30" y1="513.22" x2="192.10" y2="513.22" stroke="#000" stroke-width="1.0" />
<line x1="197.40" y1="522.36" x2="197.40" y2="520.20" stroke="#000" stroke-width="0.8" />
<line x1="196.00" y1="520.20" x2="198.80" y2="520.20" stroke="#000" stroke-width="1.0" />
<line x1="204.10" y1="517.32" x2="204.10" y2="513.72" stroke="#000" stroke-width="0.8" />
<line x1="202.70" y1="513.72" x2="205.50" y2="513.72" stroke="#000" stroke-width="1.0" />
<line x1="210.80" y1="516.60" x2="210.80" y2="513.00" stroke="#000" stroke-width="0.8" />
<line x1="209.40" y1="513.00" x2="212.20" y2="513.00" stroke="#000" stroke-width="1.0" />
<line x1="217.50" y1="511.06" x2="217.50" y2="504.58" stroke="#000" stroke-width="0.8" />
<line x1="216.10" y1="504.58" x2="218.90" y2="504.58" stroke="#000" stroke-width="1.0" />
<line x1="224.20" y1="519.84" x2="224.20" y2="517.68" stroke="#000" stroke-width="0.8" />
<line x1="222.80" y1="517.68" x2="225.60" y2="517.68" stroke="#000" stroke-width="1.0" />
<line x1="230.90" y1="518.62" x2="230.90" y2="516.46" stroke="#000" stroke-width="0.8" />
<line x1="229.50" y1="516.46" x2="232.30" y2="516.46" stroke="#000" stroke-width="1.0" />
<line x1="237.60" y1="516.82" x2="237.60" y2="514.66" stroke="#000" stroke-width="0.8" />
<line x1="236.20" y1="514.66" x2="239.00" y2="514.66" stroke="#000" stroke-width="1.0" />
<polyline points="50.00,526.14 56.70,525.38 63.40,523.66 70.10,519.84 76.80,521.64 83.50,518.62 90.20,521.14 96.90,512.28 103.60,517.32 110.30,509.76 117.00,516.10 123.70,502.20 130.40,508.54 137.10,513.58 143.80,513.58 150.50,507.74 157.20,511.06 163.90,519.84 170.60,521.14 177.30,514.30 184.00,514.80 190.70,516.82 197.40,522.36 204.10,517.32 210.80,516.60 217.50,511.06 224.20,519.84 230.90,518.62 237.60,516.82" fill="none" stroke="#000" stroke-width="1.9" stroke-linejoin="round"/>
<circle cx="50.00" cy="526.14" r="1.0" fill="#000"/>
<circle cx="56.70" cy="525.38" r="1.0" fill="#000"/>
<circle cx="63.40" cy="523.66" r="1.0" fill="#000"/>
<circle cx="70.10" cy="519.84" r="1.0" fill="#000"/>
<circle cx="76.80" cy="521.64" r="1.0" fill="#000"/>
<circle cx="83.50" cy="518.62" r="1.0" fill="#000"/>
<circle cx="90.20" cy="521.14" r="1.0" fill="#000"/>
<circle cx="96.90" cy="512.28" r="1.0" fill="#000"/>
<circle cx="103.60" cy="517.32" r="1.0" fill="#000"/>
<circle cx="110.30" cy="509.76" r="1.0" fill="#000"/>
<circle cx="117.00" cy="516.10" r="1.0" fill="#000"/>
<circle cx="123.70" cy="502.20" r="1.0" fill="#000"/>
<circle cx="130.40" cy="508.54" r="1.0" fill="#000"/>
<circle cx="137.10" cy="513.58" r="1.0" fill="#000"/>
<circle cx="143.80" cy="513.58" r="1.0" fill="#000"/>
<circle cx="150.50" cy="507.74" r="1.0" fill="#000"/>
<circle cx="157.20" cy="511.06" r="1.0" fill="#000"/>
<circle cx="163.90" cy="519.84" r="1.0" fill="#000"/>
<circle cx="170.60" cy="521.14" r="1.0" fill="#000"/>
<circle cx="177.30" cy="514.30" r="1.0" fill="#000"/>
<circle cx="184.00" cy="514.80" r="1.0" fill="#000"/>
<circle cx="190.70" cy="516.82" r="1.0" fill="#000"/>
<circle cx="197.40" cy="522.36" r="1.0" fill="#000"/>
<circle cx="204.10" cy="517.32" r="1.0" fill="#000"/>
<circle cx="210.80" cy="516.60" r="1.0" fill="#000"/>
<circle cx="217.50" cy="511.06" r="1.0" fill="#000"/>
<circle cx="224.20" cy="519.84" r="1.0" fill="#000"/>
<circle cx="230.90" cy="518.62" r="1.0" fill="#000"/>
<circle cx="237.60" cy="516.82" r="1.0" fill="#000"/>
<line x1="50.00" y1="525.24" x2="50.00" y2="524.52" stroke="#444" stroke-width="0.8" />
<line x1="48.60" y1="524.52" x2="51.40" y2="524.52" stroke="#444" stroke-width="1.0" />
<line x1="56.70" y1="525.24" x2="56.70" y2="524.52" stroke="#444" stroke-width="0.8" />
<line x1="55.30" y1="524.52" x2="58.10" y2="524.52" stroke="#444" stroke-width="1.0" />
<line x1="63.40" y1="522.36" x2="63.40" y2="520.92" stroke="#444" stroke-width="0.8" />
<line x1="62.00" y1="520.92" x2="64.80" y2="520.92" stroke="#444" stroke-width="1.0" />
<line x1="70.10" y1="520.20" x2="70.10" y2="518.04" stroke="#444" stroke-width="0.8" />
<line x1="68.70" y1="518.04" x2="71.50" y2="518.04" stroke="#444" stroke-width="1.0" />
<line x1="76.80" y1="521.64" x2="76.80" y2="520.20" stroke="#444" stroke-width="0.8" />
<line x1="75.40" y1="520.20" x2="78.20" y2="520.20" stroke="#444" stroke-width="1.0" />
<line x1="83.50" y1="516.82" x2="83.50" y2="514.66" stroke="#444" stroke-width="0.8" />
<line x1="82.10" y1="514.66" x2="84.90" y2="514.66" stroke="#444" stroke-width="1.0" />
<line x1="90.20" y1="514.30" x2="90.20" y2="512.14" stroke="#444" stroke-width="0.8" />
<line x1="88.80" y1="512.14" x2="91.60" y2="512.14" stroke="#444" stroke-width="1.0" />
<line x1="96.90" y1="512.78" x2="96.90" y2="510.62" stroke="#444" stroke-width="0.8" />
<line x1="95.50" y1="510.62" x2="98.30" y2="510.62" stroke="#444" stroke-width="1.0" />
<line x1="103.60" y1="517.82" x2="103.60" y2="515.66" stroke="#444" stroke-width="0.8" />
<line x1="102.20" y1="515.66" x2="105.00" y2="515.66" stroke="#444" stroke-width="1.0" />
<line x1="110.30" y1="519.84" x2="110.30" y2="517.68" stroke="#444" stroke-width="0.8" />
<line x1="108.90" y1="517.68" x2="111.70" y2="517.68" stroke="#444" stroke-width="1.0" />
<line x1="117.00" y1="524.38" x2="117.00" y2="522.94" stroke="#444" stroke-width="0.8" />
<line x1="115.60" y1="522.94" x2="118.40" y2="522.94" stroke="#444" stroke-width="1.0" />
<line x1="123.70" y1="522.86" x2="123.70" y2="520.70" stroke="#444" stroke-width="0.8" />
<line x1="122.30" y1="520.70" x2="125.10" y2="520.70" stroke="#444" stroke-width="1.0" />
<line x1="130.40" y1="523.66" x2="130.40" y2="521.50" stroke="#444" stroke-width="0.8" />
<line x1="129.00" y1="521.50" x2="131.80" y2="521.50" stroke="#444" stroke-width="1.0" />
<line x1="137.10" y1="526.90" x2="137.10" y2="526.18" stroke="#444" stroke-width="0.8" />
<line x1="135.70" y1="526.18" x2="138.50" y2="526.18" stroke="#444" stroke-width="1.0" />
<line x1="143.80" y1="526.68" x2="143.80" y2="525.96" stroke="#444" stroke-width="0.8" />
<line x1="142.40" y1="525.96" x2="145.20" y2="525.96" stroke="#444" stroke-width="1.0" />
<line x1="150.50" y1="524.88" x2="150.50" y2="522.72" stroke="#444" stroke-width="0.8" />
<line x1="149.10" y1="522.72" x2="151.90" y2="522.72" stroke="#444" stroke-width="1.0" />
<line x1="157.20" y1="524.16" x2="157.20" y2="522.00" stroke="#444" stroke-width="0.8" />
<line x1="155.80" y1="522.00" x2="158.60" y2="522.00" stroke="#444" stroke-width="1.0" />
<line x1="163.90" y1="526.32" x2="163.90" y2="524.88" stroke="#444" stroke-width="0.8" />
<line x1="162.50" y1="524.88" x2="165.30" y2="524.88" stroke="#444" stroke-width="1.0" />
<line x1="170.60" y1="523.08" x2="170.60" y2="520.92" stroke="#444" stroke-width="0.8" />
<line x1="169.20" y1="520.92" x2="172.00" y2="520.92" stroke="#444" stroke-width="1.0" />
<line x1="177.30" y1="523.44" x2="177.30" y2="521.28" stroke="#444" stroke-width="0.8" />
<line x1="175.90" y1="521.28" x2="178.70" y2="521.28" stroke="#444" stroke-width="1.0" />
<line x1="184.00" y1="523.08" x2="184.00" y2="520.92" stroke="#444" stroke-width="0.8" />
<line x1="182.60" y1="520.92" x2="185.40" y2="520.92" stroke="#444" stroke-width="1.0" />
<line x1="190.70" y1="525.24" x2="190.70" y2="523.80" stroke="#444" stroke-width="0.8" />
<line x1="189.30" y1="523.80" x2="192.10" y2="523.80" stroke="#444" stroke-width="1.0" />
<line x1="197.40" y1="524.16" x2="197.40" y2="522.00" stroke="#444" stroke-width="0.8" />
<line x1="196.00" y1="522.00" x2="198.80" y2="522.00" stroke="#444" stroke-width="1.0" />
<line x1="204.10" y1="523.08" x2="204.10" y2="520.92" stroke="#444" stroke-width="0.8" />
<line x1="202.70" y1="520.92" x2="205.50" y2="520.92" stroke="#444" stroke-width="1.0" />
<line x1="210.80" y1="524.16" x2="210.80" y2="522.00" stroke="#444" stroke-width="0.8" />
<line x1="209.40" y1="522.00" x2="212.20" y2="522.00" stroke="#444" stroke-width="1.0" />
<line x1="217.50" y1="519.84" x2="217.50" y2="517.68" stroke="#444" stroke-width="0.8" />
<line x1="216.10" y1="517.68" x2="218.90" y2="517.68" stroke="#444" stroke-width="1.0" />
<line x1="224.20" y1="522.72" x2="224.20" y2="520.56" stroke="#444" stroke-width="0.8" />
<line x1="222.80" y1="520.56" x2="225.60" y2="520.56" stroke="#444" stroke-width="1.0" />
<line x1="230.90" y1="524.16" x2="230.90" y2="522.00" stroke="#444" stroke-width="0.8" />
<line x1="229.50" y1="522.00" x2="232.30" y2="522.00" stroke="#444" stroke-width="1.0" />
<line x1="237.60" y1="523.08" x2="237.60" y2="520.92" stroke="#444" stroke-width="0.8" />
<line x1="236.20" y1="520.92" x2="239.00" y2="520.92" stroke="#444" stroke-width="1.0" />
<polyline points="50.00,525.24 56.70,525.24 63.40,522.36 70.10,520.20 76.80,521.64 83.50,516.82 90.20,514.30 96.90,512.78 103.60,517.82 110.30,519.84 117.00,524.38 123.70,522.86 130.40,523.66 137.10,526.90 143.80,526.68 150.50,524.88 157.20,524.16 163.90,526.32 170.60,523.08 177.30,523.44 184.00,523.08 190.70,525.24 197.40,524.16 204.10,523.08 210.80,524.16 217.50,519.84 224.20,522.72 230.90,524.16 237.60,523.08" fill="none" stroke="#a8a8a8" stroke-width="1.6" stroke-linejoin="round"/>
<path d="M48.80,524.24H51.20L50.00,526.34Z" fill="#444"/>
<path d="M55.50,524.24H57.90L56.70,526.34Z" fill="#444"/>
<path d="M62.20,521.36H64.60L63.40,523.46Z" fill="#444"/>
<path d="M68.90,519.20H71.30L70.10,521.30Z" fill="#444"/>
<path d="M75.60,520.64H78.00L76.80,522.74Z" fill="#444"/>
<path d="M82.30,515.82H84.70L83.50,517.92Z" fill="#444"/>
<path d="M89.00,513.30H91.40L90.20,515.40Z" fill="#444"/>
<path d="M95.70,511.78H98.10L96.90,513.88Z" fill="#444"/>
<path d="M102.40,516.82H104.80L103.60,518.92Z" fill="#444"/>
<path d="M109.10,518.84H111.50L110.30,520.94Z" fill="#444"/>
<path d="M115.80,523.38H118.20L117.00,525.48Z" fill="#444"/>
<path d="M122.50,521.86H124.90L123.70,523.96Z" fill="#444"/>
<path d="M129.20,522.66H131.60L130.40,524.76Z" fill="#444"/>
<path d="M135.90,525.90H138.30L137.10,528.00Z" fill="#444"/>
<path d="M142.60,525.68H145.00L143.80,527.78Z" fill="#444"/>
<path d="M149.30,523.88H151.70L150.50,525.98Z" fill="#444"/>
<path d="M156.00,523.16H158.40L157.20,525.26Z" fill="#444"/>
<path d="M162.70,525.32H165.10L163.90,527.42Z" fill="#444"/>
<path d="M169.40,522.08H171.80L170.60,524.18Z" fill="#444"/>
<path d="M176.10,522.44H178.50L177.30,524.54Z" fill="#444"/>
<path d="M182.80,522.08H185.20L184.00,524.18Z" fill="#444"/>
<path d="M189.50,524.24H191.90L190.70,526.34Z" fill="#444"/>
<path d="M196.20,523.16H198.60L197.40,525.26Z" fill="#444"/>
<path d="M202.90,522.08H205.30L204.10,524.18Z" fill="#444"/>
<path d="M209.60,523.16H212.00L210.80,525.26Z" fill="#444"/>
<path d="M216.30,518.84H218.70L217.50,520.94Z" fill="#444"/>
<path d="M223.00,521.72H225.40L224.20,523.82Z" fill="#444"/>
<path d="M229.70,523.16H232.10L230.90,525.26Z" fill="#444"/>
<path d="M236.40,522.08H238.80L237.60,524.18Z" fill="#444"/>
<line x1="50.50" y1="491.00" x2="50.50" y2="527.20" stroke="#000" stroke-width="1.0" />
<line x1="50.00" y1="527.40" x2="238.20" y2="527.40" stroke="#1a1a1a" stroke-width="1.25" />
<text transform="translate(22.40,509.10) rotate(-90)" font-size="6.0" text-anchor="middle" font-weight="bold" fill="#000" stroke="#000" stroke-width="0.16">Wheel</text>
<text transform="translate(29.20,509.10) rotate(-90)" font-size="6.0" text-anchor="middle" font-weight="bold" fill="#000" stroke="#000" stroke-width="0.16">Revolutions [U]</text>
<text x="143.80" y="542.80" font-size="6.0" text-anchor="middle" font-weight="bold" fill="#000" stroke="#000" stroke-width="0.16" >Days [d]</text>
<line x1="294.00" y1="520.50" x2="480.80" y2="520.50" stroke="#777" stroke-width="1" stroke-dasharray="1,1"/>
<line x1="294.00" y1="513.50" x2="480.80" y2="513.50" stroke="#777" stroke-width="1" stroke-dasharray="1,1"/>
<line x1="294.00" y1="505.50" x2="480.80" y2="505.50" stroke="#777" stroke-width="1" stroke-dasharray="1,1"/>
<line x1="294.00" y1="498.50" x2="480.80" y2="498.50" stroke="#777" stroke-width="1" stroke-dasharray="1,1"/>
<line x1="294.00" y1="491.50" x2="480.80" y2="491.50" stroke="#777" stroke-width="1" stroke-dasharray="1,1"/>
<line x1="359.50" y1="492.00" x2="359.50" y2="527.50" stroke="#888" stroke-width="1" stroke-dasharray="1,1"/>
<line x1="393.50" y1="492.00" x2="393.50" y2="527.50" stroke="#888" stroke-width="1" stroke-dasharray="1,1"/>
<text x="290.20" y="529.61" font-size="5.55" text-anchor="end" font-weight="bold" fill="#000" stroke="#000" stroke-width="0.16" >0</text>
<line x1="290.50" y1="527.50" x2="292.50" y2="527.50" stroke="#000" stroke-width="1" />
<text x="290.20" y="522.39" font-size="5.55" text-anchor="end" font-weight="bold" fill="#000" stroke="#000" stroke-width="0.16" >1,000</text>
<line x1="290.50" y1="520.50" x2="292.50" y2="520.50" stroke="#000" stroke-width="1" />
<text x="290.20" y="515.17" font-size="5.55" text-anchor="end" font-weight="bold" fill="#000" stroke="#000" stroke-width="0.16" >2,000</text>
<line x1="290.50" y1="513.50" x2="292.50" y2="513.50" stroke="#000" stroke-width="1" />
<text x="290.20" y="507.95" font-size="5.55" text-anchor="end" font-weight="bold" fill="#000" stroke="#000" stroke-width="0.16" >3,000</text>
<line x1="290.50" y1="505.50" x2="292.50" y2="505.50" stroke="#000" stroke-width="1" />
<text x="290.20" y="500.73" font-size="5.55" text-anchor="end" font-weight="bold" fill="#000" stroke="#000" stroke-width="0.16" >4,000</text>
<line x1="290.50" y1="498.50" x2="292.50" y2="498.50" stroke="#000" stroke-width="1" />
<text x="290.20" y="493.51" font-size="5.55" text-anchor="end" font-weight="bold" fill="#000" stroke="#000" stroke-width="0.16" >5,000</text>
<line x1="290.50" y1="491.50" x2="292.50" y2="491.50" stroke="#000" stroke-width="1" />
<line x1="299.30" y1="527.50" x2="299.30" y2="529.30" stroke="#000" stroke-width="0.8" />
<text x="299.30" y="535.63" font-size="4.8" text-anchor="middle" font-weight="bold" fill="#000" stroke="#000" stroke-width="0.16" >2</text>
<line x1="312.70" y1="527.50" x2="312.70" y2="529.30" stroke="#000" stroke-width="0.8" />
<text x="312.70" y="535.63" font-size="4.8" text-anchor="middle" font-weight="bold" fill="#000" stroke="#000" stroke-width="0.16" >4</text>
<line x1="326.10" y1="527.50" x2="326.10" y2="529.30" stroke="#000" stroke-width="0.8" />
<text x="326.10" y="535.63" font-size="4.8" text-anchor="middle" font-weight="bold" fill="#000" stroke="#000" stroke-width="0.16" >6</text>
<line x1="339.50" y1="527.50" x2="339.50" y2="529.30" stroke="#000" stroke-width="0.8" />
<text x="339.50" y="535.63" font-size="4.8" text-anchor="middle" font-weight="bold" fill="#000" stroke="#000" stroke-width="0.16" >8</text>
<line x1="352.90" y1="527.50" x2="352.90" y2="529.30" stroke="#000" stroke-width="0.8" />
<text x="352.90" y="535.63" font-size="4.8" text-anchor="middle" font-weight="bold" fill="#000" stroke="#000" stroke-width="0.16" >10</text>
<line x1="366.30" y1="527.50" x2="366.30" y2="529.30" stroke="#000" stroke-width="0.8" />
<text x="366.30" y="535.63" font-size="4.8" text-anchor="middle" font-weight="bold" fill="#000" stroke="#000" stroke-width="0.16" >12</text>
<line x1="379.70" y1="527.50" x2="379.70" y2="529.30" stroke="#000" stroke-width="0.8" />
<text x="379.70" y="535.63" font-size="4.8" text-anchor="middle" font-weight="bold" fill="#000" stroke="#000" stroke-width="0.16" >14</text>
<line x1="393.10" y1="527.50" x2="393.10" y2="529.30" stroke="#000" stroke-width="0.8" />
<text x="393.10" y="535.63" font-size="4.8" text-anchor="middle" font-weight="bold" fill="#000" stroke="#000" stroke-width="0.16" >16</text>
<line x1="406.50" y1="527.50" x2="406.50" y2="529.30" stroke="#000" stroke-width="0.8" />
<text x="406.50" y="535.63" font-size="4.8" text-anchor="middle" font-weight="bold" fill="#000" stroke="#000" stroke-width="0.16" >18</text>
<line x1="419.90" y1="527.50" x2="419.90" y2="529.30" stroke="#000" stroke-width="0.8" />
<text x="419.90" y="535.63" font-size="4.8" text-anchor="middle" font-weight="bold" fill="#000" stroke="#000" stroke-width="0.16" >20</text>
<line x1="433.30" y1="527.50" x2="433.30" y2="529.30" stroke="#000" stroke-width="0.8" />
<text x="433.30" y="535.63" font-size="4.8" text-anchor="middle" font-weight="bold" fill="#000" stroke="#000" stroke-width="0.16" >22</text>
<line x1="446.70" y1="527.50" x2="446.70" y2="529.30" stroke="#000" stroke-width="0.8" />
<text x="446.70" y="535.63" font-size="4.8" text-anchor="middle" font-weight="bold" fill="#000" stroke="#000" stroke-width="0.16" >24</text>
<line x1="460.10" y1="527.50" x2="460.10" y2="529.30" stroke="#000" stroke-width="0.8" />
<text x="460.10" y="535.63" font-size="4.8" text-anchor="middle" font-weight="bold" fill="#000" stroke="#000" stroke-width="0.16" >26</text>
<line x1="473.50" y1="527.50" x2="473.50" y2="529.30" stroke="#000" stroke-width="0.8" />
<text x="473.50" y="535.63" font-size="4.8" text-anchor="middle" font-weight="bold" fill="#000" stroke="#000" stroke-width="0.16" >28</text>
<line x1="292.60" y1="523.75" x2="292.60" y2="523.02" stroke="#000" stroke-width="0.8" />
<line x1="291.20" y1="523.02" x2="294.00" y2="523.02" stroke="#000" stroke-width="1.0" />
<line x1="299.30" y1="523.75" x2="299.30" y2="522.30" stroke="#000" stroke-width="0.8" />
<line x1="297.90" y1="522.30" x2="300.70" y2="522.30" stroke="#000" stroke-width="1.0" />
<line x1="306.00" y1="521.22" x2="306.00" y2="518.33" stroke="#000" stroke-width="0.8" />
<line x1="304.60" y1="518.33" x2="307.40" y2="518.33" stroke="#000" stroke-width="1.0" />
<line x1="312.70" y1="522.45" x2="312.70" y2="521.00" stroke="#000" stroke-width="0.8" />
<line x1="311.30" y1="521.00" x2="314.10" y2="521.00" stroke="#000" stroke-width="1.0" />
<line x1="319.40" y1="521.22" x2="319.40" y2="519.05" stroke="#000" stroke-width="0.8" />
<line x1="318.00" y1="519.05" x2="320.80" y2="519.05" stroke="#000" stroke-width="1.0" />
<line x1="326.10" y1="515.37" x2="326.10" y2="512.48" stroke="#000" stroke-width="0.8" />
<line x1="324.70" y1="512.48" x2="327.50" y2="512.48" stroke="#000" stroke-width="1.0" />
<line x1="332.80" y1="518.69" x2="332.80" y2="516.53" stroke="#000" stroke-width="0.8" />
<line x1="331.40" y1="516.53" x2="334.20" y2="516.53" stroke="#000" stroke-width="1.0" />
<line x1="339.50" y1="521.22" x2="339.50" y2="519.05" stroke="#000" stroke-width="0.8" />
<line x1="338.10" y1="519.05" x2="340.90" y2="519.05" stroke="#000" stroke-width="1.0" />
<line x1="346.20" y1="521.72" x2="346.20" y2="519.56" stroke="#000" stroke-width="0.8" />
<line x1="344.80" y1="519.56" x2="347.60" y2="519.56" stroke="#000" stroke-width="1.0" />
<line x1="352.90" y1="522.45" x2="352.90" y2="520.28" stroke="#000" stroke-width="0.8" />
<line x1="351.50" y1="520.28" x2="354.30" y2="520.28" stroke="#000" stroke-width="1.0" />
<line x1="359.60" y1="522.45" x2="359.60" y2="520.28" stroke="#000" stroke-width="0.8" />
<line x1="358.20" y1="520.28" x2="361.00" y2="520.28" stroke="#000" stroke-width="1.0" />
<line x1="366.30" y1="522.45" x2="366.30" y2="520.28" stroke="#000" stroke-width="0.8" />
<line x1="364.90" y1="520.28" x2="367.70" y2="520.28" stroke="#000" stroke-width="1.0" />
<line x1="373.00" y1="523.17" x2="373.00" y2="521.00" stroke="#000" stroke-width="0.8" />
<line x1="371.60" y1="521.00" x2="374.40" y2="521.00" stroke="#000" stroke-width="1.0" />
<line x1="379.70" y1="523.17" x2="379.70" y2="521.00" stroke="#000" stroke-width="0.8" />
<line x1="378.30" y1="521.00" x2="381.10" y2="521.00" stroke="#000" stroke-width="1.0" />
<line x1="386.40" y1="523.75" x2="386.40" y2="521.58" stroke="#000" stroke-width="0.8" />
<line x1="385.00" y1="521.58" x2="387.80" y2="521.58" stroke="#000" stroke-width="1.0" />
<line x1="393.10" y1="521.72" x2="393.10" y2="519.56" stroke="#000" stroke-width="0.8" />
<line x1="391.70" y1="519.56" x2="394.50" y2="519.56" stroke="#000" stroke-width="1.0" />
<line x1="399.80" y1="522.45" x2="399.80" y2="520.28" stroke="#000" stroke-width="0.8" />
<line x1="398.40" y1="520.28" x2="401.20" y2="520.28" stroke="#000" stroke-width="1.0" />
<line x1="406.50" y1="521.72" x2="406.50" y2="519.56" stroke="#000" stroke-width="0.8" />
<line x1="405.10" y1="519.56" x2="407.90" y2="519.56" stroke="#000" stroke-width="1.0" />
<line x1="413.20" y1="526.24" x2="413.20" y2="524.07" stroke="#000" stroke-width="0.8" />
<line x1="411.80" y1="524.07" x2="414.60" y2="524.07" stroke="#000" stroke-width="1.0" />
<line x1="419.90" y1="521.22" x2="419.90" y2="519.05" stroke="#000" stroke-width="0.8" />
<line x1="418.50" y1="519.05" x2="421.30" y2="519.05" stroke="#000" stroke-width="1.0" />
<line x1="426.60" y1="522.45" x2="426.60" y2="520.28" stroke="#000" stroke-width="0.8" />
<line x1="425.20" y1="520.28" x2="428.00" y2="520.28" stroke="#000" stroke-width="1.0" />
<line x1="433.30" y1="526.24" x2="433.30" y2="524.07" stroke="#000" stroke-width="0.8" />
<line x1="431.90" y1="524.07" x2="434.70" y2="524.07" stroke="#000" stroke-width="1.0" />
<line x1="440.00" y1="521.22" x2="440.00" y2="519.05" stroke="#000" stroke-width="0.8" />
<line x1="438.60" y1="519.05" x2="441.40" y2="519.05" stroke="#000" stroke-width="1.0" />
<line x1="446.70" y1="515.37" x2="446.70" y2="508.87" stroke="#000" stroke-width="0.8" />
<line x1="445.30" y1="508.87" x2="448.10" y2="508.87" stroke="#000" stroke-width="1.0" />
<line x1="453.40" y1="523.17" x2="453.40" y2="521.00" stroke="#000" stroke-width="0.8" />
<line x1="452.00" y1="521.00" x2="454.80" y2="521.00" stroke="#000" stroke-width="1.0" />
<line x1="460.10" y1="522.45" x2="460.10" y2="520.28" stroke="#000" stroke-width="0.8" />
<line x1="458.70" y1="520.28" x2="461.50" y2="520.28" stroke="#000" stroke-width="1.0" />
<line x1="466.80" y1="523.17" x2="466.80" y2="521.00" stroke="#000" stroke-width="0.8" />
<line x1="465.40" y1="521.00" x2="468.20" y2="521.00" stroke="#000" stroke-width="1.0" />
<line x1="473.50" y1="523.17" x2="473.50" y2="521.00" stroke="#000" stroke-width="0.8" />
<line x1="472.10" y1="521.00" x2="474.90" y2="521.00" stroke="#000" stroke-width="1.0" />
<line x1="480.20" y1="520.28" x2="480.20" y2="518.11" stroke="#000" stroke-width="0.8" />
<line x1="478.80" y1="518.11" x2="481.60" y2="518.11" stroke="#000" stroke-width="1.0" />
<polyline points="292.60,523.75 299.30,523.75 306.00,521.22 312.70,522.45 319.40,521.22 326.10,515.37 332.80,518.69 339.50,521.22 346.20,521.72 352.90,522.45 359.60,522.45 366.30,522.45 373.00,523.17 379.70,523.17 386.40,523.75 393.10,521.72 399.80,522.45 406.50,521.72 413.20,526.24 419.90,521.22 426.60,522.45 433.30,526.24 440.00,521.22 446.70,515.37 453.40,523.17 460.10,522.45 466.80,523.17 473.50,523.17 480.20,520.28" fill="none" stroke="#000" stroke-width="1.9" stroke-linejoin="round"/>
<circle cx="292.60" cy="523.75" r="1.0" fill="#000"/>
<circle cx="299.30" cy="523.75" r="1.0" fill="#000"/>
<circle cx="306.00" cy="521.22" r="1.0" fill="#000"/>
<circle cx="312.70" cy="522.45" r="1.0" fill="#000"/>
<circle cx="319.40" cy="521.22" r="1.0" fill="#000"/>
<circle cx="326.10" cy="515.37" r="1.0" fill="#000"/>
<circle cx="332.80" cy="518.69" r="1.0" fill="#000"/>
<circle cx="339.50" cy="521.22" r="1.0" fill="#000"/>
<circle cx="346.20" cy="521.72" r="1.0" fill="#000"/>
<circle cx="352.90" cy="522.45" r="1.0" fill="#000"/>
<circle cx="359.60" cy="522.45" r="1.0" fill="#000"/>
<circle cx="366.30" cy="522.45" r="1.0" fill="#000"/>
<circle cx="373.00" cy="523.17" r="1.0" fill="#000"/>
<circle cx="379.70" cy="523.17" r="1.0" fill="#000"/>
<circle cx="386.40" cy="523.75" r="1.0" fill="#000"/>
<circle cx="393.10" cy="521.72" r="1.0" fill="#000"/>
<circle cx="399.80" cy="522.45" r="1.0" fill="#000"/>
<circle cx="406.50" cy="521.72" r="1.0" fill="#000"/>
<circle cx="413.20" cy="526.24" r="1.0" fill="#000"/>
<circle cx="419.90" cy="521.22" r="1.0" fill="#000"/>
<circle cx="426.60" cy="522.45" r="1.0" fill="#000"/>
<circle cx="433.30" cy="526.24" r="1.0" fill="#000"/>
<circle cx="440.00" cy="521.22" r="1.0" fill="#000"/>
<circle cx="446.70" cy="515.37" r="1.0" fill="#000"/>
<circle cx="453.40" cy="523.17" r="1.0" fill="#000"/>
<circle cx="460.10" cy="522.45" r="1.0" fill="#000"/>
<circle cx="466.80" cy="523.17" r="1.0" fill="#000"/>
<circle cx="473.50" cy="523.17" r="1.0" fill="#000"/>
<circle cx="480.20" cy="520.28" r="1.0" fill="#000"/>
<line x1="292.60" y1="524.61" x2="292.60" y2="523.17" stroke="#444" stroke-width="0.8" />
<line x1="291.20" y1="523.17" x2="294.00" y2="523.17" stroke="#444" stroke-width="1.0" />
<line x1="299.30" y1="522.45" x2="299.30" y2="521.00" stroke="#444" stroke-width="0.8" />
<line x1="297.90" y1="521.00" x2="300.70" y2="521.00" stroke="#444" stroke-width="1.0" />
<line x1="306.00" y1="522.09" x2="306.00" y2="519.92" stroke="#444" stroke-width="0.8" />
<line x1="304.60" y1="519.92" x2="307.40" y2="519.92" stroke="#444" stroke-width="1.0" />
<line x1="312.70" y1="523.17" x2="312.70" y2="521.00" stroke="#444" stroke-width="0.8" />
<line x1="311.30" y1="521.00" x2="314.10" y2="521.00" stroke="#444" stroke-width="1.0" />
<line x1="319.40" y1="522.45" x2="319.40" y2="520.28" stroke="#444" stroke-width="0.8" />
<line x1="318.00" y1="520.28" x2="320.80" y2="520.28" stroke="#444" stroke-width="1.0" />
<line x1="326.10" y1="522.09" x2="326.10" y2="519.20" stroke="#444" stroke-width="0.8" />
<line x1="324.70" y1="519.20" x2="327.50" y2="519.20" stroke="#444" stroke-width="1.0" />
<line x1="332.80" y1="519.92" x2="332.80" y2="517.75" stroke="#444" stroke-width="0.8" />
<line x1="331.40" y1="517.75" x2="334.20" y2="517.75" stroke="#444" stroke-width="1.0" />
<line x1="339.50" y1="523.17" x2="339.50" y2="521.00" stroke="#444" stroke-width="0.8" />
<line x1="338.10" y1="521.00" x2="340.90" y2="521.00" stroke="#444" stroke-width="1.0" />
<line x1="346.20" y1="522.81" x2="346.20" y2="520.64" stroke="#444" stroke-width="0.8" />
<line x1="344.80" y1="520.64" x2="347.60" y2="520.64" stroke="#444" stroke-width="1.0" />
<line x1="352.90" y1="522.45" x2="352.90" y2="520.28" stroke="#444" stroke-width="0.8" />
<line x1="351.50" y1="520.28" x2="354.30" y2="520.28" stroke="#444" stroke-width="1.0" />
<line x1="359.60" y1="522.09" x2="359.60" y2="519.92" stroke="#444" stroke-width="0.8" />
<line x1="358.20" y1="519.92" x2="361.00" y2="519.92" stroke="#444" stroke-width="1.0" />
<line x1="366.30" y1="522.09" x2="366.30" y2="519.92" stroke="#444" stroke-width="0.8" />
<line x1="364.90" y1="519.92" x2="367.70" y2="519.92" stroke="#444" stroke-width="1.0" />
<line x1="373.00" y1="522.81" x2="373.00" y2="520.64" stroke="#444" stroke-width="0.8" />
<line x1="371.60" y1="520.64" x2="374.40" y2="520.64" stroke="#444" stroke-width="1.0" />
<line x1="379.70" y1="523.17" x2="379.70" y2="521.00" stroke="#444" stroke-width="0.8" />
<line x1="378.30" y1="521.00" x2="381.10" y2="521.00" stroke="#444" stroke-width="1.0" />
<line x1="386.40" y1="523.75" x2="386.40" y2="521.58" stroke="#444" stroke-width="0.8" />
<line x1="385.00" y1="521.58" x2="387.80" y2="521.58" stroke="#444" stroke-width="1.0" />
<line x1="393.10" y1="522.45" x2="393.10" y2="520.28" stroke="#444" stroke-width="0.8" />
<line x1="391.70" y1="520.28" x2="394.50" y2="520.28" stroke="#444" stroke-width="1.0" />
<line x1="399.80" y1="522.09" x2="399.80" y2="519.92" stroke="#444" stroke-width="0.8" />
<line x1="398.40" y1="519.92" x2="401.20" y2="519.92" stroke="#444" stroke-width="1.0" />
<line x1="406.50" y1="522.45" x2="406.50" y2="520.28" stroke="#444" stroke-width="0.8" />
<line x1="405.10" y1="520.28" x2="407.90" y2="520.28" stroke="#444" stroke-width="1.0" />
<line x1="413.20" y1="524.97" x2="413.20" y2="522.81" stroke="#444" stroke-width="0.8" />
<line x1="411.80" y1="522.81" x2="414.60" y2="522.81" stroke="#444" stroke-width="1.0" />
<line x1="419.90" y1="519.92" x2="419.90" y2="517.75" stroke="#444" stroke-width="0.8" />
<line x1="418.50" y1="517.75" x2="421.30" y2="517.75" stroke="#444" stroke-width="1.0" />
<line x1="426.60" y1="522.09" x2="426.60" y2="519.92" stroke="#444" stroke-width="0.8" />
<line x1="425.20" y1="519.92" x2="428.00" y2="519.92" stroke="#444" stroke-width="1.0" />
<line x1="433.30" y1="524.97" x2="433.30" y2="522.81" stroke="#444" stroke-width="0.8" />
<line x1="431.90" y1="522.81" x2="434.70" y2="522.81" stroke="#444" stroke-width="1.0" />
<line x1="440.00" y1="519.92" x2="440.00" y2="517.75" stroke="#444" stroke-width="0.8" />
<line x1="438.60" y1="517.75" x2="441.40" y2="517.75" stroke="#444" stroke-width="1.0" />
<line x1="446.70" y1="512.84" x2="446.70" y2="508.51" stroke="#444" stroke-width="0.8" />
<line x1="445.30" y1="508.51" x2="448.10" y2="508.51" stroke="#444" stroke-width="1.0" />
<line x1="453.40" y1="522.81" x2="453.40" y2="520.64" stroke="#444" stroke-width="0.8" />
<line x1="452.00" y1="520.64" x2="454.80" y2="520.64" stroke="#444" stroke-width="1.0" />
<line x1="460.10" y1="521.00" x2="460.10" y2="518.11" stroke="#444" stroke-width="0.8" />
<line x1="458.70" y1="518.11" x2="461.50" y2="518.11" stroke="#444" stroke-width="1.0" />
<line x1="466.80" y1="522.09" x2="466.80" y2="519.20" stroke="#444" stroke-width="0.8" />
<line x1="465.40" y1="519.20" x2="468.20" y2="519.20" stroke="#444" stroke-width="1.0" />
<line x1="473.50" y1="522.45" x2="473.50" y2="519.56" stroke="#444" stroke-width="0.8" />
<line x1="472.10" y1="519.56" x2="474.90" y2="519.56" stroke="#444" stroke-width="1.0" />
<line x1="480.20" y1="519.56" x2="480.20" y2="516.67" stroke="#444" stroke-width="0.8" />
<line x1="478.80" y1="516.67" x2="481.60" y2="516.67" stroke="#444" stroke-width="1.0" />
<polyline points="292.60,524.61 299.30,522.45 306.00,522.09 312.70,523.17 319.40,522.45 326.10,522.09 332.80,519.92 339.50,523.17 346.20,522.81 352.90,522.45 359.60,522.09 366.30,522.09 373.00,522.81 379.70,523.17 386.40,523.75 393.10,522.45 399.80,522.09 406.50,522.45 413.20,524.97 419.90,519.92 426.60,522.09 433.30,524.97 440.00,519.92 446.70,512.84 453.40,522.81 460.10,521.00 466.80,522.09 473.50,522.45 480.20,519.56" fill="none" stroke="#a8a8a8" stroke-width="1.6" stroke-linejoin="round"/>
<path d="M291.40,523.61H293.80L292.60,525.71Z" fill="#444"/>
<path d="M298.10,521.45H300.50L299.30,523.55Z" fill="#444"/>
<path d="M304.80,521.09H307.20L306.00,523.19Z" fill="#444"/>
<path d="M311.50,522.17H313.90L312.70,524.27Z" fill="#444"/>
<path d="M318.20,521.45H320.60L319.40,523.55Z" fill="#444"/>
<path d="M324.90,521.09H327.30L326.10,523.19Z" fill="#444"/>
<path d="M331.60,518.92H334.00L332.80,521.02Z" fill="#444"/>
<path d="M338.30,522.17H340.70L339.50,524.27Z" fill="#444"/>
<path d="M345.00,521.81H347.40L346.20,523.91Z" fill="#444"/>
<path d="M351.70,521.45H354.10L352.90,523.55Z" fill="#444"/>
<path d="M358.40,521.09H360.80L359.60,523.19Z" fill="#444"/>
<path d="M365.10,521.09H367.50L366.30,523.19Z" fill="#444"/>
<path d="M371.80,521.81H374.20L373.00,523.91Z" fill="#444"/>
<path d="M378.50,522.17H380.90L379.70,524.27Z" fill="#444"/>
<path d="M385.20,522.75H387.60L386.40,524.85Z" fill="#444"/>
<path d="M391.90,521.45H394.30L393.10,523.55Z" fill="#444"/>
<path d="M398.60,521.09H401.00L399.80,523.19Z" fill="#444"/>
<path d="M405.30,521.45H407.70L406.50,523.55Z" fill="#444"/>
<path d="M412.00,523.97H414.40L413.20,526.07Z" fill="#444"/>
<path d="M418.70,518.92H421.10L419.90,521.02Z" fill="#444"/>
<path d="M425.40,521.09H427.80L426.60,523.19Z" fill="#444"/>
<path d="M432.10,523.97H434.50L433.30,526.07Z" fill="#444"/>
<path d="M438.80,518.92H441.20L440.00,521.02Z" fill="#444"/>
<path d="M445.50,511.84H447.90L446.70,513.94Z" fill="#444"/>
<path d="M452.20,521.81H454.60L453.40,523.91Z" fill="#444"/>
<path d="M458.90,520.00H461.30L460.10,522.10Z" fill="#444"/>
<path d="M465.60,521.09H468.00L466.80,523.19Z" fill="#444"/>
<path d="M472.30,521.45H474.70L473.50,523.55Z" fill="#444"/>
<path d="M479.00,518.56H481.40L480.20,520.66Z" fill="#444"/>
<line x1="292.50" y1="491.00" x2="292.50" y2="528.20" stroke="#000" stroke-width="1.0" />
<line x1="292.00" y1="527.50" x2="480.80" y2="527.50" stroke="#888" stroke-width="1.9" />
<text transform="translate(265.60,509.60) rotate(-90)" font-size="5.35" text-anchor="middle" font-weight="bold" fill="#000" stroke="#000" stroke-width="0.16">Wheel</text>
<text transform="translate(272.20,509.60) rotate(-90)" font-size="5.35" text-anchor="middle" font-weight="bold" fill="#000" stroke="#000" stroke-width="0.16">Revolutions [U]</text>
<text x="386.60" y="543.40" font-size="6.0" text-anchor="middle" font-weight="bold" fill="#000" stroke="#000" stroke-width="0.16" >Days [d]</text>
<text x="7.70" y="10.80" font-size="9.38" text-anchor="start" font-weight="bold" fill="#000" stroke="#000" stroke-width="0.28" >Food-anticipatory activity (FAA)</text>
<text x="8.00" y="31.60" font-size="9.3" text-anchor="start" font-weight="bold" fill="#000" stroke="#000" stroke-width="0.28" >A</text>
<text x="32.20" y="31.60" font-size="9.3" text-anchor="start" font-weight="bold" fill="#000" stroke="#000" stroke-width="0.28" >Early adolescent</text>
<text x="273.50" y="31.30" font-size="9.3" text-anchor="start" font-weight="bold" fill="#000" stroke="#000" stroke-width="0.28" >Adolescent</text>
<text x="8.00" y="124.40" font-size="9.3" text-anchor="start" font-weight="bold" fill="#000" stroke="#000" stroke-width="0.28" >B</text>
<text x="7.60" y="219.60" font-size="9.3" text-anchor="start" font-weight="bold" fill="#000" stroke="#000" stroke-width="0.28" >Night (NA)</text>
<text x="7.60" y="240.40" font-size="9.3" text-anchor="start" font-weight="bold" fill="#000" stroke="#000" stroke-width="0.28" >C</text>
<text x="7.70" y="310.40" font-size="9.3" text-anchor="start" font-weight="bold" fill="#000" stroke="#000" stroke-width="0.28" >D</text>
<text x="7.70" y="387.80" font-size="9.3" text-anchor="start" font-weight="bold" fill="#000" stroke="#000" stroke-width="0.28" >Pre-prandial (PRA)</text>
<text x="7.90" y="406.70" font-size="9.3" text-anchor="start" font-weight="bold" fill="#000" stroke="#000" stroke-width="0.28" >E</text>
<text x="7.90" y="476.10" font-size="9.3" text-anchor="start" font-weight="bold" fill="#000" stroke="#000" stroke-width="0.28" >F</text>
<line x1="114.80" y1="25.60" x2="123.40" y2="25.60" stroke="#000" stroke-width="1.5" />
<line x1="114.80" y1="31.70" x2="123.40" y2="31.70" stroke="#aaa" stroke-width="1.4" />
<text x="126.00" y="28.10" font-size="6.15" text-anchor="start" font-weight="normal" fill="#222" >Control</text>
<text x="126.00" y="35.70" font-size="6.15" text-anchor="start" font-weight="normal" fill="#222" letter-spacing="-0.35">ABA</text>
<line x1="352.70" y1="26.20" x2="360.90" y2="26.20" stroke="#000" stroke-width="1.5" />
<line x1="352.70" y1="31.60" x2="360.90" y2="31.60" stroke="#aaa" stroke-width="1.4" />
<text x="363.00" y="28.80" font-size="5.85" text-anchor="start" font-weight="normal" fill="#222" >Control</text>
<text x="363.00" y="35.30" font-size="5.85" text-anchor="start" font-weight="normal" fill="#222" letter-spacing="-0.35">ABA</text>
<text x="76.70" y="48.60" font-size="6.65" text-anchor="middle" font-weight="bold" fill="#000" stroke="#000" stroke-width="0.16" >Phase of</text>
<text x="76.20" y="60.90" font-size="6.65" text-anchor="middle" font-weight="bold" fill="#000" stroke="#000" stroke-width="0.16" >acclimatisation</text>
<text x="135.20" y="48.60" font-size="6.65" text-anchor="middle" font-weight="bold" fill="#000" stroke="#000" stroke-width="0.16" >Acute</text>
<text x="135.45" y="60.90" font-size="6.65" text-anchor="middle" font-weight="bold" fill="#000" stroke="#000" stroke-width="0.16" >starvation phase</text>
<text x="316.50" y="48.30" font-size="6.65" text-anchor="middle" font-weight="bold" fill="#000" stroke="#000" stroke-width="0.16" >Phase of</text>
<text x="315.90" y="60.60" font-size="6.65" text-anchor="middle" font-weight="bold" fill="#000" stroke="#000" stroke-width="0.16" >acclimatisation</text>
<text x="379.10" y="48.30" font-size="6.65" text-anchor="middle" font-weight="bold" fill="#000" stroke="#000" stroke-width="0.16" >Acute</text>
<text x="379.00" y="60.60" font-size="6.65" text-anchor="middle" font-weight="bold" fill="#000" stroke="#000" stroke-width="0.16" >starvation phase</text>
<text x="195.00" y="126.20" font-size="6.65" text-anchor="middle" font-weight="bold" fill="#000" stroke="#000" stroke-width="0.16" >Chronic</text>
<text x="195.00" y="138.60" font-size="6.65" text-anchor="middle" font-weight="bold" fill="#000" stroke="#000" stroke-width="0.16" >starvation phase</text>
<text x="440.90" y="125.40" font-size="6.65" text-anchor="middle" font-weight="bold" fill="#000" stroke="#000" stroke-width="0.16" >Chronic</text>
<text x="440.70" y="138.10" font-size="6.65" text-anchor="middle" font-weight="bold" fill="#000" stroke="#000" stroke-width="0.16" >starvation phase</text>
<circle cx="128.90" cy="68.50" r="1.26" fill="#000"/>
<circle cx="133.10" cy="68.50" r="1.26" fill="#000"/>
<circle cx="357.10" cy="70.60" r="1.26" fill="#000"/>
<circle cx="361.40" cy="70.60" r="1.26" fill="#000"/>
<circle cx="365.70" cy="70.60" r="1.26" fill="#000"/>
<circle cx="134.00" cy="147.90" r="1.26" fill="#000"/>
<circle cx="138.30" cy="147.90" r="1.26" fill="#000"/>
<circle cx="194.50" cy="148.10" r="1.26" fill="#000"/>
<circle cx="199.00" cy="148.10" r="1.26" fill="#000"/>
<circle cx="203.50" cy="148.10" r="1.26" fill="#000"/>
<circle cx="373.20" cy="148.30" r="1.26" fill="#000"/>
<circle cx="377.50" cy="148.30" r="1.26" fill="#000"/>
<circle cx="381.80" cy="148.30" r="1.26" fill="#000"/>
<circle cx="435.10" cy="147.30" r="1.26" fill="#000"/>
<circle cx="439.60" cy="147.30" r="1.26" fill="#000"/>
<circle cx="444.10" cy="147.30" r="1.26" fill="#000"/>
<circle cx="132.50" cy="320.50" r="1.26" fill="#000"/>
<circle cx="129.80" cy="417.90" r="1.26" fill="#000"/>
<circle cx="134.20" cy="417.90" r="1.26" fill="#000"/>
<circle cx="138.60" cy="417.90" r="1.26" fill="#000"/>
<circle cx="132.70" cy="494.50" r="1.26" fill="#000"/>
<circle cx="137.00" cy="494.50" r="1.26" fill="#000"/>
<circle cx="141.30" cy="494.50" r="1.26" fill="#000"/>
<circle cx="199.50" cy="494.50" r="1.26" fill="#000"/>
</svg>
</body></html>
